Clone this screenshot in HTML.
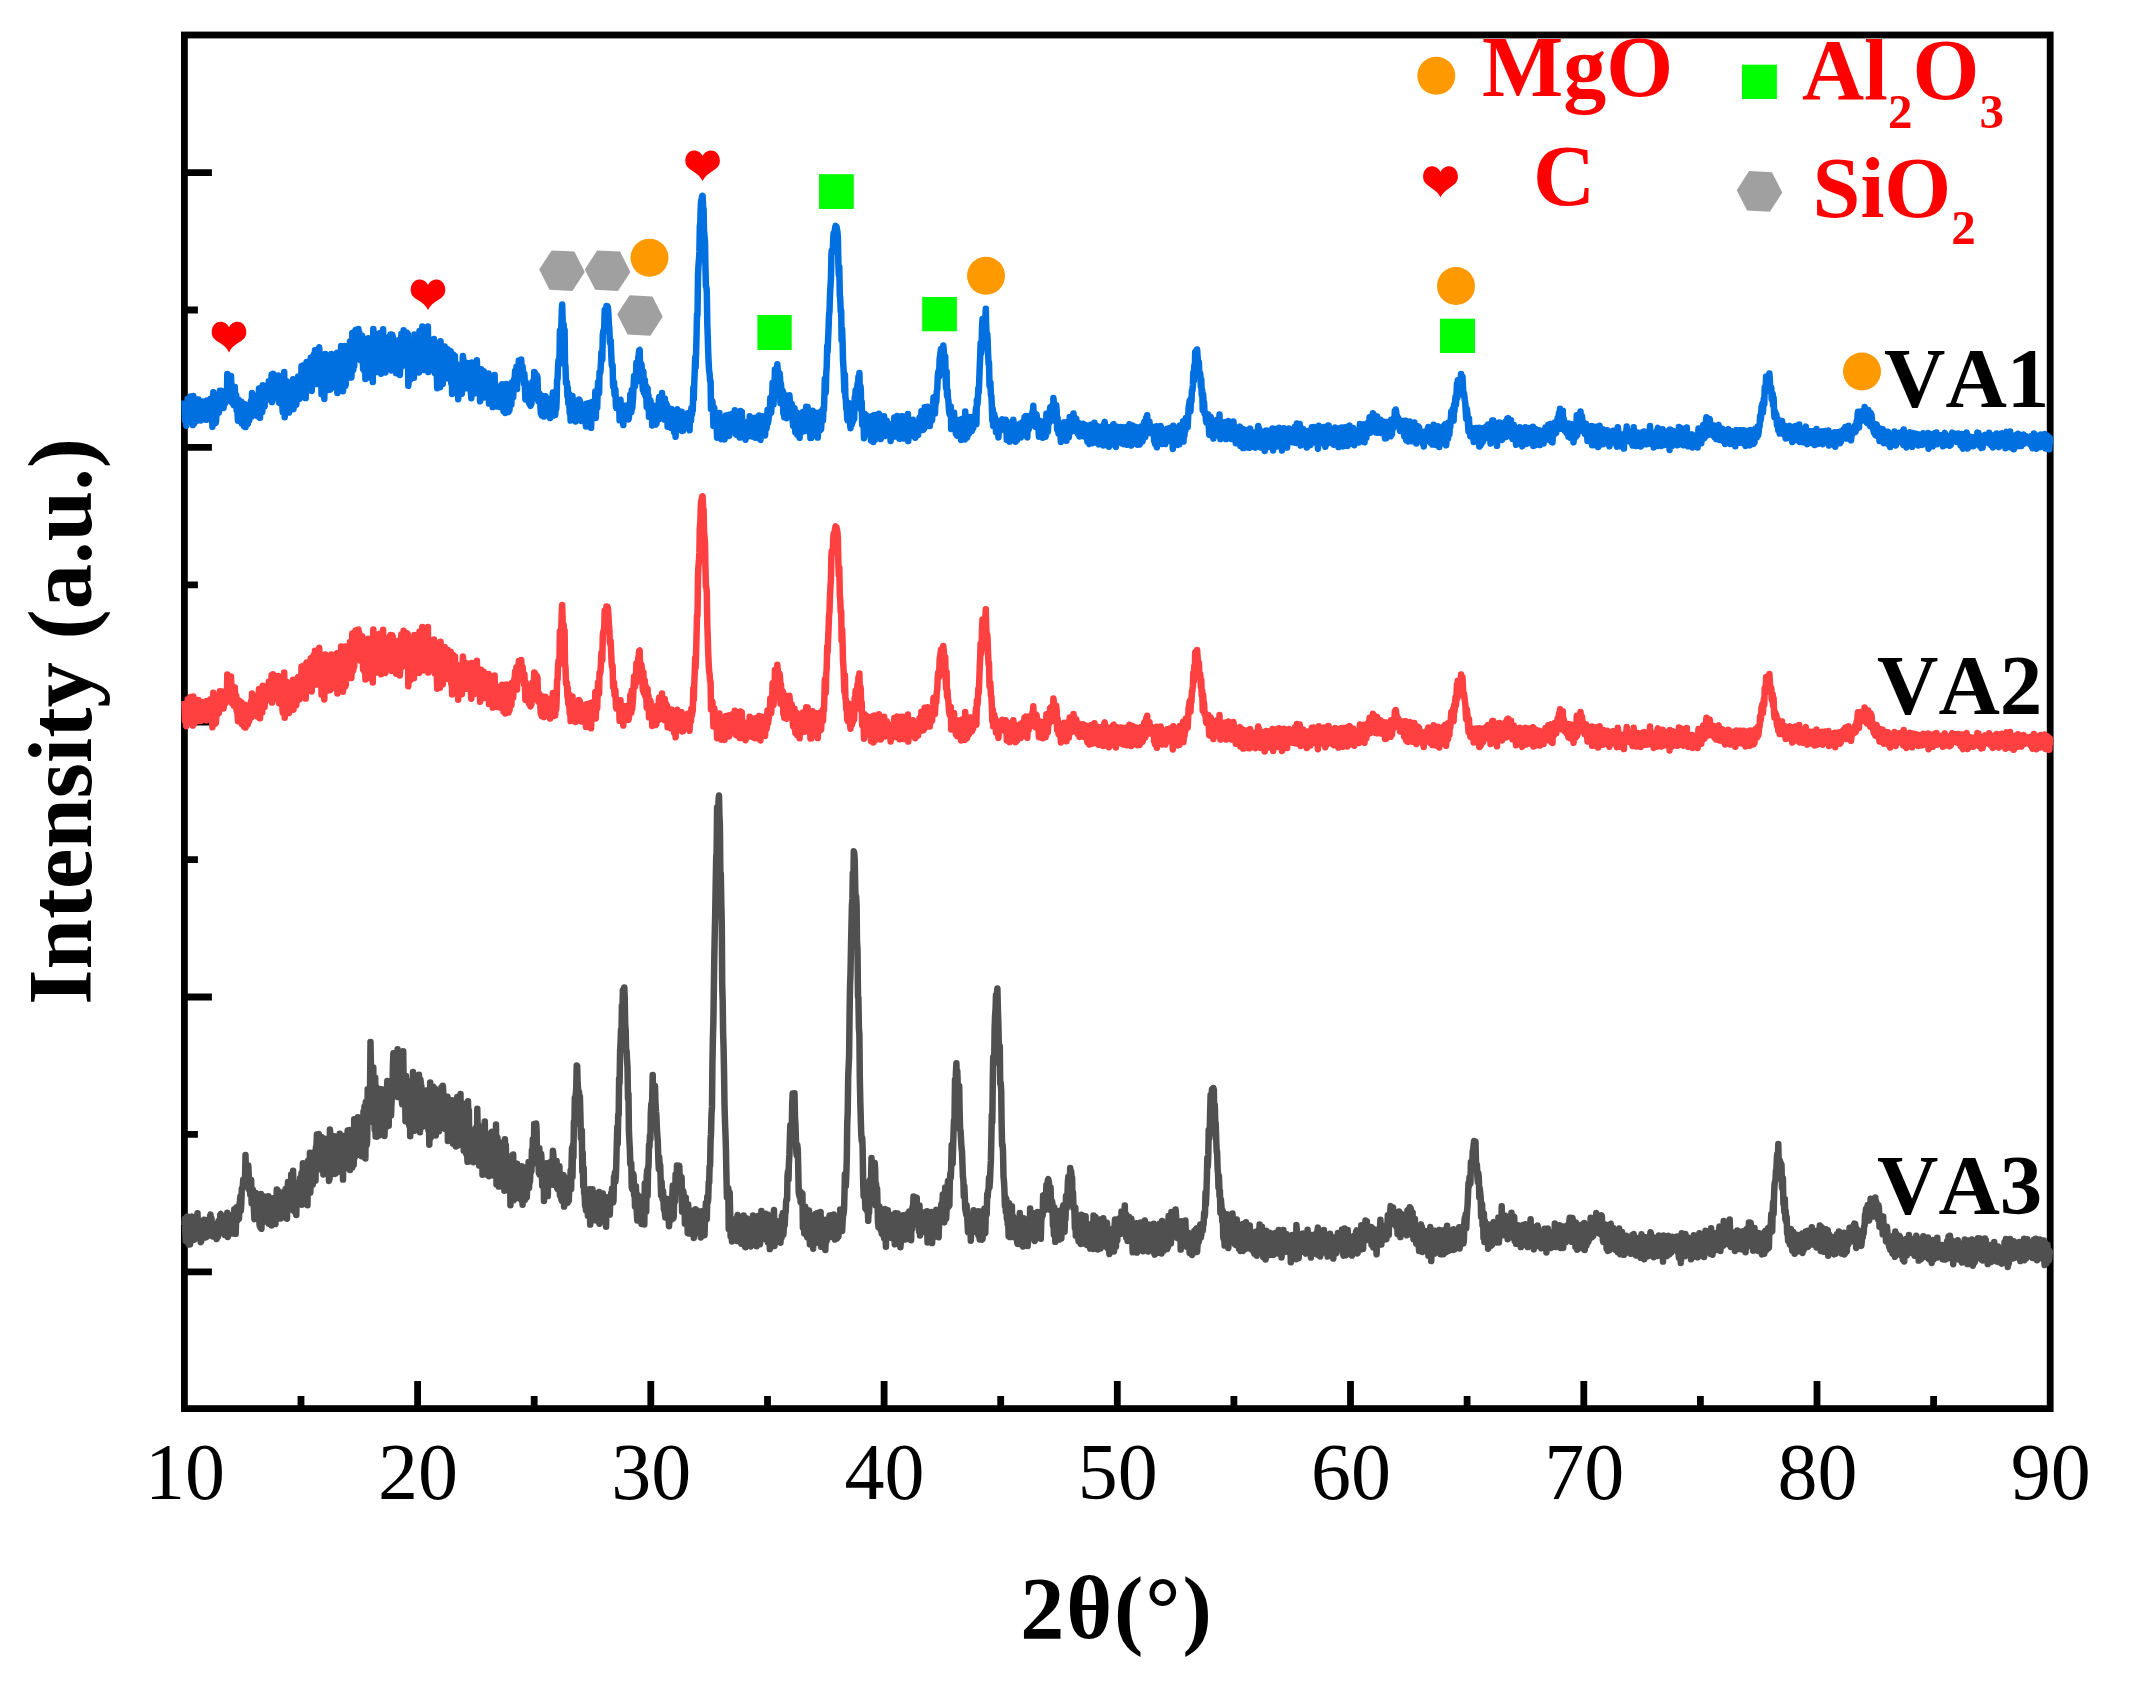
<!DOCTYPE html>
<html><head><meta charset="utf-8"><title>XRD</title>
<style>
html,body{margin:0;padding:0;background:#fff}
svg{display:block}
text{font-family:"Liberation Serif",serif}
.tl{font-size:80px;fill:#000}
.b{font-weight:bold}
.lg{font-size:86px;font-weight:bold;fill:#ff0000}
.va{font-size:85px;font-weight:bold;fill:#000;font-kerning:none}
.c{fill:none;stroke-width:6.5;stroke-linejoin:round;stroke-linecap:butt}
</style></head><body>
<svg width="2133" height="1682" viewBox="0 0 2133 1682">
<rect width="2133" height="1682" fill="#fff"/>
<rect x="184.4" y="35.0" width="1865.8" height="1373.6" fill="none" stroke="#000" stroke-width="6.8"/>
<path d="M301.0 1408.6V1396.1M417.6 1408.6V1381.1M534.2 1408.6V1396.1M650.8 1408.6V1381.1M767.5 1408.6V1396.1M884.1 1408.6V1381.1M1000.7 1408.6V1396.1M1117.3 1408.6V1381.1M1233.9 1408.6V1396.1M1350.5 1408.6V1381.1M1467.1 1408.6V1396.1M1583.8 1408.6V1381.1M1700.4 1408.6V1396.1M1817.0 1408.6V1381.1M1933.6 1408.6V1396.1M184.4 172.6H211.9M184.4 310.0H197.9M184.4 447.4H211.9M184.4 584.8H197.9M184.4 722.2H211.9M184.4 859.6H197.9M184.4 997.0H211.9M184.4 1134.4H197.9M184.4 1271.8H211.9" stroke="#000" stroke-width="6.8" fill="none"/>
<path class="c" stroke="#0070e0" d="M184.4 400.3L184.9 420.2L185.3 409.7L185.8 413.6L186.3 425.7L186.7 410.1L187.2 410.5L187.7 398.8L188.1 407.9L188.6 408.5L189.1 416.0L189.5 419.3L190.0 407.9L190.5 396.5L190.9 401.4L191.4 421.8L191.9 406.5L192.3 408.7L192.8 425.1L193.3 396.1L193.7 414.4L194.2 423.5L194.7 402.0L195.1 410.4L195.6 420.1L196.1 399.2L196.5 408.4L197.0 420.7L197.5 415.5L197.9 411.3L198.4 399.5L198.9 411.2L199.3 405.5L199.8 406.8L200.3 409.1L200.7 420.4L201.2 413.7L201.7 404.3L202.1 410.7L202.6 401.6L203.1 405.2L203.5 403.6L204.0 414.2L204.5 410.0L204.9 415.3L205.4 419.3L205.9 407.7L206.3 419.8L206.8 400.5L207.3 417.7L207.7 405.2L208.2 402.8L208.7 417.4L209.1 412.4L209.6 406.8L210.1 402.3L210.5 398.8L211.0 415.3L211.5 414.5L211.9 411.2L212.4 426.8L212.9 416.5L213.3 392.3L213.8 404.1L214.3 410.1L214.7 405.7L215.2 421.9L215.7 423.1L216.1 420.4L216.6 409.4L217.1 414.5L217.5 396.8L218.0 402.1L218.5 406.4L218.9 412.6L219.4 406.1L219.9 390.7L220.3 398.9L220.8 393.5L221.2 400.1L221.7 391.1L222.2 402.5L222.6 398.7L223.1 405.6L223.6 408.0L224.0 400.7L224.5 394.3L225.0 396.4L225.4 403.1L225.9 399.5L226.4 399.1L226.8 401.2L227.3 374.0L227.8 399.9L228.2 382.6L228.7 387.6L229.2 397.2L229.6 393.1L230.1 380.0L230.6 397.5L231.0 375.9L231.5 389.7L232.0 402.5L232.4 395.1L232.9 401.6L233.4 401.2L233.8 405.1L234.3 404.5L234.8 387.0L235.2 402.2L235.7 400.2L236.2 395.0L236.6 410.1L237.1 408.0L237.6 414.7L238.0 420.7L238.5 402.3L239.0 400.0L239.4 416.3L239.9 401.8L240.4 403.5L240.8 417.1L241.3 401.7L241.8 423.3L242.2 421.1L242.7 403.6L243.2 413.7L243.6 420.6L244.1 426.2L244.6 404.1L245.0 406.5L245.5 427.1L246.0 425.6L246.4 405.6L246.9 412.0L247.4 415.0L247.8 423.9L248.3 407.0L248.8 419.5L249.2 420.7L249.7 413.6L250.2 403.6L250.6 403.2L251.1 400.4L251.6 416.7L252.0 393.0L252.5 398.6L253.0 404.8L253.4 399.9L253.9 399.2L254.4 395.6L254.8 412.0L255.3 414.9L255.8 403.5L256.2 400.6L256.7 402.3L257.2 408.7L257.6 416.1L258.1 414.1L258.6 394.7L259.0 388.4L259.5 412.9L260.0 417.8L260.4 401.6L260.9 410.1L261.4 406.5L261.8 403.1L262.3 411.9L262.8 385.2L263.2 390.2L263.7 394.1L264.2 390.0L264.6 406.5L265.1 386.5L265.6 401.1L266.0 385.9L266.5 389.9L267.0 395.2L267.4 386.0L267.9 390.8L268.4 396.2L268.8 381.3L269.3 396.0L269.8 386.2L270.2 384.5L270.7 383.4L271.2 384.8L271.6 374.8L272.1 402.1L272.6 391.7L273.0 373.8L273.5 381.6L274.0 375.1L274.4 380.4L274.9 376.1L275.4 384.3L275.8 397.9L276.3 376.5L276.8 389.9L277.2 387.4L277.7 394.4L278.2 375.6L278.6 394.4L279.1 402.9L279.6 391.1L280.0 385.3L280.5 398.2L281.0 397.8L281.4 400.8L281.9 381.1L282.4 407.8L282.8 412.3L283.3 393.5L283.8 393.4L284.2 372.0L284.7 417.2L285.2 411.7L285.6 392.2L286.1 402.5L286.6 381.2L287.0 390.3L287.5 387.7L288.0 400.1L288.4 384.3L288.9 412.6L289.4 389.0L289.8 387.6L290.3 382.2L290.8 403.9L291.2 408.5L291.7 397.6L292.1 391.6L292.6 399.6L293.1 379.3L293.5 409.2L294.0 399.7L294.5 387.4L294.9 397.8L295.4 400.0L295.9 381.8L296.3 404.6L296.8 388.5L297.3 400.3L297.7 399.9L298.2 376.4L298.7 390.0L299.1 377.8L299.6 398.9L300.1 388.5L300.5 383.2L301.0 395.8L301.5 366.2L301.9 389.9L302.4 380.6L302.9 365.6L303.3 391.4L303.8 382.6L304.3 393.9L304.7 381.2L305.2 376.4L305.7 398.1L306.1 367.6L306.6 361.9L307.1 390.3L307.5 378.3L308.0 366.5L308.5 389.6L308.9 367.7L309.4 389.3L309.9 376.2L310.3 370.8L310.8 357.7L311.3 363.5L311.7 391.0L312.2 370.4L312.7 356.6L313.1 364.0L313.6 384.1L314.1 354.3L314.5 377.2L315.0 350.3L315.5 381.6L315.9 372.6L316.4 356.5L316.9 384.1L317.3 362.3L317.8 374.5L318.3 376.3L318.7 350.3L319.2 347.3L319.7 357.6L320.1 366.1L320.6 356.3L321.1 358.4L321.5 394.1L322.0 355.7L322.5 369.2L322.9 360.4L323.4 365.6L323.9 384.9L324.3 399.0L324.8 368.6L325.3 354.0L325.7 390.5L326.2 359.3L326.7 370.6L327.1 375.6L327.6 390.1L328.1 385.7L328.5 375.5L329.0 368.3L329.5 388.5L329.9 388.7L330.4 389.5L330.9 383.3L331.3 354.0L331.8 363.4L332.3 370.0L332.7 373.8L333.2 387.3L333.7 365.2L334.1 384.8L334.6 369.2L335.1 381.2L335.5 356.4L336.0 370.7L336.5 353.8L336.9 352.8L337.4 392.9L337.9 363.3L338.3 385.5L338.8 365.8L339.3 352.6L339.7 387.7L340.2 357.1L340.7 386.9L341.1 346.1L341.6 377.4L342.1 355.9L342.5 362.0L343.0 391.2L343.5 365.0L343.9 384.8L344.4 384.8L344.9 346.0L345.3 386.1L345.8 384.4L346.3 357.7L346.7 363.5L347.2 352.6L347.7 378.0L348.1 354.0L348.6 362.8L349.1 375.7L349.5 373.1L350.0 341.4L350.5 377.6L350.9 349.1L351.4 377.4L351.9 359.7L352.3 332.9L352.8 370.6L353.3 369.7L353.7 361.0L354.2 366.1L354.7 341.2L355.1 336.7L355.6 329.9L356.1 347.4L356.5 345.3L357.0 338.0L357.5 348.1L357.9 339.8L358.4 329.0L358.9 342.1L359.3 332.6L359.8 350.4L360.3 360.0L360.7 335.6L361.2 359.8L361.7 349.5L362.1 335.7L362.6 352.6L363.1 368.9L363.5 349.8L364.0 362.5L364.4 371.1L364.9 347.8L365.4 378.9L365.8 349.5L366.3 356.8L366.8 361.8L367.2 355.1L367.7 362.2L368.2 338.3L368.6 377.4L369.1 359.7L369.6 344.9L370.0 354.0L370.5 373.3L371.0 365.0L371.4 353.1L371.9 350.0L372.4 349.3L372.8 381.9L373.3 328.9L373.8 365.6L374.2 367.1L374.7 341.8L375.2 342.9L375.6 354.0L376.1 368.2L376.6 372.1L377.0 372.1L377.5 344.8L378.0 333.8L378.4 344.3L378.9 357.1L379.4 347.3L379.8 333.2L380.3 354.8L380.8 366.3L381.2 373.7L381.7 370.5L382.2 366.9L382.6 366.1L383.1 329.3L383.6 364.9L384.0 340.9L384.5 350.9L385.0 343.2L385.4 372.5L385.9 354.8L386.4 344.0L386.8 343.4L387.3 362.2L387.8 364.5L388.2 338.1L388.7 344.0L389.2 342.5L389.6 336.2L390.1 352.9L390.6 334.5L391.0 361.4L391.5 370.4L392.0 367.3L392.4 334.8L392.9 337.2L393.4 347.2L393.8 350.0L394.3 351.4L394.8 345.7L395.2 349.6L395.7 340.9L396.2 373.3L396.6 364.4L397.1 345.1L397.6 363.6L398.0 357.4L398.5 352.3L399.0 340.1L399.4 355.1L399.9 375.0L400.4 360.9L400.8 367.6L401.3 334.1L401.8 353.1L402.2 352.7L402.7 339.1L403.2 350.2L403.6 330.2L404.1 339.6L404.6 360.7L405.0 357.6L405.5 365.6L406.0 334.5L406.4 339.1L406.9 334.8L407.4 332.9L407.8 333.9L408.3 385.8L408.8 374.1L409.2 341.3L409.7 345.8L410.2 379.6L410.6 355.7L411.1 348.6L411.6 357.9L412.0 344.3L412.5 361.1L413.0 363.5L413.4 354.4L413.9 377.8L414.4 334.4L414.8 360.2L415.3 372.9L415.8 340.3L416.2 358.8L416.7 368.6L417.2 347.8L417.6 367.7L418.1 362.1L418.6 353.0L419.0 372.5L419.5 331.0L420.0 368.9L420.4 336.9L420.9 341.3L421.4 355.2L421.8 346.3L422.3 326.5L422.8 336.2L423.2 348.5L423.7 369.9L424.2 362.7L424.6 349.1L425.1 368.8L425.6 363.8L426.0 336.0L426.5 329.5L427.0 348.0L427.4 340.0L427.9 326.5L428.4 372.1L428.8 364.9L429.3 349.7L429.8 356.5L430.2 367.6L430.7 367.7L431.2 360.9L431.6 357.6L432.1 352.7L432.6 353.6L433.0 354.1L433.5 350.5L434.0 339.0L434.4 356.1L434.9 373.2L435.4 354.9L435.8 373.5L436.3 373.3L436.7 372.1L437.2 388.2L437.7 343.7L438.1 344.6L438.6 387.2L439.1 382.8L439.5 349.5L440.0 387.3L440.5 341.2L440.9 348.4L441.4 352.2L441.9 353.9L442.3 364.4L442.8 383.9L443.3 363.1L443.7 355.6L444.2 358.1L444.7 346.4L445.1 351.0L445.6 362.9L446.1 374.1L446.5 363.1L447.0 370.3L447.5 349.2L447.9 378.5L448.4 366.9L448.9 362.6L449.3 376.8L449.8 360.4L450.3 358.6L450.7 351.3L451.2 383.1L451.7 360.0L452.1 393.9L452.6 373.3L453.1 354.5L453.5 377.9L454.0 386.8L454.5 391.0L454.9 356.1L455.4 386.1L455.9 381.5L456.3 363.8L456.8 371.2L457.3 375.8L457.7 373.3L458.2 399.2L458.7 378.8L459.1 385.9L459.6 382.1L460.1 380.5L460.5 372.0L461.0 368.3L461.5 382.9L461.9 393.7L462.4 366.9L462.9 356.0L463.3 359.5L463.8 377.5L464.3 383.7L464.7 366.4L465.2 369.5L465.7 377.2L466.1 388.3L466.6 368.0L467.1 363.1L467.5 379.8L468.0 374.4L468.5 369.2L468.9 381.8L469.4 385.7L469.9 363.8L470.3 383.2L470.8 392.3L471.3 398.3L471.7 362.5L472.2 390.4L472.7 366.8L473.1 382.7L473.6 378.8L474.1 393.7L474.5 384.5L475.0 364.1L475.5 386.9L475.9 371.9L476.4 392.4L476.9 360.3L477.3 374.1L477.8 383.7L478.3 370.4L478.7 381.9L479.2 389.5L479.7 390.1L480.1 401.3L480.6 378.8L481.1 369.2L481.5 378.4L482.0 380.9L482.5 373.3L482.9 393.7L483.4 371.5L483.9 371.4L484.3 397.4L484.8 395.3L485.3 377.6L485.7 378.9L486.2 396.0L486.7 384.8L487.1 382.1L487.6 388.0L488.1 398.7L488.5 373.5L489.0 403.6L489.5 389.1L489.9 381.0L490.4 403.7L490.9 380.0L491.3 388.7L491.8 394.1L492.3 383.1L492.7 407.1L493.2 396.7L493.7 380.6L494.1 385.3L494.6 375.0L495.1 395.4L495.5 384.6L496.0 392.1L496.5 405.3L496.9 406.5L497.4 386.6L497.9 389.5L498.3 394.1L498.8 393.2L499.3 393.2L499.7 394.9L500.2 407.1L500.7 394.9L501.1 391.0L501.6 392.7L502.1 384.3L502.5 400.6L503.0 392.3L503.5 411.2L503.9 408.3L504.4 388.5L504.9 389.0L505.3 412.9L505.8 401.9L506.3 384.1L506.7 406.9L507.2 392.0L507.6 406.7L508.1 409.0L508.6 412.0L509.0 405.1L509.5 409.8L510.0 390.4L510.4 395.5L510.9 387.3L511.4 404.6L511.8 382.5L512.3 390.9L512.8 391.1L513.2 397.2L513.7 385.3L514.2 379.0L514.6 380.9L515.1 371.1L515.6 374.5L516.0 385.8L516.5 366.7L517.0 389.1L517.4 372.7L517.9 368.3L518.4 377.4L518.8 360.5L519.3 366.2L519.8 375.8L520.2 361.7L520.7 377.2L521.2 359.4L521.6 369.7L522.1 377.8L522.6 366.6L523.0 371.9L523.5 378.2L524.0 384.0L524.4 374.0L524.9 385.7L525.4 399.5L525.8 382.3L526.3 396.0L526.8 385.2L527.2 388.8L527.7 392.9L528.2 398.6L528.6 401.2L529.1 403.4L529.6 400.8L530.0 404.0L530.5 405.9L531.0 392.1L531.4 403.9L531.9 389.6L532.4 381.9L532.8 382.9L533.3 398.6L533.8 390.4L534.2 372.0L534.7 389.8L535.2 373.3L535.6 382.1L536.1 384.1L536.6 388.2L537.0 375.5L537.5 377.6L538.0 395.5L538.4 401.2L538.9 400.2L539.4 393.4L539.8 400.7L540.3 404.6L540.8 413.3L541.2 406.2L541.7 415.4L542.2 401.5L542.6 395.9L543.1 402.2L543.6 412.1L544.0 416.6L544.5 403.0L545.0 412.9L545.4 396.2L545.9 410.4L546.4 404.8L546.8 402.4L547.3 398.5L547.8 409.7L548.2 410.9L548.7 411.3L549.2 414.3L549.6 406.7L550.1 418.1L550.6 409.4L551.0 414.1L551.5 407.0L552.0 413.0L552.4 398.7L552.9 392.5L553.4 415.6L553.8 399.2L554.3 392.7L554.8 403.0L555.2 415.1L555.7 405.9L556.2 409.3L556.6 401.5L557.1 379.8L557.6 378.9L558.0 366.4L558.5 360.3L559.0 363.0L559.4 364.1L559.9 330.7L560.4 338.8L560.8 331.3L561.3 327.3L561.8 310.4L562.2 304.4L562.7 322.1L563.2 325.4L563.6 324.0L564.1 333.9L564.6 330.0L565.0 362.9L565.5 366.9L566.0 383.1L566.4 382.3L566.9 382.1L567.4 396.1L567.8 387.7L568.3 403.3L568.8 393.6L569.2 401.8L569.7 413.2L570.2 404.3L570.6 420.6L571.1 412.1L571.6 400.9L572.0 402.9L572.5 395.9L573.0 412.9L573.4 416.8L573.9 402.5L574.4 412.7L574.8 419.4L575.3 411.3L575.8 421.5L576.2 420.7L576.7 412.4L577.2 412.2L577.6 402.5L578.1 410.4L578.6 418.8L579.0 399.4L579.5 403.5L579.9 400.7L580.4 403.3L580.9 407.5L581.3 420.9L581.8 414.4L582.3 413.3L582.7 407.9L583.2 409.0L583.7 415.3L584.1 418.8L584.6 406.7L585.1 408.5L585.5 418.1L586.0 426.5L586.5 403.8L586.9 411.4L587.4 414.5L587.9 405.2L588.3 412.4L588.8 422.3L589.3 403.0L589.7 411.7L590.2 402.8L590.7 413.0L591.1 427.8L591.6 409.8L592.1 402.0L592.5 405.8L593.0 417.5L593.5 415.4L593.9 409.4L594.4 408.0L594.9 416.2L595.3 391.5L595.8 417.9L596.3 401.8L596.7 397.2L597.2 408.0L597.7 390.1L598.1 381.9L598.6 383.1L599.1 393.2L599.5 372.4L600.0 373.4L600.5 371.2L600.9 364.0L601.4 352.4L601.9 360.1L602.3 359.6L602.8 334.5L603.3 331.5L603.7 329.8L604.2 328.5L604.7 309.9L605.1 319.6L605.6 317.9L606.1 312.6L606.5 306.0L607.0 315.5L607.5 306.3L607.9 307.4L608.4 314.0L608.9 324.9L609.3 327.1L609.8 341.6L610.3 343.8L610.7 340.6L611.2 353.3L611.7 364.2L612.1 366.4L612.6 365.0L613.1 386.5L613.5 385.2L614.0 381.9L614.5 394.5L614.9 389.0L615.4 389.7L615.9 406.2L616.3 407.9L616.8 401.7L617.3 400.3L617.7 407.5L618.2 408.9L618.7 405.6L619.1 403.3L619.6 420.3L620.1 402.7L620.5 399.8L621.0 416.5L621.5 419.4L621.9 405.9L622.4 409.6L622.9 413.8L623.3 425.1L623.8 406.0L624.3 416.0L624.7 405.8L625.2 414.6L625.7 413.1L626.1 412.0L626.6 415.1L627.1 408.4L627.5 405.2L628.0 406.8L628.5 419.4L628.9 417.5L629.4 407.5L629.9 411.1L630.3 394.7L630.8 400.3L631.3 412.2L631.7 390.2L632.2 408.6L632.7 402.6L633.1 397.2L633.6 385.6L634.1 376.1L634.5 381.4L635.0 386.2L635.5 375.2L635.9 377.4L636.4 362.8L636.9 381.3L637.3 378.0L637.8 369.7L638.3 357.4L638.7 354.7L639.2 350.4L639.7 350.0L640.1 368.1L640.6 363.1L641.1 374.7L641.5 364.6L642.0 370.8L642.5 384.7L642.9 390.0L643.4 371.8L643.9 392.3L644.3 386.0L644.8 380.1L645.3 395.6L645.7 385.6L646.2 394.1L646.7 407.0L647.1 405.7L647.6 388.6L648.1 408.0L648.5 395.8L649.0 416.8L649.5 415.0L649.9 414.1L650.4 400.2L650.8 402.9L651.3 415.3L651.8 409.4L652.2 425.4L652.7 413.0L653.2 410.9L653.6 406.2L654.1 417.2L654.6 424.0L655.0 405.9L655.5 424.6L656.0 406.5L656.4 423.5L656.9 413.7L657.4 407.2L657.8 415.3L658.3 419.7L658.8 400.5L659.2 397.0L659.7 398.0L660.2 405.3L660.6 417.3L661.1 418.0L661.6 401.4L662.0 393.1L662.5 406.4L663.0 405.9L663.4 400.0L663.9 408.9L664.4 419.6L664.8 398.6L665.3 404.8L665.8 417.9L666.2 403.5L666.7 407.8L667.2 405.4L667.6 426.7L668.1 412.1L668.6 409.0L669.0 422.3L669.5 426.8L670.0 427.3L670.4 414.8L670.9 428.0L671.4 409.1L671.8 419.5L672.3 419.0L672.8 422.7L673.2 416.8L673.7 415.1L674.2 432.5L674.6 415.5L675.1 421.0L675.6 436.8L676.0 418.2L676.5 418.4L677.0 425.2L677.4 409.3L677.9 412.0L678.4 425.3L678.8 420.2L679.3 413.5L679.8 411.7L680.2 425.8L680.7 429.8L681.2 422.8L681.6 411.8L682.1 430.9L682.6 416.8L683.0 430.6L683.5 415.1L684.0 428.5L684.4 426.1L684.9 419.4L685.4 423.9L685.8 424.5L686.3 424.4L686.8 422.7L687.2 425.9L687.7 413.2L688.2 420.5L688.6 425.9L689.1 421.5L689.6 430.2L690.0 417.4L690.5 415.7L691.0 420.7L691.4 408.2L691.9 415.0L692.4 410.1L692.8 410.1L693.3 387.8L693.8 399.1L694.2 385.0L694.7 372.4L695.2 357.6L695.6 367.3L696.1 352.0L696.6 333.2L697.0 314.8L697.5 314.8L698.0 275.5L698.4 266.3L698.9 260.6L699.4 251.9L699.8 226.9L700.3 222.6L700.8 205.6L701.2 200.4L701.7 199.1L702.2 195.8L702.6 195.7L703.1 207.1L703.6 209.3L704.0 230.7L704.5 235.8L705.0 242.0L705.4 265.8L705.9 286.5L706.4 287.1L706.8 291.8L707.3 324.1L707.8 338.0L708.2 352.0L708.7 363.6L709.2 371.5L709.6 373.4L710.1 380.8L710.6 381.2L711.0 409.0L711.5 407.2L712.0 402.6L712.4 401.2L712.9 409.1L713.4 426.0L713.8 410.3L714.3 407.6L714.8 420.5L715.2 418.5L715.7 425.9L716.2 424.4L716.6 423.9L717.1 437.7L717.6 437.1L718.0 419.1L718.5 421.6L719.0 423.8L719.4 413.1L719.9 432.3L720.4 429.3L720.8 422.1L721.3 439.2L721.8 429.3L722.2 420.1L722.7 427.9L723.1 435.2L723.6 434.7L724.1 435.2L724.5 439.4L725.0 426.1L725.5 425.4L725.9 415.6L726.4 424.6L726.9 421.4L727.3 416.9L727.8 435.2L728.3 415.6L728.7 414.9L729.2 435.9L729.7 427.7L730.1 425.2L730.6 432.3L731.1 422.2L731.5 416.7L732.0 425.9L732.5 413.7L732.9 426.2L733.4 431.3L733.9 429.2L734.3 432.0L734.8 410.2L735.3 419.7L735.7 434.2L736.2 434.7L736.7 422.9L737.1 430.4L737.6 420.8L738.1 419.3L738.5 416.8L739.0 434.9L739.5 423.8L739.9 437.6L740.4 410.9L740.9 429.9L741.3 433.5L741.8 412.1L742.3 427.4L742.7 432.1L743.2 434.3L743.7 433.1L744.1 432.6L744.6 436.5L745.1 424.7L745.5 439.7L746.0 428.7L746.5 422.2L746.9 437.2L747.4 423.3L747.9 422.8L748.3 435.0L748.8 435.7L749.3 426.6L749.7 416.2L750.2 430.1L750.7 427.6L751.1 434.3L751.6 422.5L752.1 436.4L752.5 433.7L753.0 436.0L753.5 431.8L753.9 430.6L754.4 434.7L754.9 437.7L755.3 417.7L755.8 428.9L756.3 435.8L756.7 436.8L757.2 418.7L757.7 424.4L758.1 437.8L758.6 429.2L759.1 415.6L759.5 424.8L760.0 432.2L760.5 439.9L760.9 425.9L761.4 420.3L761.9 418.7L762.3 416.7L762.8 417.6L763.3 416.3L763.7 429.3L764.2 430.7L764.7 424.1L765.1 435.4L765.6 416.5L766.1 416.5L766.5 428.5L767.0 424.5L767.5 409.9L767.9 423.4L768.4 420.4L768.9 416.4L769.3 408.8L769.8 413.9L770.3 398.1L770.7 401.3L771.2 412.5L771.7 403.2L772.1 401.2L772.6 382.8L773.1 391.1L773.5 404.6L774.0 396.0L774.5 394.4L774.9 369.5L775.4 370.4L775.9 372.6L776.3 385.7L776.8 372.8L777.3 364.2L777.7 369.0L778.2 383.8L778.7 376.0L779.1 389.3L779.6 373.3L780.1 378.2L780.5 403.1L781.0 384.0L781.5 401.4L781.9 401.4L782.4 390.3L782.9 391.5L783.3 413.3L783.8 393.8L784.3 417.2L784.7 396.3L785.2 400.3L785.7 407.9L786.1 401.4L786.6 418.2L787.1 401.1L787.5 396.3L788.0 397.0L788.5 403.3L788.9 410.8L789.4 395.3L789.9 401.1L790.3 406.9L790.8 405.0L791.3 416.6L791.7 403.7L792.2 407.8L792.7 421.2L793.1 425.6L793.6 411.9L794.1 426.9L794.5 408.2L795.0 426.7L795.4 432.6L795.9 424.2L796.4 430.9L796.8 412.4L797.3 434.7L797.8 426.1L798.2 424.7L798.7 426.6L799.2 417.2L799.6 437.8L800.1 421.1L800.6 427.7L801.0 416.5L801.5 429.3L802.0 416.4L802.4 431.7L802.9 412.0L803.4 413.8L803.8 415.5L804.3 421.9L804.8 431.1L805.2 410.7L805.7 417.4L806.2 406.8L806.6 411.6L807.1 410.6L807.6 407.0L808.0 421.2L808.5 415.7L809.0 414.4L809.4 423.7L809.9 417.3L810.4 437.9L810.8 418.6L811.3 437.8L811.8 417.1L812.2 432.0L812.7 410.7L813.2 412.5L813.6 414.5L814.1 431.5L814.6 420.9L815.0 418.3L815.5 431.0L816.0 412.7L816.4 425.6L816.9 419.3L817.4 416.1L817.8 437.6L818.3 416.3L818.8 417.4L819.2 427.5L819.7 430.6L820.2 417.7L820.6 412.0L821.1 429.0L821.6 417.3L822.0 414.1L822.5 409.9L823.0 420.3L823.4 408.3L823.9 410.2L824.4 396.0L824.8 379.1L825.3 390.0L825.8 392.8L826.2 373.7L826.7 367.8L827.2 346.1L827.6 351.8L828.1 338.5L828.6 327.8L829.0 315.3L829.5 311.0L830.0 295.4L830.4 286.7L830.9 279.5L831.4 255.1L831.8 250.4L832.3 250.4L832.8 252.3L833.2 238.0L833.7 232.9L834.2 235.2L834.6 237.0L835.1 227.7L835.6 225.9L836.0 226.8L836.5 226.8L837.0 229.7L837.4 231.3L837.9 238.1L838.4 263.9L838.8 274.9L839.3 266.9L839.8 295.6L840.2 298.0L840.7 311.7L841.2 310.5L841.6 339.9L842.1 329.0L842.6 342.2L843.0 360.7L843.5 367.5L844.0 380.6L844.4 391.6L844.9 374.8L845.4 397.8L845.8 398.7L846.3 409.0L846.8 409.6L847.2 418.9L847.7 420.5L848.2 419.5L848.6 403.1L849.1 417.9L849.6 420.5L850.0 422.9L850.5 428.2L851.0 414.7L851.4 406.3L851.9 424.4L852.4 412.9L852.8 421.7L853.3 407.7L853.8 409.2L854.2 418.8L854.7 397.5L855.2 398.6L855.6 390.2L856.1 408.0L856.6 397.9L857.0 389.9L857.5 383.7L858.0 395.1L858.4 377.0L858.9 387.5L859.4 373.1L859.8 389.3L860.3 385.6L860.8 388.9L861.2 409.9L861.7 402.1L862.2 424.8L862.6 419.3L863.1 423.3L863.6 422.6L864.0 438.2L864.5 413.7L865.0 434.6L865.4 421.1L865.9 415.0L866.3 433.4L866.8 416.1L867.3 428.1L867.7 433.6L868.2 419.5L868.7 433.1L869.1 434.4L869.6 430.1L870.1 417.0L870.5 433.3L871.0 440.4L871.5 416.2L871.9 439.3L872.4 436.0L872.9 420.9L873.3 442.0L873.8 435.6L874.3 414.9L874.7 436.3L875.2 439.9L875.7 434.8L876.1 419.5L876.6 426.2L877.1 434.4L877.5 423.5L878.0 422.3L878.5 418.2L878.9 413.7L879.4 422.0L879.9 424.2L880.3 428.0L880.8 439.0L881.3 417.4L881.7 426.3L882.2 432.8L882.7 436.1L883.1 417.1L883.6 432.7L884.1 416.2L884.5 436.1L885.0 423.2L885.5 429.9L885.9 427.6L886.4 430.1L886.9 420.7L887.3 423.5L887.8 423.2L888.3 432.9L888.7 425.7L889.2 431.3L889.7 426.5L890.1 433.0L890.6 441.1L891.1 433.3L891.5 432.5L892.0 428.7L892.5 427.8L892.9 428.9L893.4 423.1L893.9 431.7L894.3 417.6L894.8 431.6L895.3 436.6L895.7 435.5L896.2 433.3L896.7 419.8L897.1 416.1L897.6 419.4L898.1 428.4L898.5 417.6L899.0 416.6L899.5 438.8L899.9 427.1L900.4 416.4L900.9 427.2L901.3 433.2L901.8 425.3L902.3 416.2L902.7 428.3L903.2 419.5L903.7 430.1L904.1 438.5L904.6 417.1L905.1 428.3L905.5 438.1L906.0 430.7L906.5 419.2L906.9 421.8L907.4 426.4L907.9 414.0L908.3 441.1L908.8 431.7L909.3 425.7L909.7 434.7L910.2 423.5L910.7 427.6L911.1 430.0L911.6 421.0L912.1 435.3L912.5 431.6L913.0 419.8L913.5 424.4L913.9 422.2L914.4 436.1L914.9 431.4L915.3 437.7L915.8 432.3L916.3 434.3L916.7 426.9L917.2 435.2L917.7 422.2L918.1 435.0L918.6 426.9L919.1 428.2L919.5 417.8L920.0 426.2L920.5 429.0L920.9 427.9L921.4 411.3L921.9 416.6L922.3 421.8L922.8 430.0L923.3 414.3L923.7 429.4L924.2 427.9L924.7 407.3L925.1 426.9L925.6 420.2L926.1 410.8L926.5 412.2L927.0 416.0L927.5 406.7L927.9 421.7L928.4 410.6L928.9 410.9L929.3 422.1L929.8 426.1L930.3 413.9L930.7 409.4L931.2 421.1L931.7 413.2L932.1 420.2L932.6 406.8L933.1 404.3L933.5 397.5L934.0 402.8L934.5 397.1L934.9 413.5L935.4 404.6L935.9 400.9L936.3 401.8L936.8 391.4L937.3 389.1L937.7 377.4L938.2 372.0L938.6 375.4L939.1 376.7L939.6 359.3L940.0 356.4L940.5 353.4L941.0 348.9L941.4 355.5L941.9 360.5L942.4 365.3L942.8 354.3L943.3 345.6L943.8 350.7L944.2 359.9L944.7 373.2L945.2 356.6L945.6 376.8L946.1 388.1L946.6 371.6L947.0 395.6L947.5 390.0L948.0 398.4L948.4 400.5L948.9 409.1L949.4 413.1L949.8 414.7L950.3 411.8L950.8 406.5L951.2 428.9L951.7 413.6L952.2 416.8L952.6 413.5L953.1 418.1L953.6 427.8L954.0 412.4L954.5 421.7L955.0 426.9L955.4 422.0L955.9 433.8L956.4 424.9L956.8 419.9L957.3 435.7L957.8 426.3L958.2 425.3L958.7 420.1L959.2 434.6L959.6 424.5L960.1 425.0L960.6 429.9L961.0 439.9L961.5 423.9L962.0 419.1L962.4 433.6L962.9 435.8L963.4 427.7L963.8 436.5L964.3 422.8L964.8 439.5L965.2 411.6L965.7 432.6L966.2 436.7L966.6 424.9L967.1 437.7L967.6 435.1L968.0 420.7L968.5 417.0L969.0 433.5L969.4 423.9L969.9 423.3L970.4 418.8L970.8 417.4L971.3 418.3L971.8 431.0L972.2 416.9L972.7 420.0L973.2 428.2L973.6 418.3L974.1 421.7L974.6 418.1L975.0 423.5L975.5 414.3L976.0 408.1L976.4 424.3L976.9 399.9L977.4 404.7L977.8 400.8L978.3 388.5L978.8 392.2L979.2 381.4L979.7 367.7L980.2 356.5L980.6 343.2L981.1 353.1L981.6 347.8L982.0 328.2L982.5 318.9L983.0 322.1L983.4 321.8L983.9 321.3L984.4 320.9L984.8 317.3L985.3 318.6L985.8 308.8L986.2 327.0L986.7 336.8L987.2 333.6L987.6 339.2L988.1 354.4L988.6 364.2L989.0 362.3L989.5 385.6L990.0 387.2L990.4 382.4L990.9 394.8L991.4 396.2L991.8 404.6L992.3 420.5L992.8 409.3L993.2 425.8L993.7 414.2L994.2 414.0L994.6 422.0L995.1 417.3L995.6 420.8L996.0 432.2L996.5 423.3L997.0 430.3L997.4 422.8L997.9 424.0L998.4 437.4L998.8 431.1L999.3 423.3L999.8 427.3L1000.2 420.9L1000.7 423.3L1001.2 426.0L1001.6 421.5L1002.1 419.2L1002.6 420.6L1003.0 421.6L1003.5 429.9L1004.0 421.2L1004.4 429.3L1004.9 426.0L1005.4 423.9L1005.8 419.8L1006.3 423.7L1006.8 440.0L1007.2 427.7L1007.7 428.9L1008.2 437.2L1008.6 435.5L1009.1 437.0L1009.6 441.7L1010.0 429.1L1010.5 422.6L1010.9 429.0L1011.4 424.7L1011.9 436.2L1012.3 425.1L1012.8 436.3L1013.3 419.7L1013.7 427.5L1014.2 429.3L1014.7 423.7L1015.1 437.5L1015.6 441.7L1016.1 428.3L1016.5 431.6L1017.0 439.9L1017.5 433.1L1017.9 430.4L1018.4 432.2L1018.9 428.3L1019.3 430.7L1019.8 436.3L1020.3 423.8L1020.7 437.6L1021.2 428.0L1021.7 432.2L1022.1 422.4L1022.6 434.6L1023.1 421.8L1023.5 430.7L1024.0 430.7L1024.5 417.3L1024.9 432.4L1025.4 430.7L1025.9 416.0L1026.3 435.4L1026.8 430.1L1027.3 437.4L1027.7 428.0L1028.2 420.2L1028.7 429.3L1029.1 416.0L1029.6 418.6L1030.1 421.6L1030.5 415.7L1031.0 425.4L1031.5 418.2L1031.9 418.1L1032.4 411.9L1032.9 412.4L1033.3 405.7L1033.8 422.7L1034.3 419.5L1034.7 415.5L1035.2 413.5L1035.7 427.0L1036.1 418.3L1036.6 414.4L1037.1 421.2L1037.5 421.8L1038.0 426.8L1038.5 428.6L1038.9 436.7L1039.4 433.1L1039.9 428.4L1040.3 421.0L1040.8 433.6L1041.3 433.3L1041.7 427.9L1042.2 430.7L1042.7 437.7L1043.1 422.2L1043.6 430.5L1044.1 436.7L1044.5 423.0L1045.0 422.6L1045.5 436.8L1045.9 435.4L1046.4 413.7L1046.9 426.6L1047.3 424.1L1047.8 431.7L1048.3 424.6L1048.7 422.5L1049.2 423.0L1049.7 420.7L1050.1 407.6L1050.6 406.9L1051.1 408.2L1051.5 420.4L1052.0 406.0L1052.5 413.0L1052.9 417.3L1053.4 398.0L1053.9 403.0L1054.3 405.1L1054.8 416.7L1055.3 420.8L1055.7 405.9L1056.2 405.1L1056.7 410.9L1057.1 429.2L1057.6 418.0L1058.1 428.9L1058.5 433.6L1059.0 434.1L1059.5 426.5L1059.9 423.5L1060.4 433.4L1060.9 442.0L1061.3 441.0L1061.8 428.9L1062.3 430.8L1062.7 432.4L1063.2 427.3L1063.7 427.7L1064.1 422.3L1064.6 431.9L1065.1 425.6L1065.5 439.8L1066.0 431.8L1066.5 440.8L1066.9 435.3L1067.4 430.0L1067.9 421.7L1068.3 423.7L1068.8 437.3L1069.3 429.6L1069.7 417.0L1070.2 423.3L1070.7 432.0L1071.1 430.5L1071.6 431.5L1072.1 430.6L1072.5 421.7L1073.0 425.1L1073.5 413.4L1073.9 422.4L1074.4 421.2L1074.9 417.4L1075.3 418.7L1075.8 431.2L1076.3 419.1L1076.7 427.6L1077.2 424.0L1077.7 433.6L1078.1 422.9L1078.6 423.1L1079.1 424.1L1079.5 436.5L1080.0 426.0L1080.5 433.3L1080.9 431.5L1081.4 429.8L1081.8 430.7L1082.3 434.2L1082.8 423.7L1083.2 433.3L1083.7 428.4L1084.2 428.2L1084.6 436.5L1085.1 429.1L1085.6 425.0L1086.0 428.2L1086.5 431.7L1087.0 438.4L1087.4 441.7L1087.9 434.2L1088.4 426.7L1088.8 441.0L1089.3 444.1L1089.8 427.8L1090.2 431.5L1090.7 424.8L1091.2 439.6L1091.6 426.9L1092.1 443.2L1092.6 434.4L1093.0 438.9L1093.5 430.1L1094.0 431.3L1094.4 422.7L1094.9 442.4L1095.4 429.6L1095.8 431.5L1096.3 431.1L1096.8 425.9L1097.2 432.2L1097.7 430.5L1098.2 443.5L1098.6 444.3L1099.1 429.7L1099.6 442.1L1100.0 426.8L1100.5 434.5L1101.0 443.1L1101.4 431.2L1101.9 426.9L1102.4 437.3L1102.8 438.2L1103.3 445.5L1103.8 432.9L1104.2 423.8L1104.7 421.8L1105.2 432.8L1105.6 426.0L1106.1 437.8L1106.6 428.8L1107.0 432.6L1107.5 436.2L1108.0 426.9L1108.4 441.3L1108.9 446.8L1109.4 431.9L1109.8 437.2L1110.3 431.8L1110.8 442.3L1111.2 444.7L1111.7 442.9L1112.2 431.4L1112.6 430.8L1113.1 424.4L1113.6 424.2L1114.0 443.2L1114.5 433.8L1115.0 432.8L1115.4 428.8L1115.9 447.0L1116.4 426.5L1116.8 436.2L1117.3 439.3L1117.8 438.6L1118.2 441.9L1118.7 439.1L1119.2 434.9L1119.6 435.8L1120.1 442.0L1120.6 426.9L1121.0 431.1L1121.5 443.2L1122.0 443.5L1122.4 439.1L1122.9 427.3L1123.4 441.8L1123.8 444.1L1124.3 432.8L1124.8 431.4L1125.2 434.3L1125.7 437.6L1126.2 430.6L1126.6 427.0L1127.1 444.8L1127.6 434.7L1128.0 438.0L1128.5 431.5L1129.0 427.1L1129.4 424.3L1129.9 427.7L1130.4 441.7L1130.8 441.5L1131.3 445.5L1131.8 444.2L1132.2 428.6L1132.7 425.5L1133.2 437.9L1133.6 434.9L1134.1 443.6L1134.6 438.6L1135.0 430.5L1135.5 436.1L1136.0 427.0L1136.4 436.1L1136.9 428.2L1137.4 444.7L1137.8 440.1L1138.3 444.0L1138.8 441.4L1139.2 442.3L1139.7 444.5L1140.2 443.3L1140.6 438.1L1141.1 426.5L1141.6 435.7L1142.0 433.8L1142.5 441.5L1143.0 439.4L1143.4 433.3L1143.9 423.5L1144.4 421.7L1144.8 435.1L1145.3 437.2L1145.8 424.8L1146.2 417.8L1146.7 419.4L1147.2 415.3L1147.6 433.4L1148.1 425.6L1148.6 425.7L1149.0 431.7L1149.5 421.8L1150.0 428.8L1150.4 432.9L1150.9 427.2L1151.4 426.3L1151.8 428.0L1152.3 428.6L1152.8 429.7L1153.2 432.9L1153.7 429.8L1154.1 440.6L1154.6 442.0L1155.1 444.1L1155.5 442.3L1156.0 432.5L1156.5 426.2L1156.9 447.3L1157.4 436.9L1157.9 443.8L1158.3 443.3L1158.8 432.0L1159.3 437.3L1159.7 430.6L1160.2 431.5L1160.7 426.0L1161.1 430.2L1161.6 429.9L1162.1 443.9L1162.5 434.5L1163.0 441.9L1163.5 432.9L1163.9 431.7L1164.4 438.2L1164.9 429.9L1165.3 444.0L1165.8 432.9L1166.3 434.1L1166.7 440.7L1167.2 428.7L1167.7 441.0L1168.1 429.6L1168.6 429.8L1169.1 437.6L1169.5 439.7L1170.0 427.9L1170.5 434.8L1170.9 433.7L1171.4 437.9L1171.9 431.0L1172.3 438.5L1172.8 448.9L1173.3 425.7L1173.7 440.0L1174.2 434.9L1174.7 435.7L1175.1 431.7L1175.6 434.5L1176.1 436.7L1176.5 444.2L1177.0 442.5L1177.5 444.5L1177.9 444.8L1178.4 433.4L1178.9 440.5L1179.3 444.3L1179.8 425.4L1180.3 437.3L1180.7 437.0L1181.2 428.9L1181.7 437.3L1182.1 441.4L1182.6 435.0L1183.1 421.2L1183.5 441.5L1184.0 429.7L1184.5 435.3L1184.9 422.8L1185.4 430.6L1185.9 418.0L1186.3 427.6L1186.8 427.1L1187.3 421.3L1187.7 427.2L1188.2 415.9L1188.7 406.5L1189.1 404.9L1189.6 401.2L1190.1 399.8L1190.5 411.0L1191.0 398.7L1191.5 401.5L1191.9 390.7L1192.4 390.8L1192.9 384.7L1193.3 372.4L1193.8 380.9L1194.3 365.6L1194.7 373.6L1195.2 351.9L1195.7 351.5L1196.1 350.7L1196.6 363.3L1197.1 349.5L1197.5 355.0L1198.0 362.4L1198.5 364.5L1198.9 362.0L1199.4 376.5L1199.9 373.3L1200.3 373.4L1200.8 386.5L1201.3 379.6L1201.7 394.7L1202.2 390.2L1202.7 409.9L1203.1 394.3L1203.6 402.1L1204.1 402.5L1204.5 413.6L1205.0 414.5L1205.5 412.9L1205.9 420.1L1206.4 422.6L1206.9 416.2L1207.3 422.2L1207.8 419.7L1208.3 414.6L1208.7 424.7L1209.2 434.6L1209.7 434.2L1210.1 435.1L1210.6 417.0L1211.1 432.1L1211.5 418.9L1212.0 432.3L1212.5 431.2L1212.9 427.9L1213.4 438.6L1213.9 426.7L1214.3 428.8L1214.8 422.6L1215.3 433.7L1215.7 430.3L1216.2 427.8L1216.7 423.3L1217.1 434.9L1217.6 419.5L1218.1 429.9L1218.5 419.2L1219.0 425.3L1219.5 414.6L1219.9 428.7L1220.4 439.1L1220.9 425.0L1221.3 421.7L1221.8 430.6L1222.3 422.6L1222.7 426.2L1223.2 428.2L1223.7 424.0L1224.1 434.9L1224.6 430.3L1225.0 433.9L1225.5 422.0L1226.0 439.1L1226.4 424.4L1226.9 431.2L1227.4 423.8L1227.8 423.0L1228.3 421.0L1228.8 429.1L1229.2 426.2L1229.7 429.8L1230.2 434.7L1230.6 425.8L1231.1 439.0L1231.6 423.5L1232.0 433.0L1232.5 436.0L1233.0 434.3L1233.4 421.5L1233.9 425.7L1234.4 425.7L1234.8 426.2L1235.3 434.7L1235.8 443.2L1236.2 430.5L1236.7 442.3L1237.2 427.9L1237.6 442.4L1238.1 433.5L1238.6 432.1L1239.0 429.3L1239.5 427.7L1240.0 426.6L1240.4 446.0L1240.9 439.5L1241.4 432.3L1241.8 438.0L1242.3 437.1L1242.8 428.9L1243.2 448.1L1243.7 430.0L1244.2 442.2L1244.6 433.6L1245.1 438.3L1245.6 447.4L1246.0 444.0L1246.5 429.9L1247.0 441.7L1247.4 441.2L1247.9 430.7L1248.4 441.1L1248.8 431.7L1249.3 447.8L1249.8 431.4L1250.2 428.6L1250.7 447.0L1251.2 431.6L1251.6 442.7L1252.1 445.1L1252.6 438.0L1253.0 445.3L1253.5 432.5L1254.0 433.4L1254.4 441.8L1254.9 432.6L1255.4 447.7L1255.8 438.8L1256.3 442.5L1256.8 440.9L1257.2 439.8L1257.7 430.4L1258.2 425.9L1258.6 435.6L1259.1 428.5L1259.6 440.9L1260.0 433.0L1260.5 447.4L1261.0 431.3L1261.4 434.3L1261.9 445.3L1262.4 440.7L1262.8 438.7L1263.3 442.1L1263.8 433.6L1264.2 433.5L1264.7 451.0L1265.2 447.6L1265.6 446.0L1266.1 430.6L1266.6 440.4L1267.0 431.2L1267.5 430.9L1268.0 447.1L1268.4 435.7L1268.9 435.1L1269.4 441.6L1269.8 442.1L1270.3 442.7L1270.8 430.5L1271.2 438.3L1271.7 439.7L1272.2 435.5L1272.6 428.4L1273.1 450.5L1273.6 442.7L1274.0 439.4L1274.5 435.8L1275.0 442.0L1275.4 439.5L1275.9 428.9L1276.4 441.9L1276.8 441.7L1277.3 446.4L1277.8 442.3L1278.2 431.1L1278.7 435.6L1279.2 427.8L1279.6 429.8L1280.1 438.8L1280.6 430.8L1281.0 431.2L1281.5 439.7L1282.0 450.5L1282.4 446.6L1282.9 428.7L1283.4 434.1L1283.8 428.3L1284.3 435.9L1284.8 447.6L1285.2 431.7L1285.7 442.1L1286.2 436.7L1286.6 441.5L1287.1 447.6L1287.6 435.9L1288.0 432.0L1288.5 441.7L1289.0 428.6L1289.4 431.8L1289.9 438.4L1290.4 437.0L1290.8 434.5L1291.3 433.0L1291.8 441.9L1292.2 437.0L1292.7 432.1L1293.2 438.6L1293.6 442.5L1294.1 438.3L1294.6 440.3L1295.0 426.7L1295.5 430.1L1296.0 438.1L1296.4 443.1L1296.9 423.4L1297.3 436.3L1297.8 427.7L1298.3 433.0L1298.7 436.3L1299.2 438.3L1299.7 424.1L1300.1 431.3L1300.6 445.6L1301.1 441.7L1301.5 436.1L1302.0 429.9L1302.5 437.3L1302.9 432.1L1303.4 429.0L1303.9 432.5L1304.3 440.4L1304.8 438.2L1305.3 436.4L1305.7 433.7L1306.2 440.6L1306.7 447.6L1307.1 447.4L1307.6 446.7L1308.1 431.1L1308.5 440.7L1309.0 441.4L1309.5 431.4L1309.9 437.2L1310.4 445.0L1310.9 439.4L1311.3 441.7L1311.8 427.3L1312.3 428.7L1312.7 442.6L1313.2 437.1L1313.7 429.7L1314.1 426.9L1314.6 432.4L1315.1 440.3L1315.5 432.7L1316.0 440.8L1316.5 431.7L1316.9 436.8L1317.4 434.2L1317.9 448.7L1318.3 430.7L1318.8 425.7L1319.3 443.9L1319.7 436.6L1320.2 432.7L1320.7 431.4L1321.1 433.8L1321.6 438.3L1322.1 435.8L1322.5 437.3L1323.0 433.3L1323.5 436.1L1323.9 427.0L1324.4 438.2L1324.9 438.3L1325.3 446.8L1325.8 441.0L1326.3 429.8L1326.7 432.8L1327.2 443.6L1327.7 439.5L1328.1 425.5L1328.6 425.5L1329.1 440.0L1329.5 439.4L1330.0 430.6L1330.5 430.2L1330.9 429.0L1331.4 442.1L1331.9 430.9L1332.3 443.4L1332.8 438.6L1333.3 435.0L1333.7 444.7L1334.2 430.9L1334.7 431.6L1335.1 427.5L1335.6 433.3L1336.1 432.2L1336.5 441.0L1337.0 444.1L1337.5 431.6L1337.9 433.3L1338.4 447.1L1338.9 428.6L1339.3 435.5L1339.8 436.6L1340.3 436.7L1340.7 433.3L1341.2 435.1L1341.7 427.6L1342.1 437.4L1342.6 442.7L1343.1 446.4L1343.5 437.9L1344.0 427.5L1344.5 443.3L1344.9 427.4L1345.4 433.0L1345.9 427.5L1346.3 437.8L1346.8 438.8L1347.3 445.9L1347.7 440.4L1348.2 426.5L1348.7 444.5L1349.1 427.3L1349.6 425.7L1350.1 431.7L1350.5 443.4L1351.0 434.6L1351.5 443.7L1351.9 434.2L1352.4 435.4L1352.9 440.9L1353.3 428.1L1353.8 431.3L1354.3 445.2L1354.7 433.5L1355.2 430.9L1355.7 436.6L1356.1 439.8L1356.6 440.8L1357.1 436.6L1357.5 441.1L1358.0 431.7L1358.5 433.1L1358.9 442.6L1359.4 441.9L1359.9 424.1L1360.3 429.4L1360.8 427.8L1361.3 433.3L1361.7 428.9L1362.2 430.7L1362.7 430.8L1363.1 428.2L1363.6 436.5L1364.1 424.2L1364.5 442.3L1365.0 426.9L1365.5 437.6L1365.9 431.7L1366.4 437.9L1366.9 429.5L1367.3 427.7L1367.8 432.6L1368.3 422.3L1368.7 423.8L1369.2 429.7L1369.6 417.2L1370.1 432.8L1370.6 421.9L1371.0 426.4L1371.5 427.3L1372.0 430.5L1372.4 419.1L1372.9 413.3L1373.4 413.7L1373.8 430.1L1374.3 422.8L1374.8 425.4L1375.2 417.0L1375.7 432.5L1376.2 416.6L1376.6 425.4L1377.1 416.5L1377.6 432.8L1378.0 425.4L1378.5 430.8L1379.0 430.3L1379.4 419.8L1379.9 425.4L1380.4 419.8L1380.8 433.0L1381.3 429.2L1381.8 422.8L1382.2 426.8L1382.7 431.7L1383.2 421.6L1383.6 428.4L1384.1 430.2L1384.6 429.1L1385.0 438.4L1385.5 432.0L1386.0 438.3L1386.4 422.0L1386.9 430.7L1387.4 424.1L1387.8 424.5L1388.3 423.1L1388.8 427.2L1389.2 422.2L1389.7 423.3L1390.2 421.4L1390.6 436.3L1391.1 419.8L1391.6 430.5L1392.0 434.0L1392.5 421.5L1393.0 427.2L1393.4 428.3L1393.9 425.2L1394.4 422.5L1394.8 411.0L1395.3 412.7L1395.8 409.5L1396.2 411.9L1396.7 419.0L1397.2 415.9L1397.6 425.3L1398.1 418.1L1398.6 425.8L1399.0 421.0L1399.5 419.7L1400.0 430.9L1400.4 422.2L1400.9 427.8L1401.4 420.9L1401.8 429.4L1402.3 424.8L1402.8 421.8L1403.2 430.8L1403.7 429.8L1404.2 436.3L1404.6 420.8L1405.1 437.0L1405.6 420.7L1406.0 439.8L1406.5 440.6L1407.0 435.4L1407.4 427.2L1407.9 436.3L1408.4 441.4L1408.8 437.9L1409.3 438.5L1409.8 421.4L1410.2 425.0L1410.7 435.9L1411.2 432.9L1411.6 429.5L1412.1 427.4L1412.6 425.6L1413.0 441.3L1413.5 426.5L1414.0 441.5L1414.4 422.6L1414.9 435.4L1415.4 437.5L1415.8 436.8L1416.3 443.4L1416.8 436.8L1417.2 440.0L1417.7 429.9L1418.2 426.3L1418.6 431.6L1419.1 427.4L1419.6 440.6L1420.0 436.5L1420.5 437.5L1421.0 434.7L1421.4 435.0L1421.9 431.4L1422.4 438.6L1422.8 443.7L1423.3 439.6L1423.8 446.5L1424.2 432.1L1424.7 434.5L1425.2 435.4L1425.6 431.7L1426.1 435.6L1426.6 440.6L1427.0 434.9L1427.5 429.2L1428.0 441.1L1428.4 427.1L1428.9 430.1L1429.4 438.1L1429.8 440.8L1430.3 427.9L1430.8 442.8L1431.2 439.5L1431.7 439.0L1432.2 428.1L1432.6 444.6L1433.1 438.5L1433.6 424.8L1434.0 441.9L1434.5 434.2L1435.0 444.7L1435.4 443.3L1435.9 444.8L1436.4 442.5L1436.8 436.8L1437.3 445.1L1437.8 426.3L1438.2 440.5L1438.7 441.1L1439.2 447.0L1439.6 438.2L1440.1 435.6L1440.5 440.8L1441.0 437.6L1441.5 435.1L1441.9 443.3L1442.4 433.3L1442.9 427.7L1443.3 426.4L1443.8 434.1L1444.3 431.3L1444.7 437.0L1445.2 424.2L1445.7 437.8L1446.1 445.2L1446.6 438.8L1447.1 436.1L1447.5 430.4L1448.0 438.6L1448.5 422.5L1448.9 435.0L1449.4 434.5L1449.9 422.5L1450.3 427.1L1450.8 419.0L1451.3 411.6L1451.7 418.6L1452.2 416.5L1452.7 414.9L1453.1 408.4L1453.6 420.6L1454.1 404.7L1454.5 411.1L1455.0 403.0L1455.5 396.7L1455.9 404.8L1456.4 398.4L1456.9 383.9L1457.3 398.0L1457.8 380.2L1458.3 384.9L1458.7 386.0L1459.2 383.9L1459.7 383.1L1460.1 384.1L1460.6 388.0L1461.1 373.9L1461.5 384.2L1462.0 381.8L1462.5 376.8L1462.9 385.6L1463.4 395.4L1463.9 392.6L1464.3 395.7L1464.8 400.0L1465.3 403.4L1465.7 411.0L1466.2 418.7L1466.7 408.4L1467.1 410.7L1467.6 416.3L1468.1 425.7L1468.5 431.4L1469.0 418.4L1469.5 432.7L1469.9 428.2L1470.4 436.4L1470.9 428.6L1471.3 436.7L1471.8 427.7L1472.3 428.4L1472.7 437.0L1473.2 433.6L1473.7 442.1L1474.1 433.7L1474.6 430.7L1475.1 433.7L1475.5 440.4L1476.0 428.1L1476.5 428.2L1476.9 439.6L1477.4 428.1L1477.9 428.2L1478.3 434.2L1478.8 439.6L1479.3 446.6L1479.7 427.8L1480.2 430.6L1480.7 445.2L1481.1 435.7L1481.6 443.3L1482.1 436.8L1482.5 433.0L1483.0 441.6L1483.5 428.1L1483.9 433.0L1484.4 430.4L1484.9 434.5L1485.3 427.7L1485.8 431.3L1486.3 426.6L1486.7 437.2L1487.2 437.9L1487.7 438.0L1488.1 424.4L1488.6 435.6L1489.1 437.8L1489.5 429.9L1490.0 431.1L1490.5 443.5L1490.9 437.0L1491.4 431.2L1491.9 424.4L1492.3 420.4L1492.8 422.4L1493.3 420.5L1493.7 430.2L1494.2 427.3L1494.7 422.7L1495.1 430.4L1495.6 428.6L1496.1 441.3L1496.5 441.8L1497.0 445.8L1497.5 430.1L1497.9 440.9L1498.4 437.7L1498.9 429.0L1499.3 422.6L1499.8 436.4L1500.3 438.7L1500.7 436.8L1501.2 433.3L1501.7 436.4L1502.1 439.9L1502.6 436.3L1503.1 424.8L1503.5 431.0L1504.0 428.8L1504.5 433.0L1504.9 430.1L1505.4 421.8L1505.9 437.1L1506.3 428.3L1506.8 435.9L1507.3 418.8L1507.7 420.4L1508.2 418.1L1508.7 435.6L1509.1 427.1L1509.6 428.9L1510.1 420.4L1510.5 434.6L1511.0 420.2L1511.5 436.8L1511.9 429.7L1512.4 438.7L1512.8 433.0L1513.3 434.5L1513.8 424.9L1514.2 435.0L1514.7 438.9L1515.2 437.9L1515.6 440.3L1516.1 444.8L1516.6 441.1L1517.0 439.9L1517.5 440.5L1518.0 436.3L1518.4 441.2L1518.9 442.2L1519.4 439.0L1519.8 427.3L1520.3 431.1L1520.8 438.6L1521.2 438.8L1521.7 443.6L1522.2 446.4L1522.6 443.5L1523.1 437.6L1523.6 443.6L1524.0 439.9L1524.5 428.0L1525.0 428.7L1525.4 427.3L1525.9 440.6L1526.4 444.0L1526.8 427.7L1527.3 429.0L1527.8 431.4L1528.2 443.1L1528.7 437.5L1529.2 428.1L1529.6 431.1L1530.1 430.8L1530.6 429.7L1531.0 436.4L1531.5 439.4L1532.0 431.4L1532.4 438.6L1532.9 426.8L1533.4 446.0L1533.8 429.1L1534.3 437.9L1534.8 445.5L1535.2 432.2L1535.7 428.9L1536.2 441.1L1536.6 436.2L1537.1 430.8L1537.6 440.2L1538.0 440.6L1538.5 442.4L1539.0 430.3L1539.4 441.2L1539.9 445.0L1540.4 432.7L1540.8 437.7L1541.3 437.7L1541.8 440.3L1542.2 432.9L1542.7 431.4L1543.2 430.6L1543.6 443.6L1544.1 436.4L1544.6 435.1L1545.0 440.1L1545.5 427.5L1546.0 431.0L1546.4 437.7L1546.9 432.3L1547.4 437.4L1547.8 436.3L1548.3 424.7L1548.8 428.6L1549.2 439.8L1549.7 432.2L1550.2 424.5L1550.6 423.9L1551.1 432.0L1551.6 441.9L1552.0 429.1L1552.5 442.4L1553.0 426.0L1553.4 432.2L1553.9 435.0L1554.4 430.6L1554.8 422.4L1555.3 425.1L1555.8 427.4L1556.2 432.7L1556.7 423.7L1557.2 422.1L1557.6 417.9L1558.1 429.2L1558.6 416.5L1559.0 412.9L1559.5 424.0L1560.0 408.7L1560.4 422.8L1560.9 419.2L1561.4 428.7L1561.8 416.6L1562.3 428.5L1562.8 410.7L1563.2 426.6L1563.7 418.4L1564.2 422.5L1564.6 430.7L1565.1 430.1L1565.6 428.6L1566.0 423.3L1566.5 432.8L1567.0 430.5L1567.4 427.5L1567.9 429.4L1568.4 436.8L1568.8 423.6L1569.3 428.7L1569.8 435.9L1570.2 437.8L1570.7 434.9L1571.2 428.1L1571.6 424.3L1572.1 432.2L1572.6 436.6L1573.0 429.4L1573.5 442.3L1574.0 434.9L1574.4 427.1L1574.9 436.1L1575.4 428.4L1575.8 436.9L1576.3 427.2L1576.8 415.3L1577.2 435.1L1577.7 424.1L1578.2 432.0L1578.6 415.9L1579.1 417.3L1579.6 423.8L1580.0 428.8L1580.5 411.5L1581.0 419.6L1581.4 425.8L1581.9 415.9L1582.4 420.9L1582.8 430.6L1583.3 422.4L1583.7 428.4L1584.2 426.0L1584.7 433.7L1585.1 423.9L1585.6 429.6L1586.1 423.7L1586.5 425.6L1587.0 434.7L1587.5 441.1L1587.9 430.5L1588.4 434.9L1588.9 436.0L1589.3 438.9L1589.8 429.0L1590.3 432.5L1590.7 429.7L1591.2 435.6L1591.7 425.9L1592.1 445.3L1592.6 432.6L1593.1 442.2L1593.5 435.3L1594.0 432.4L1594.5 445.1L1594.9 442.2L1595.4 442.2L1595.9 426.7L1596.3 434.5L1596.8 439.1L1597.3 428.8L1597.7 441.3L1598.2 447.1L1598.7 445.2L1599.1 435.7L1599.6 425.7L1600.1 429.8L1600.5 440.9L1601.0 434.6L1601.5 438.9L1601.9 437.6L1602.4 436.8L1602.9 444.2L1603.3 429.5L1603.8 437.4L1604.3 437.1L1604.7 443.2L1605.2 435.7L1605.7 434.1L1606.1 430.4L1606.6 438.9L1607.1 430.3L1607.5 442.3L1608.0 440.4L1608.5 435.8L1608.9 440.0L1609.4 446.3L1609.9 438.7L1610.3 436.8L1610.8 440.5L1611.3 443.4L1611.7 438.2L1612.2 433.2L1612.7 430.7L1613.1 436.5L1613.6 435.1L1614.1 442.8L1614.5 431.2L1615.0 441.0L1615.5 430.5L1615.9 433.9L1616.4 435.0L1616.9 446.7L1617.3 445.3L1617.8 427.3L1618.3 431.4L1618.7 439.1L1619.2 435.0L1619.7 446.3L1620.1 438.2L1620.6 433.9L1621.1 438.8L1621.5 437.5L1622.0 443.2L1622.5 442.7L1622.9 437.6L1623.4 444.2L1623.9 448.6L1624.3 436.6L1624.8 442.3L1625.3 433.1L1625.7 434.7L1626.2 433.2L1626.7 426.6L1627.1 431.8L1627.6 435.3L1628.1 438.5L1628.5 437.5L1629.0 440.7L1629.5 441.3L1629.9 438.6L1630.4 439.2L1630.9 438.1L1631.3 442.5L1631.8 443.6L1632.3 431.4L1632.7 445.6L1633.2 431.5L1633.7 427.3L1634.1 440.8L1634.6 434.3L1635.1 444.7L1635.5 435.8L1636.0 434.8L1636.5 446.0L1636.9 441.3L1637.4 432.5L1637.9 442.2L1638.3 433.2L1638.8 438.0L1639.3 445.9L1639.7 443.8L1640.2 433.9L1640.7 446.4L1641.1 440.9L1641.6 432.5L1642.1 445.0L1642.5 437.3L1643.0 433.6L1643.5 435.9L1643.9 431.4L1644.4 438.2L1644.9 440.9L1645.3 434.5L1645.8 434.8L1646.3 432.6L1646.7 444.3L1647.2 433.5L1647.7 442.1L1648.1 440.2L1648.6 437.6L1649.1 437.9L1649.5 434.7L1650.0 426.1L1650.5 434.8L1650.9 443.8L1651.4 434.7L1651.9 438.7L1652.3 435.5L1652.8 432.6L1653.3 436.1L1653.7 447.4L1654.2 435.9L1654.7 437.1L1655.1 439.3L1655.6 436.9L1656.0 434.9L1656.5 433.2L1657.0 446.1L1657.4 429.7L1657.9 427.8L1658.4 439.5L1658.8 431.4L1659.3 433.6L1659.8 437.5L1660.2 443.6L1660.7 444.9L1661.2 446.0L1661.6 435.8L1662.1 445.3L1662.6 429.3L1663.0 436.2L1663.5 434.6L1664.0 437.6L1664.4 442.7L1664.9 444.9L1665.4 437.6L1665.8 441.5L1666.3 440.3L1666.8 431.4L1667.2 435.7L1667.7 436.2L1668.2 444.2L1668.6 443.7L1669.1 436.2L1669.6 449.9L1670.0 429.6L1670.5 433.0L1671.0 430.6L1671.4 439.8L1671.9 446.1L1672.4 439.8L1672.8 430.7L1673.3 431.7L1673.8 444.6L1674.2 434.2L1674.7 442.7L1675.2 441.8L1675.6 437.6L1676.1 443.3L1676.6 437.0L1677.0 431.6L1677.5 445.3L1678.0 439.5L1678.4 441.9L1678.9 427.1L1679.4 432.5L1679.8 436.2L1680.3 444.0L1680.8 432.9L1681.2 439.9L1681.7 428.3L1682.2 429.3L1682.6 442.3L1683.1 445.2L1683.6 438.7L1684.0 432.9L1684.5 434.2L1685.0 439.8L1685.4 435.9L1685.9 432.8L1686.4 440.8L1686.8 427.4L1687.3 444.7L1687.8 442.7L1688.2 446.3L1688.7 441.5L1689.2 442.9L1689.6 435.2L1690.1 442.3L1690.6 441.9L1691.0 434.4L1691.5 443.1L1692.0 434.6L1692.4 447.5L1692.9 442.0L1693.4 442.1L1693.8 444.4L1694.3 439.3L1694.8 440.0L1695.2 436.4L1695.7 437.3L1696.2 446.3L1696.6 440.5L1697.1 440.8L1697.6 447.5L1698.0 437.5L1698.5 428.5L1699.0 437.6L1699.4 438.5L1699.9 440.9L1700.4 442.6L1700.8 436.7L1701.3 443.3L1701.8 436.3L1702.2 439.1L1702.7 431.9L1703.2 424.9L1703.6 433.7L1704.1 436.3L1704.6 438.2L1705.0 433.9L1705.5 424.1L1706.0 421.3L1706.4 417.2L1706.9 423.9L1707.4 427.4L1707.8 435.0L1708.3 428.6L1708.8 425.2L1709.2 424.7L1709.7 418.9L1710.2 423.8L1710.6 428.5L1711.1 428.2L1711.6 434.5L1712.0 426.8L1712.5 435.0L1713.0 432.3L1713.4 429.9L1713.9 425.6L1714.4 437.2L1714.8 436.0L1715.3 432.6L1715.8 428.2L1716.2 439.1L1716.7 433.9L1717.2 428.3L1717.6 434.8L1718.1 425.7L1718.6 425.0L1719.0 437.9L1719.5 440.0L1720.0 434.5L1720.4 428.8L1720.9 433.9L1721.4 430.1L1721.8 431.1L1722.3 428.7L1722.8 439.0L1723.2 441.0L1723.7 439.1L1724.2 439.4L1724.6 430.2L1725.1 444.0L1725.6 442.7L1726.0 429.9L1726.5 439.5L1727.0 438.4L1727.4 442.0L1727.9 442.5L1728.3 429.2L1728.8 437.1L1729.3 430.4L1729.7 437.5L1730.2 444.0L1730.7 431.1L1731.1 442.3L1731.6 435.4L1732.1 431.9L1732.5 441.9L1733.0 442.4L1733.5 433.6L1733.9 436.0L1734.4 434.2L1734.9 440.7L1735.3 446.3L1735.8 436.9L1736.3 430.1L1736.7 431.2L1737.2 432.7L1737.7 442.1L1738.1 431.2L1738.6 439.2L1739.1 430.3L1739.5 433.6L1740.0 440.1L1740.5 442.8L1740.9 430.2L1741.4 431.3L1741.9 432.6L1742.3 434.6L1742.8 435.4L1743.3 443.4L1743.7 430.3L1744.2 436.6L1744.7 438.4L1745.1 440.0L1745.6 445.9L1746.1 431.5L1746.5 438.0L1747.0 438.4L1747.5 437.6L1747.9 443.6L1748.4 430.7L1748.9 438.1L1749.3 444.5L1749.8 445.3L1750.3 430.0L1750.7 440.3L1751.2 434.3L1751.7 439.9L1752.1 440.3L1752.6 440.6L1753.1 430.6L1753.5 443.9L1754.0 433.9L1754.5 442.2L1754.9 434.9L1755.4 428.8L1755.9 432.7L1756.3 433.4L1756.8 437.5L1757.3 429.8L1757.7 426.5L1758.2 435.2L1758.7 431.5L1759.1 426.8L1759.6 426.7L1760.1 415.7L1760.5 420.7L1761.0 417.4L1761.5 406.9L1761.9 406.2L1762.4 403.5L1762.9 412.5L1763.3 406.6L1763.8 398.8L1764.3 404.1L1764.7 387.6L1765.2 392.8L1765.7 389.5L1766.1 376.6L1766.6 387.7L1767.1 385.5L1767.5 380.2L1768.0 382.3L1768.5 383.3L1768.9 381.1L1769.4 373.4L1769.9 381.4L1770.3 391.4L1770.8 389.6L1771.3 387.5L1771.7 399.4L1772.2 395.7L1772.7 393.6L1773.1 405.3L1773.6 397.9L1774.1 412.1L1774.5 417.2L1775.0 411.4L1775.5 413.4L1775.9 415.9L1776.4 414.5L1776.9 424.8L1777.3 425.9L1777.8 419.1L1778.3 430.4L1778.7 429.1L1779.2 423.6L1779.7 433.6L1780.1 426.5L1780.6 428.2L1781.1 424.1L1781.5 429.6L1782.0 421.0L1782.5 432.4L1782.9 426.7L1783.4 424.8L1783.9 434.4L1784.3 425.4L1784.8 431.1L1785.3 426.1L1785.7 438.5L1786.2 436.8L1786.7 428.8L1787.1 438.2L1787.6 435.7L1788.1 426.8L1788.5 426.8L1789.0 426.6L1789.5 425.8L1789.9 430.2L1790.4 431.3L1790.9 430.4L1791.3 426.7L1791.8 430.2L1792.3 442.0L1792.7 429.7L1793.2 437.4L1793.7 429.2L1794.1 436.4L1794.6 432.5L1795.1 440.1L1795.5 426.1L1796.0 437.2L1796.5 431.5L1796.9 430.1L1797.4 429.7L1797.9 439.9L1798.3 428.2L1798.8 437.7L1799.2 424.5L1799.7 442.0L1800.2 439.8L1800.6 438.2L1801.1 433.8L1801.6 431.5L1802.0 435.4L1802.5 436.7L1803.0 435.2L1803.4 442.3L1803.9 434.0L1804.4 440.0L1804.8 436.2L1805.3 428.4L1805.8 426.7L1806.2 433.3L1806.7 442.1L1807.2 444.2L1807.6 439.4L1808.1 433.2L1808.6 431.6L1809.0 436.0L1809.5 438.2L1810.0 431.3L1810.4 437.0L1810.9 434.5L1811.4 442.9L1811.8 440.3L1812.3 431.2L1812.8 434.7L1813.2 443.7L1813.7 443.3L1814.2 438.6L1814.6 445.0L1815.1 434.3L1815.6 437.2L1816.0 439.2L1816.5 428.9L1817.0 438.9L1817.4 444.0L1817.9 433.0L1818.4 431.4L1818.8 443.5L1819.3 437.2L1819.8 433.1L1820.2 437.1L1820.7 434.7L1821.2 431.7L1821.6 442.0L1822.1 431.3L1822.6 444.2L1823.0 437.9L1823.5 432.0L1824.0 441.6L1824.4 431.2L1824.9 439.4L1825.4 431.1L1825.8 439.8L1826.3 437.8L1826.8 439.1L1827.2 442.3L1827.7 441.6L1828.2 433.0L1828.6 430.5L1829.1 445.6L1829.6 437.4L1830.0 440.1L1830.5 439.4L1831.0 441.1L1831.4 434.1L1831.9 437.3L1832.4 438.2L1832.8 433.7L1833.3 440.8L1833.8 443.2L1834.2 442.3L1834.7 432.3L1835.2 446.7L1835.6 440.2L1836.1 433.0L1836.6 441.7L1837.0 432.3L1837.5 434.3L1838.0 437.5L1838.4 437.2L1838.9 431.9L1839.4 439.0L1839.8 443.3L1840.3 434.4L1840.8 441.8L1841.2 431.6L1841.7 433.8L1842.2 438.7L1842.6 433.5L1843.1 429.7L1843.6 429.3L1844.0 431.5L1844.5 430.6L1845.0 436.2L1845.4 426.9L1845.9 433.6L1846.4 438.6L1846.8 433.7L1847.3 433.0L1847.8 427.8L1848.2 438.5L1848.7 425.8L1849.2 429.1L1849.6 428.8L1850.1 435.9L1850.6 431.5L1851.0 440.3L1851.5 435.9L1852.0 434.4L1852.4 429.1L1852.9 428.5L1853.4 432.4L1853.8 432.3L1854.3 429.3L1854.8 432.2L1855.2 425.2L1855.7 431.6L1856.2 425.7L1856.6 421.3L1857.1 423.6L1857.6 414.3L1858.0 411.7L1858.5 425.7L1859.0 427.6L1859.4 416.3L1859.9 414.1L1860.4 411.5L1860.8 421.0L1861.3 413.1L1861.8 415.4L1862.2 418.0L1862.7 413.3L1863.2 419.4L1863.6 414.2L1864.1 417.9L1864.6 407.1L1865.0 413.3L1865.5 417.6L1866.0 410.6L1866.4 422.5L1866.9 422.9L1867.4 411.9L1867.8 416.0L1868.3 410.1L1868.8 417.1L1869.2 423.0L1869.7 414.1L1870.2 426.2L1870.6 412.9L1871.1 422.9L1871.5 414.8L1872.0 420.5L1872.5 427.5L1872.9 424.2L1873.4 430.4L1873.9 432.5L1874.3 425.9L1874.8 424.1L1875.3 435.0L1875.7 435.4L1876.2 427.6L1876.7 424.5L1877.1 434.8L1877.6 431.7L1878.1 429.8L1878.5 429.3L1879.0 435.1L1879.5 441.1L1879.9 428.5L1880.4 436.9L1880.9 432.5L1881.3 435.5L1881.8 435.0L1882.3 435.9L1882.7 429.2L1883.2 442.7L1883.7 443.1L1884.1 433.7L1884.6 431.5L1885.1 440.9L1885.5 431.5L1886.0 432.4L1886.5 442.2L1886.9 439.4L1887.4 438.3L1887.9 431.7L1888.3 444.1L1888.8 440.2L1889.3 434.5L1889.7 438.2L1890.2 447.0L1890.7 435.3L1891.1 443.3L1891.6 444.1L1892.1 445.0L1892.5 438.3L1893.0 435.3L1893.5 436.1L1893.9 441.8L1894.4 431.6L1894.9 437.5L1895.3 440.0L1895.8 445.4L1896.3 442.3L1896.7 437.6L1897.2 441.0L1897.7 442.6L1898.1 441.5L1898.6 434.3L1899.1 432.8L1899.5 437.5L1900.0 439.2L1900.5 437.2L1900.9 437.3L1901.4 434.0L1901.9 439.4L1902.3 431.7L1902.8 432.5L1903.3 444.9L1903.7 429.6L1904.2 441.1L1904.7 441.0L1905.1 433.6L1905.6 442.4L1906.1 442.0L1906.5 447.4L1907.0 446.1L1907.5 440.1L1907.9 437.8L1908.4 440.5L1908.9 433.1L1909.3 440.1L1909.8 432.3L1910.3 435.5L1910.7 445.4L1911.2 443.3L1911.7 438.1L1912.1 446.8L1912.6 433.0L1913.1 435.4L1913.5 441.0L1914.0 439.1L1914.5 442.3L1914.9 433.4L1915.4 444.2L1915.9 434.6L1916.3 436.9L1916.8 434.0L1917.3 442.4L1917.7 434.3L1918.2 445.4L1918.7 438.2L1919.1 437.6L1919.6 435.2L1920.1 438.3L1920.5 435.1L1921.0 443.7L1921.5 442.1L1921.9 441.5L1922.4 444.9L1922.9 441.7L1923.3 433.3L1923.8 435.8L1924.3 439.9L1924.7 436.2L1925.2 436.3L1925.7 440.1L1926.1 443.1L1926.6 440.7L1927.1 444.5L1927.5 441.0L1928.0 432.9L1928.5 448.7L1928.9 435.5L1929.4 438.4L1929.9 433.8L1930.3 438.7L1930.8 442.0L1931.3 437.4L1931.7 445.6L1932.2 436.9L1932.7 446.3L1933.1 442.4L1933.6 433.9L1934.1 434.5L1934.5 433.4L1935.0 440.9L1935.5 436.4L1935.9 444.3L1936.4 432.5L1936.9 444.2L1937.3 437.2L1937.8 434.5L1938.3 442.9L1938.7 440.7L1939.2 436.9L1939.7 438.6L1940.1 435.7L1940.6 435.4L1941.1 443.5L1941.5 440.6L1942.0 436.9L1942.5 436.5L1942.9 446.3L1943.4 437.3L1943.8 441.5L1944.3 435.0L1944.8 432.8L1945.2 441.2L1945.7 434.9L1946.2 444.9L1946.6 435.5L1947.1 435.8L1947.6 441.9L1948.0 442.1L1948.5 439.6L1949.0 442.3L1949.4 442.1L1949.9 445.7L1950.4 440.7L1950.8 444.7L1951.3 436.7L1951.8 433.5L1952.2 432.6L1952.7 439.3L1953.2 440.0L1953.6 434.9L1954.1 435.7L1954.6 439.4L1955.0 437.9L1955.5 433.8L1956.0 441.5L1956.4 441.9L1956.9 435.0L1957.4 437.4L1957.8 441.7L1958.3 433.5L1958.8 440.4L1959.2 442.5L1959.7 434.0L1960.2 441.9L1960.6 445.4L1961.1 442.6L1961.6 439.2L1962.0 434.0L1962.5 447.8L1963.0 448.5L1963.4 442.4L1963.9 436.2L1964.4 441.6L1964.8 443.2L1965.3 440.3L1965.8 446.8L1966.2 442.6L1966.7 432.6L1967.2 435.4L1967.6 448.6L1968.1 446.9L1968.6 447.3L1969.0 437.0L1969.5 438.5L1970.0 439.3L1970.4 436.8L1970.9 444.8L1971.4 438.3L1971.8 443.3L1972.3 441.9L1972.8 437.6L1973.2 446.2L1973.7 437.6L1974.2 438.7L1974.6 439.5L1975.1 443.6L1975.6 444.1L1976.0 439.1L1976.5 437.8L1977.0 436.1L1977.4 432.4L1977.9 439.0L1978.4 433.1L1978.8 438.2L1979.3 445.7L1979.8 441.5L1980.2 439.6L1980.7 446.5L1981.2 448.0L1981.6 446.9L1982.1 436.8L1982.6 447.5L1983.0 443.3L1983.5 441.2L1984.0 440.3L1984.4 437.4L1984.9 434.9L1985.4 441.8L1985.8 439.0L1986.3 437.4L1986.8 442.6L1987.2 438.3L1987.7 435.1L1988.2 437.0L1988.6 443.3L1989.1 432.8L1989.6 439.7L1990.0 436.3L1990.5 434.8L1991.0 445.2L1991.4 439.9L1991.9 445.3L1992.4 437.5L1992.8 447.4L1993.3 436.6L1993.8 436.6L1994.2 435.0L1994.7 443.2L1995.2 438.5L1995.6 441.2L1996.1 437.4L1996.6 433.5L1997.0 445.9L1997.5 445.9L1998.0 444.4L1998.4 446.0L1998.9 447.1L1999.4 434.3L1999.8 436.4L2000.3 440.7L2000.8 444.1L2001.2 433.5L2001.7 443.7L2002.2 433.3L2002.6 435.2L2003.1 439.0L2003.6 441.3L2004.0 445.7L2004.5 445.5L2005.0 437.8L2005.4 448.2L2005.9 433.6L2006.4 431.9L2006.8 440.0L2007.3 436.3L2007.8 445.5L2008.2 432.5L2008.7 447.1L2009.2 438.5L2009.6 443.5L2010.1 431.5L2010.6 446.7L2011.0 444.5L2011.5 440.9L2012.0 447.9L2012.4 444.2L2012.9 447.3L2013.4 441.8L2013.8 449.3L2014.3 443.2L2014.7 444.3L2015.2 442.6L2015.7 446.5L2016.1 435.1L2016.6 443.6L2017.1 437.1L2017.5 446.2L2018.0 433.7L2018.5 439.9L2018.9 446.1L2019.4 438.2L2019.9 441.2L2020.3 443.4L2020.8 435.7L2021.3 446.1L2021.7 436.8L2022.2 438.9L2022.7 441.2L2023.1 440.3L2023.6 434.6L2024.1 437.1L2024.5 441.6L2025.0 443.3L2025.5 437.3L2025.9 440.6L2026.4 436.3L2026.9 442.5L2027.3 438.0L2027.8 437.4L2028.3 442.2L2028.7 441.0L2029.2 439.4L2029.7 436.8L2030.1 444.3L2030.6 436.9L2031.1 443.8L2031.5 436.1L2032.0 446.8L2032.5 448.2L2032.9 436.4L2033.4 441.2L2033.9 433.6L2034.3 440.7L2034.8 447.1L2035.3 443.3L2035.7 436.3L2036.2 448.7L2036.7 441.0L2037.1 435.7L2037.6 441.2L2038.1 436.7L2038.5 445.9L2039.0 441.1L2039.5 441.1L2039.9 447.3L2040.4 443.3L2040.9 434.5L2041.3 436.0L2041.8 437.3L2042.3 444.8L2042.7 442.9L2043.2 438.5L2043.7 440.0L2044.1 438.4L2044.6 434.1L2045.1 443.2L2045.5 448.5L2046.0 441.3L2046.5 443.7L2046.9 440.3L2047.4 435.8L2047.9 436.8L2048.3 444.8L2048.8 446.1L2049.3 449.4L2049.7 437.8L2050.2 445.0"/>
<path class="c" stroke="#ff4040" d="M184.4 700.8L184.9 720.7L185.3 710.2L185.8 714.1L186.3 726.2L186.7 710.6L187.2 711.0L187.7 699.3L188.1 708.4L188.6 709.0L189.1 716.5L189.5 719.8L190.0 708.4L190.5 697.0L190.9 701.9L191.4 722.3L191.9 707.0L192.3 709.2L192.8 725.6L193.3 696.6L193.7 714.9L194.2 724.0L194.7 702.5L195.1 710.9L195.6 720.6L196.1 699.7L196.5 708.9L197.0 721.2L197.5 716.0L197.9 711.8L198.4 700.0L198.9 711.7L199.3 706.0L199.8 707.3L200.3 709.6L200.7 720.9L201.2 714.2L201.7 704.8L202.1 711.2L202.6 702.1L203.1 705.7L203.5 704.1L204.0 714.7L204.5 710.5L204.9 715.8L205.4 719.8L205.9 708.2L206.3 720.3L206.8 701.0L207.3 718.2L207.7 705.7L208.2 703.3L208.7 717.9L209.1 712.9L209.6 707.3L210.1 702.8L210.5 699.3L211.0 715.8L211.5 715.0L211.9 711.7L212.4 727.3L212.9 717.0L213.3 692.8L213.8 704.6L214.3 710.6L214.7 706.2L215.2 722.4L215.7 723.6L216.1 720.9L216.6 709.9L217.1 715.0L217.5 697.3L218.0 702.6L218.5 706.9L218.9 713.1L219.4 706.6L219.9 691.2L220.3 699.4L220.8 694.0L221.2 700.6L221.7 691.6L222.2 703.0L222.6 699.2L223.1 706.1L223.6 708.5L224.0 701.2L224.5 694.8L225.0 696.9L225.4 703.6L225.9 700.0L226.4 699.6L226.8 701.7L227.3 674.5L227.8 700.4L228.2 683.1L228.7 688.1L229.2 697.7L229.6 693.6L230.1 680.5L230.6 698.0L231.0 676.4L231.5 690.2L232.0 703.0L232.4 695.6L232.9 702.1L233.4 701.7L233.8 705.6L234.3 705.0L234.8 687.5L235.2 702.7L235.7 700.7L236.2 695.5L236.6 710.6L237.1 708.5L237.6 715.2L238.0 721.2L238.5 702.8L239.0 700.5L239.4 716.8L239.9 702.3L240.4 704.0L240.8 717.6L241.3 702.2L241.8 723.8L242.2 721.6L242.7 704.1L243.2 714.2L243.6 721.1L244.1 726.7L244.6 704.6L245.0 707.0L245.5 727.6L246.0 726.1L246.4 706.1L246.9 712.5L247.4 715.5L247.8 724.4L248.3 707.5L248.8 720.0L249.2 721.2L249.7 714.1L250.2 704.1L250.6 703.7L251.1 700.9L251.6 717.2L252.0 693.5L252.5 699.1L253.0 705.3L253.4 700.4L253.9 699.7L254.4 696.1L254.8 712.5L255.3 715.4L255.8 704.0L256.2 701.1L256.7 702.8L257.2 709.2L257.6 716.6L258.1 714.6L258.6 695.2L259.0 688.9L259.5 713.4L260.0 718.3L260.4 702.1L260.9 710.6L261.4 707.0L261.8 703.6L262.3 712.4L262.8 685.7L263.2 690.7L263.7 694.6L264.2 690.5L264.6 707.0L265.1 687.0L265.6 701.6L266.0 686.4L266.5 690.4L267.0 695.7L267.4 686.5L267.9 691.3L268.4 696.7L268.8 681.8L269.3 696.5L269.8 686.7L270.2 685.0L270.7 683.9L271.2 685.3L271.6 675.3L272.1 702.6L272.6 692.2L273.0 674.3L273.5 682.1L274.0 675.6L274.4 680.9L274.9 676.6L275.4 684.8L275.8 698.4L276.3 677.0L276.8 690.4L277.2 687.9L277.7 694.9L278.2 676.1L278.6 694.9L279.1 703.4L279.6 691.6L280.0 685.8L280.5 698.7L281.0 698.3L281.4 701.3L281.9 681.6L282.4 708.3L282.8 712.8L283.3 694.0L283.8 693.9L284.2 672.5L284.7 717.7L285.2 712.2L285.6 692.7L286.1 703.0L286.6 681.7L287.0 690.8L287.5 688.2L288.0 700.6L288.4 684.8L288.9 713.1L289.4 689.5L289.8 688.1L290.3 682.7L290.8 704.4L291.2 709.0L291.7 698.1L292.1 692.1L292.6 700.1L293.1 679.8L293.5 709.7L294.0 700.2L294.5 687.9L294.9 698.3L295.4 700.5L295.9 682.3L296.3 705.1L296.8 689.0L297.3 700.8L297.7 700.4L298.2 676.9L298.7 690.5L299.1 678.3L299.6 699.4L300.1 689.0L300.5 683.7L301.0 696.3L301.5 666.7L301.9 690.4L302.4 681.1L302.9 666.1L303.3 691.9L303.8 683.1L304.3 694.4L304.7 681.7L305.2 676.9L305.7 698.6L306.1 668.1L306.6 662.4L307.1 690.8L307.5 678.8L308.0 667.0L308.5 690.1L308.9 668.2L309.4 689.8L309.9 676.7L310.3 671.3L310.8 658.2L311.3 664.0L311.7 691.5L312.2 670.9L312.7 657.1L313.1 664.5L313.6 684.6L314.1 654.8L314.5 677.7L315.0 650.8L315.5 682.1L315.9 673.1L316.4 657.0L316.9 684.6L317.3 662.8L317.8 675.0L318.3 676.8L318.7 650.8L319.2 647.8L319.7 658.1L320.1 666.6L320.6 656.8L321.1 658.9L321.5 694.6L322.0 656.2L322.5 669.7L322.9 660.9L323.4 666.1L323.9 685.4L324.3 699.5L324.8 669.1L325.3 654.5L325.7 691.0L326.2 659.8L326.7 671.1L327.1 676.1L327.6 690.6L328.1 686.2L328.5 676.0L329.0 668.8L329.5 689.0L329.9 689.2L330.4 690.0L330.9 683.8L331.3 654.5L331.8 663.9L332.3 670.5L332.7 674.3L333.2 687.8L333.7 665.7L334.1 685.3L334.6 669.7L335.1 681.7L335.5 656.9L336.0 671.2L336.5 654.3L336.9 653.3L337.4 693.4L337.9 663.8L338.3 686.0L338.8 666.3L339.3 653.1L339.7 688.2L340.2 657.6L340.7 687.4L341.1 646.6L341.6 677.9L342.1 656.4L342.5 662.5L343.0 691.7L343.5 665.5L343.9 685.3L344.4 685.3L344.9 646.5L345.3 686.6L345.8 684.9L346.3 658.2L346.7 664.0L347.2 653.1L347.7 678.5L348.1 654.5L348.6 663.3L349.1 676.2L349.5 673.6L350.0 641.9L350.5 678.1L350.9 649.6L351.4 677.9L351.9 660.2L352.3 633.4L352.8 671.1L353.3 670.2L353.7 661.5L354.2 666.6L354.7 641.7L355.1 637.2L355.6 630.4L356.1 647.9L356.5 645.8L357.0 638.5L357.5 648.6L357.9 640.3L358.4 629.5L358.9 642.6L359.3 633.1L359.8 650.9L360.3 660.5L360.7 636.1L361.2 660.3L361.7 650.0L362.1 636.2L362.6 653.1L363.1 669.4L363.5 650.3L364.0 663.0L364.4 671.6L364.9 648.3L365.4 679.4L365.8 650.0L366.3 657.3L366.8 662.3L367.2 655.6L367.7 662.7L368.2 638.8L368.6 677.9L369.1 660.2L369.6 645.4L370.0 654.5L370.5 673.8L371.0 665.5L371.4 653.6L371.9 650.5L372.4 649.8L372.8 682.4L373.3 629.4L373.8 666.1L374.2 667.6L374.7 642.3L375.2 643.4L375.6 654.5L376.1 668.7L376.6 672.6L377.0 672.6L377.5 645.3L378.0 634.3L378.4 644.8L378.9 657.6L379.4 647.8L379.8 633.7L380.3 655.3L380.8 666.8L381.2 674.2L381.7 671.0L382.2 667.4L382.6 666.6L383.1 629.8L383.6 665.4L384.0 641.4L384.5 651.4L385.0 643.7L385.4 673.0L385.9 655.3L386.4 644.5L386.8 643.9L387.3 662.7L387.8 665.0L388.2 638.6L388.7 644.5L389.2 643.0L389.6 636.7L390.1 653.4L390.6 635.0L391.0 661.9L391.5 670.9L392.0 667.8L392.4 635.3L392.9 637.7L393.4 647.7L393.8 650.5L394.3 651.9L394.8 646.2L395.2 650.1L395.7 641.4L396.2 673.8L396.6 664.9L397.1 645.6L397.6 664.1L398.0 657.9L398.5 652.8L399.0 640.6L399.4 655.6L399.9 675.5L400.4 661.4L400.8 668.1L401.3 634.6L401.8 653.6L402.2 653.2L402.7 639.6L403.2 650.7L403.6 630.7L404.1 640.1L404.6 661.2L405.0 658.1L405.5 666.1L406.0 635.0L406.4 639.6L406.9 635.3L407.4 633.4L407.8 634.4L408.3 686.3L408.8 674.6L409.2 641.8L409.7 646.3L410.2 680.1L410.6 656.2L411.1 649.1L411.6 658.4L412.0 644.8L412.5 661.6L413.0 664.0L413.4 654.9L413.9 678.3L414.4 634.9L414.8 660.7L415.3 673.4L415.8 640.8L416.2 659.3L416.7 669.1L417.2 648.3L417.6 668.2L418.1 662.6L418.6 653.5L419.0 673.0L419.5 631.5L420.0 669.4L420.4 637.4L420.9 641.8L421.4 655.7L421.8 646.8L422.3 627.0L422.8 636.7L423.2 649.0L423.7 670.4L424.2 663.2L424.6 649.6L425.1 669.3L425.6 664.3L426.0 636.5L426.5 630.0L427.0 648.5L427.4 640.5L427.9 627.0L428.4 672.6L428.8 665.4L429.3 650.2L429.8 657.0L430.2 668.1L430.7 668.2L431.2 661.4L431.6 658.1L432.1 653.2L432.6 654.1L433.0 654.6L433.5 651.0L434.0 639.5L434.4 656.6L434.9 673.7L435.4 655.4L435.8 674.0L436.3 673.8L436.7 672.6L437.2 688.7L437.7 644.2L438.1 645.1L438.6 687.7L439.1 683.3L439.5 650.0L440.0 687.8L440.5 641.7L440.9 648.9L441.4 652.7L441.9 654.4L442.3 664.9L442.8 684.4L443.3 663.6L443.7 656.1L444.2 658.6L444.7 646.9L445.1 651.5L445.6 663.4L446.1 674.6L446.5 663.6L447.0 670.8L447.5 649.7L447.9 679.0L448.4 667.4L448.9 663.1L449.3 677.3L449.8 660.9L450.3 659.1L450.7 651.8L451.2 683.6L451.7 660.5L452.1 694.4L452.6 673.8L453.1 655.0L453.5 678.4L454.0 687.3L454.5 691.5L454.9 656.6L455.4 686.6L455.9 682.0L456.3 664.3L456.8 671.7L457.3 676.3L457.7 673.8L458.2 699.7L458.7 679.3L459.1 686.4L459.6 682.6L460.1 681.0L460.5 672.5L461.0 668.8L461.5 683.4L461.9 694.2L462.4 667.4L462.9 656.5L463.3 660.0L463.8 678.0L464.3 684.2L464.7 666.9L465.2 670.0L465.7 677.7L466.1 688.8L466.6 668.5L467.1 663.6L467.5 680.3L468.0 674.9L468.5 669.7L468.9 682.3L469.4 686.2L469.9 664.3L470.3 683.7L470.8 692.8L471.3 698.8L471.7 663.0L472.2 690.9L472.7 667.3L473.1 683.2L473.6 679.3L474.1 694.2L474.5 685.0L475.0 664.6L475.5 687.4L475.9 672.4L476.4 692.9L476.9 660.8L477.3 674.6L477.8 684.2L478.3 670.9L478.7 682.4L479.2 690.0L479.7 690.6L480.1 701.8L480.6 679.3L481.1 669.7L481.5 678.9L482.0 681.4L482.5 673.8L482.9 694.2L483.4 672.0L483.9 671.9L484.3 697.9L484.8 695.8L485.3 678.1L485.7 679.4L486.2 696.5L486.7 685.3L487.1 682.6L487.6 688.5L488.1 699.2L488.5 674.0L489.0 704.1L489.5 689.6L489.9 681.5L490.4 704.2L490.9 680.5L491.3 689.2L491.8 694.6L492.3 683.6L492.7 707.6L493.2 697.2L493.7 681.1L494.1 685.8L494.6 675.5L495.1 695.9L495.5 685.1L496.0 692.6L496.5 705.8L496.9 707.0L497.4 687.1L497.9 690.0L498.3 694.6L498.8 693.7L499.3 693.7L499.7 695.4L500.2 707.6L500.7 695.4L501.1 691.5L501.6 693.2L502.1 684.8L502.5 701.1L503.0 692.8L503.5 711.7L503.9 708.8L504.4 689.0L504.9 689.5L505.3 713.4L505.8 702.4L506.3 684.6L506.7 707.4L507.2 692.5L507.6 707.2L508.1 709.5L508.6 712.5L509.0 705.6L509.5 710.3L510.0 690.9L510.4 696.0L510.9 687.8L511.4 705.1L511.8 683.0L512.3 691.4L512.8 691.6L513.2 697.7L513.7 685.8L514.2 679.5L514.6 681.4L515.1 671.6L515.6 675.0L516.0 686.3L516.5 667.2L517.0 689.6L517.4 673.2L517.9 668.8L518.4 677.9L518.8 661.0L519.3 666.7L519.8 676.3L520.2 662.2L520.7 677.7L521.2 659.9L521.6 670.2L522.1 678.3L522.6 667.1L523.0 672.4L523.5 678.7L524.0 684.5L524.4 674.5L524.9 686.2L525.4 700.0L525.8 682.8L526.3 696.5L526.8 685.7L527.2 689.3L527.7 693.4L528.2 699.1L528.6 701.7L529.1 703.9L529.6 701.3L530.0 704.5L530.5 706.4L531.0 692.6L531.4 704.4L531.9 690.1L532.4 682.4L532.8 683.4L533.3 699.1L533.8 690.9L534.2 672.5L534.7 690.3L535.2 673.8L535.6 682.6L536.1 684.6L536.6 688.7L537.0 676.0L537.5 678.1L538.0 696.0L538.4 701.7L538.9 700.7L539.4 693.9L539.8 701.2L540.3 705.1L540.8 713.8L541.2 706.7L541.7 715.9L542.2 702.0L542.6 696.4L543.1 702.7L543.6 712.6L544.0 717.1L544.5 703.5L545.0 713.4L545.4 696.7L545.9 710.9L546.4 705.3L546.8 702.9L547.3 699.0L547.8 710.2L548.2 711.4L548.7 711.8L549.2 714.8L549.6 707.2L550.1 718.6L550.6 709.9L551.0 714.6L551.5 707.5L552.0 713.5L552.4 699.2L552.9 693.0L553.4 716.1L553.8 699.7L554.3 693.2L554.8 703.5L555.2 715.6L555.7 706.4L556.2 709.8L556.6 702.0L557.1 680.3L557.6 679.4L558.0 666.9L558.5 660.8L559.0 663.5L559.4 664.6L559.9 631.2L560.4 639.3L560.8 631.8L561.3 627.8L561.8 610.9L562.2 604.9L562.7 622.6L563.2 625.9L563.6 624.5L564.1 634.4L564.6 630.5L565.0 663.4L565.5 667.4L566.0 683.6L566.4 682.8L566.9 682.6L567.4 696.6L567.8 688.2L568.3 703.8L568.8 694.1L569.2 702.3L569.7 713.7L570.2 704.8L570.6 721.1L571.1 712.6L571.6 701.4L572.0 703.4L572.5 696.4L573.0 713.4L573.4 717.3L573.9 703.0L574.4 713.2L574.8 719.9L575.3 711.8L575.8 722.0L576.2 721.2L576.7 712.9L577.2 712.7L577.6 703.0L578.1 710.9L578.6 719.3L579.0 699.9L579.5 704.0L579.9 701.2L580.4 703.8L580.9 708.0L581.3 721.4L581.8 714.9L582.3 713.8L582.7 708.4L583.2 709.5L583.7 715.8L584.1 719.3L584.6 707.2L585.1 709.0L585.5 718.6L586.0 727.0L586.5 704.3L586.9 711.9L587.4 715.0L587.9 705.7L588.3 712.9L588.8 722.8L589.3 703.5L589.7 712.2L590.2 703.3L590.7 713.5L591.1 728.3L591.6 710.3L592.1 702.5L592.5 706.3L593.0 718.0L593.5 715.9L593.9 709.9L594.4 708.5L594.9 716.7L595.3 692.0L595.8 718.4L596.3 702.3L596.7 697.7L597.2 708.5L597.7 690.6L598.1 682.4L598.6 683.6L599.1 693.7L599.5 672.9L600.0 673.9L600.5 671.7L600.9 664.5L601.4 652.9L601.9 660.6L602.3 660.1L602.8 635.0L603.3 632.0L603.7 630.3L604.2 629.0L604.7 610.4L605.1 620.1L605.6 618.4L606.1 613.1L606.5 606.5L607.0 616.0L607.5 606.8L607.9 607.9L608.4 614.5L608.9 625.4L609.3 627.6L609.8 642.1L610.3 644.3L610.7 641.1L611.2 653.8L611.7 664.7L612.1 666.9L612.6 665.5L613.1 687.0L613.5 685.7L614.0 682.4L614.5 695.0L614.9 689.5L615.4 690.2L615.9 706.7L616.3 708.4L616.8 702.2L617.3 700.8L617.7 708.0L618.2 709.4L618.7 706.1L619.1 703.8L619.6 720.8L620.1 703.2L620.5 700.3L621.0 717.0L621.5 719.9L621.9 706.4L622.4 710.1L622.9 714.3L623.3 725.6L623.8 706.5L624.3 716.5L624.7 706.3L625.2 715.1L625.7 713.6L626.1 712.5L626.6 715.6L627.1 708.9L627.5 705.7L628.0 707.3L628.5 719.9L628.9 718.0L629.4 708.0L629.9 711.6L630.3 695.2L630.8 700.8L631.3 712.7L631.7 690.7L632.2 709.1L632.7 703.1L633.1 697.7L633.6 686.1L634.1 676.6L634.5 681.9L635.0 686.7L635.5 675.7L635.9 677.9L636.4 663.3L636.9 681.8L637.3 678.5L637.8 670.2L638.3 657.9L638.7 655.2L639.2 650.9L639.7 650.5L640.1 668.6L640.6 663.6L641.1 675.2L641.5 665.1L642.0 671.3L642.5 685.2L642.9 690.5L643.4 672.3L643.9 692.8L644.3 686.5L644.8 680.6L645.3 696.1L645.7 686.1L646.2 694.6L646.7 707.5L647.1 706.2L647.6 689.1L648.1 708.5L648.5 696.3L649.0 717.3L649.5 715.5L649.9 714.6L650.4 700.7L650.8 703.4L651.3 715.8L651.8 709.9L652.2 725.9L652.7 713.5L653.2 711.4L653.6 706.7L654.1 717.7L654.6 724.5L655.0 706.4L655.5 725.1L656.0 707.0L656.4 724.0L656.9 714.2L657.4 707.7L657.8 715.8L658.3 720.2L658.8 701.0L659.2 697.5L659.7 698.5L660.2 705.8L660.6 717.8L661.1 718.5L661.6 701.9L662.0 693.6L662.5 706.9L663.0 706.4L663.4 700.5L663.9 709.4L664.4 720.1L664.8 699.1L665.3 705.3L665.8 718.4L666.2 704.0L666.7 708.3L667.2 705.9L667.6 727.2L668.1 712.6L668.6 709.5L669.0 722.8L669.5 727.3L670.0 727.8L670.4 715.3L670.9 728.5L671.4 709.6L671.8 720.0L672.3 719.5L672.8 723.2L673.2 717.3L673.7 715.6L674.2 733.0L674.6 716.0L675.1 721.5L675.6 737.3L676.0 718.7L676.5 718.9L677.0 725.7L677.4 709.8L677.9 712.5L678.4 725.8L678.8 720.7L679.3 714.0L679.8 712.2L680.2 726.3L680.7 730.3L681.2 723.3L681.6 712.3L682.1 731.4L682.6 717.3L683.0 731.1L683.5 715.6L684.0 729.0L684.4 726.6L684.9 719.9L685.4 724.4L685.8 725.0L686.3 724.9L686.8 723.2L687.2 726.4L687.7 713.7L688.2 721.0L688.6 726.4L689.1 722.0L689.6 730.7L690.0 717.9L690.5 716.2L691.0 721.2L691.4 708.7L691.9 715.5L692.4 710.6L692.8 710.6L693.3 688.3L693.8 699.6L694.2 685.5L694.7 672.9L695.2 658.1L695.6 667.8L696.1 652.5L696.6 633.7L697.0 615.3L697.5 615.3L698.0 576.0L698.4 566.8L698.9 561.1L699.4 552.4L699.8 527.4L700.3 523.1L700.8 506.1L701.2 500.9L701.7 499.6L702.2 496.3L702.6 496.2L703.1 507.6L703.6 509.8L704.0 531.2L704.5 536.3L705.0 542.5L705.4 566.3L705.9 587.0L706.4 587.6L706.8 592.3L707.3 624.6L707.8 638.5L708.2 652.5L708.7 664.1L709.2 672.0L709.6 673.9L710.1 681.3L710.6 681.7L711.0 709.5L711.5 707.7L712.0 703.1L712.4 701.7L712.9 709.6L713.4 726.5L713.8 710.8L714.3 708.1L714.8 721.0L715.2 719.0L715.7 726.4L716.2 724.9L716.6 724.4L717.1 738.2L717.6 737.6L718.0 719.6L718.5 722.1L719.0 724.3L719.4 713.6L719.9 732.8L720.4 729.8L720.8 722.6L721.3 739.7L721.8 729.8L722.2 720.6L722.7 728.4L723.1 735.7L723.6 735.2L724.1 735.7L724.5 739.9L725.0 726.6L725.5 725.9L725.9 716.1L726.4 725.1L726.9 721.9L727.3 717.4L727.8 735.7L728.3 716.1L728.7 715.4L729.2 736.4L729.7 728.2L730.1 725.7L730.6 732.8L731.1 722.7L731.5 717.2L732.0 726.4L732.5 714.2L732.9 726.7L733.4 731.8L733.9 729.7L734.3 732.5L734.8 710.7L735.3 720.2L735.7 734.7L736.2 735.2L736.7 723.4L737.1 730.9L737.6 721.3L738.1 719.8L738.5 717.3L739.0 735.4L739.5 724.3L739.9 738.1L740.4 711.4L740.9 730.4L741.3 734.0L741.8 712.6L742.3 727.9L742.7 732.6L743.2 734.8L743.7 733.6L744.1 733.1L744.6 737.0L745.1 725.2L745.5 740.2L746.0 729.2L746.5 722.7L746.9 737.7L747.4 723.8L747.9 723.3L748.3 735.5L748.8 736.2L749.3 727.1L749.7 716.7L750.2 730.6L750.7 728.1L751.1 734.8L751.6 723.0L752.1 736.9L752.5 734.2L753.0 736.5L753.5 732.3L753.9 731.1L754.4 735.2L754.9 738.2L755.3 718.2L755.8 729.4L756.3 736.3L756.7 737.3L757.2 719.2L757.7 724.9L758.1 738.3L758.6 729.7L759.1 716.1L759.5 725.3L760.0 732.7L760.5 740.4L760.9 726.4L761.4 720.8L761.9 719.2L762.3 717.2L762.8 718.1L763.3 716.8L763.7 729.8L764.2 731.2L764.7 724.6L765.1 735.9L765.6 717.0L766.1 717.0L766.5 729.0L767.0 725.0L767.5 710.4L767.9 723.9L768.4 720.9L768.9 716.9L769.3 709.3L769.8 714.4L770.3 698.6L770.7 701.8L771.2 713.0L771.7 703.7L772.1 701.7L772.6 683.3L773.1 691.6L773.5 705.1L774.0 696.5L774.5 694.9L774.9 670.0L775.4 670.9L775.9 673.1L776.3 686.2L776.8 673.3L777.3 664.7L777.7 669.5L778.2 684.3L778.7 676.5L779.1 689.8L779.6 673.8L780.1 678.7L780.5 703.6L781.0 684.5L781.5 701.9L781.9 701.9L782.4 690.8L782.9 692.0L783.3 713.8L783.8 694.3L784.3 717.7L784.7 696.8L785.2 700.8L785.7 708.4L786.1 701.9L786.6 718.7L787.1 701.6L787.5 696.8L788.0 697.5L788.5 703.8L788.9 711.3L789.4 695.8L789.9 701.6L790.3 707.4L790.8 705.5L791.3 717.1L791.7 704.2L792.2 708.3L792.7 721.7L793.1 726.1L793.6 712.4L794.1 727.4L794.5 708.7L795.0 727.2L795.4 733.1L795.9 724.7L796.4 731.4L796.8 712.9L797.3 735.2L797.8 726.6L798.2 725.2L798.7 727.1L799.2 717.7L799.6 738.3L800.1 721.6L800.6 728.2L801.0 717.0L801.5 729.8L802.0 716.9L802.4 732.2L802.9 712.5L803.4 714.3L803.8 716.0L804.3 722.4L804.8 731.6L805.2 711.2L805.7 717.9L806.2 707.3L806.6 712.1L807.1 711.1L807.6 707.5L808.0 721.7L808.5 716.2L809.0 714.9L809.4 724.2L809.9 717.8L810.4 738.4L810.8 719.1L811.3 738.3L811.8 717.6L812.2 732.5L812.7 711.2L813.2 713.0L813.6 715.0L814.1 732.0L814.6 721.4L815.0 718.8L815.5 731.5L816.0 713.2L816.4 726.1L816.9 719.8L817.4 716.6L817.8 738.1L818.3 716.8L818.8 717.9L819.2 728.0L819.7 731.1L820.2 718.2L820.6 712.5L821.1 729.5L821.6 717.8L822.0 714.6L822.5 710.4L823.0 720.8L823.4 708.8L823.9 710.7L824.4 696.5L824.8 679.6L825.3 690.5L825.8 693.3L826.2 674.2L826.7 668.3L827.2 646.6L827.6 652.3L828.1 639.0L828.6 628.3L829.0 615.8L829.5 611.5L830.0 595.9L830.4 587.2L830.9 580.0L831.4 555.6L831.8 550.9L832.3 550.9L832.8 552.8L833.2 538.5L833.7 533.4L834.2 535.7L834.6 537.5L835.1 528.2L835.6 526.4L836.0 527.3L836.5 527.3L837.0 530.2L837.4 531.8L837.9 538.6L838.4 564.4L838.8 575.4L839.3 567.4L839.8 596.1L840.2 598.5L840.7 612.2L841.2 611.0L841.6 640.4L842.1 629.5L842.6 642.7L843.0 661.2L843.5 668.0L844.0 681.1L844.4 692.1L844.9 675.3L845.4 698.3L845.8 699.2L846.3 709.5L846.8 710.1L847.2 719.4L847.7 721.0L848.2 720.0L848.6 703.6L849.1 718.4L849.6 721.0L850.0 723.4L850.5 728.7L851.0 715.2L851.4 706.8L851.9 724.9L852.4 713.4L852.8 722.2L853.3 708.2L853.8 709.7L854.2 719.3L854.7 698.0L855.2 699.1L855.6 690.7L856.1 708.5L856.6 698.4L857.0 690.4L857.5 684.2L858.0 695.6L858.4 677.5L858.9 688.0L859.4 673.6L859.8 689.8L860.3 686.1L860.8 689.4L861.2 710.4L861.7 702.6L862.2 725.3L862.6 719.8L863.1 723.8L863.6 723.1L864.0 738.7L864.5 714.2L865.0 735.1L865.4 721.6L865.9 715.5L866.3 733.9L866.8 716.6L867.3 728.6L867.7 734.1L868.2 720.0L868.7 733.6L869.1 734.9L869.6 730.6L870.1 717.5L870.5 733.8L871.0 740.9L871.5 716.7L871.9 739.8L872.4 736.5L872.9 721.4L873.3 742.5L873.8 736.1L874.3 715.4L874.7 736.8L875.2 740.4L875.7 735.3L876.1 720.0L876.6 726.7L877.1 734.9L877.5 724.0L878.0 722.8L878.5 718.7L878.9 714.2L879.4 722.5L879.9 724.7L880.3 728.5L880.8 739.5L881.3 717.9L881.7 726.8L882.2 733.3L882.7 736.6L883.1 717.6L883.6 733.2L884.1 716.7L884.5 736.6L885.0 723.7L885.5 730.4L885.9 728.1L886.4 730.6L886.9 721.2L887.3 724.0L887.8 723.7L888.3 733.4L888.7 726.2L889.2 731.8L889.7 727.0L890.1 733.5L890.6 741.6L891.1 733.8L891.5 733.0L892.0 729.2L892.5 728.3L892.9 729.4L893.4 723.6L893.9 732.2L894.3 718.1L894.8 732.1L895.3 737.1L895.7 736.0L896.2 733.8L896.7 720.3L897.1 716.6L897.6 719.9L898.1 728.9L898.5 718.1L899.0 717.1L899.5 739.3L899.9 727.6L900.4 716.9L900.9 727.7L901.3 733.7L901.8 725.8L902.3 716.7L902.7 728.8L903.2 720.0L903.7 730.6L904.1 739.0L904.6 717.6L905.1 728.8L905.5 738.6L906.0 731.2L906.5 719.7L906.9 722.3L907.4 726.9L907.9 714.5L908.3 741.6L908.8 732.2L909.3 726.2L909.7 735.2L910.2 724.0L910.7 728.1L911.1 730.5L911.6 721.5L912.1 735.8L912.5 732.1L913.0 720.3L913.5 724.9L913.9 722.7L914.4 736.6L914.9 731.9L915.3 738.2L915.8 732.8L916.3 734.8L916.7 727.4L917.2 735.7L917.7 722.7L918.1 735.5L918.6 727.4L919.1 728.7L919.5 718.3L920.0 726.7L920.5 729.5L920.9 728.4L921.4 711.8L921.9 717.1L922.3 722.3L922.8 730.5L923.3 714.8L923.7 729.9L924.2 728.4L924.7 707.8L925.1 727.4L925.6 720.7L926.1 711.3L926.5 712.7L927.0 716.5L927.5 707.2L927.9 722.2L928.4 711.1L928.9 711.4L929.3 722.6L929.8 726.6L930.3 714.4L930.7 709.9L931.2 721.6L931.7 713.7L932.1 720.7L932.6 707.3L933.1 704.8L933.5 698.0L934.0 703.3L934.5 697.6L934.9 714.0L935.4 705.1L935.9 701.4L936.3 702.3L936.8 691.9L937.3 689.6L937.7 677.9L938.2 672.5L938.6 675.9L939.1 677.2L939.6 659.8L940.0 656.9L940.5 653.9L941.0 649.4L941.4 656.0L941.9 661.0L942.4 665.8L942.8 654.8L943.3 646.1L943.8 651.2L944.2 660.4L944.7 673.7L945.2 657.1L945.6 677.3L946.1 688.6L946.6 672.1L947.0 696.1L947.5 690.5L948.0 698.9L948.4 701.0L948.9 709.6L949.4 713.6L949.8 715.2L950.3 712.3L950.8 707.0L951.2 729.4L951.7 714.1L952.2 717.3L952.6 714.0L953.1 718.6L953.6 728.3L954.0 712.9L954.5 722.2L955.0 727.4L955.4 722.5L955.9 734.3L956.4 725.4L956.8 720.4L957.3 736.2L957.8 726.8L958.2 725.8L958.7 720.6L959.2 735.1L959.6 725.0L960.1 725.5L960.6 730.4L961.0 740.4L961.5 724.4L962.0 719.6L962.4 734.1L962.9 736.3L963.4 728.2L963.8 737.0L964.3 723.3L964.8 740.0L965.2 712.1L965.7 733.1L966.2 737.2L966.6 725.4L967.1 738.2L967.6 735.6L968.0 721.2L968.5 717.5L969.0 734.0L969.4 724.4L969.9 723.8L970.4 719.3L970.8 717.9L971.3 718.8L971.8 731.5L972.2 717.4L972.7 720.5L973.2 728.7L973.6 718.8L974.1 722.2L974.6 718.6L975.0 724.0L975.5 714.8L976.0 708.6L976.4 724.8L976.9 700.4L977.4 705.2L977.8 701.3L978.3 689.0L978.8 692.7L979.2 681.9L979.7 668.2L980.2 657.0L980.6 643.7L981.1 653.6L981.6 648.3L982.0 628.7L982.5 619.4L983.0 622.6L983.4 622.3L983.9 621.8L984.4 621.4L984.8 617.8L985.3 619.1L985.8 609.3L986.2 627.5L986.7 637.3L987.2 634.1L987.6 639.7L988.1 654.9L988.6 664.7L989.0 662.8L989.5 686.1L990.0 687.7L990.4 682.9L990.9 695.3L991.4 696.7L991.8 705.1L992.3 721.0L992.8 709.8L993.2 726.3L993.7 714.7L994.2 714.5L994.6 722.5L995.1 717.8L995.6 721.3L996.0 732.7L996.5 723.8L997.0 730.8L997.4 723.3L997.9 724.5L998.4 737.9L998.8 731.6L999.3 723.8L999.8 727.8L1000.2 721.4L1000.7 723.8L1001.2 726.5L1001.6 722.0L1002.1 719.7L1002.6 721.1L1003.0 722.1L1003.5 730.4L1004.0 721.7L1004.4 729.8L1004.9 726.5L1005.4 724.4L1005.8 720.3L1006.3 724.2L1006.8 740.5L1007.2 728.2L1007.7 729.4L1008.2 737.7L1008.6 736.0L1009.1 737.5L1009.6 742.2L1010.0 729.6L1010.5 723.1L1010.9 729.5L1011.4 725.2L1011.9 736.7L1012.3 725.6L1012.8 736.8L1013.3 720.2L1013.7 728.0L1014.2 729.8L1014.7 724.2L1015.1 738.0L1015.6 742.2L1016.1 728.8L1016.5 732.1L1017.0 740.4L1017.5 733.6L1017.9 730.9L1018.4 732.7L1018.9 728.8L1019.3 731.2L1019.8 736.8L1020.3 724.3L1020.7 738.1L1021.2 728.5L1021.7 732.7L1022.1 722.9L1022.6 735.1L1023.1 722.3L1023.5 731.2L1024.0 731.2L1024.5 717.8L1024.9 732.9L1025.4 731.2L1025.9 716.5L1026.3 735.9L1026.8 730.6L1027.3 737.9L1027.7 728.5L1028.2 720.7L1028.7 729.8L1029.1 716.5L1029.6 719.1L1030.1 722.1L1030.5 716.2L1031.0 725.9L1031.5 718.7L1031.9 718.6L1032.4 712.4L1032.9 712.9L1033.3 706.2L1033.8 723.2L1034.3 720.0L1034.7 716.0L1035.2 714.0L1035.7 727.5L1036.1 718.8L1036.6 714.9L1037.1 721.7L1037.5 722.3L1038.0 727.3L1038.5 729.1L1038.9 737.2L1039.4 733.6L1039.9 728.9L1040.3 721.5L1040.8 734.1L1041.3 733.8L1041.7 728.4L1042.2 731.2L1042.7 738.2L1043.1 722.7L1043.6 731.0L1044.1 737.2L1044.5 723.5L1045.0 723.1L1045.5 737.3L1045.9 735.9L1046.4 714.2L1046.9 727.1L1047.3 724.6L1047.8 732.2L1048.3 725.1L1048.7 723.0L1049.2 723.5L1049.7 721.2L1050.1 708.1L1050.6 707.4L1051.1 708.7L1051.5 720.9L1052.0 706.5L1052.5 713.5L1052.9 717.8L1053.4 698.5L1053.9 703.5L1054.3 705.6L1054.8 717.2L1055.3 721.3L1055.7 706.4L1056.2 705.6L1056.7 711.4L1057.1 729.7L1057.6 718.5L1058.1 729.4L1058.5 734.1L1059.0 734.6L1059.5 727.0L1059.9 724.0L1060.4 733.9L1060.9 742.5L1061.3 741.5L1061.8 729.4L1062.3 731.3L1062.7 732.9L1063.2 727.8L1063.7 728.2L1064.1 722.8L1064.6 732.4L1065.1 726.1L1065.5 740.3L1066.0 732.3L1066.5 741.3L1066.9 735.8L1067.4 730.5L1067.9 722.2L1068.3 724.2L1068.8 737.8L1069.3 730.1L1069.7 717.5L1070.2 723.8L1070.7 732.5L1071.1 731.0L1071.6 732.0L1072.1 731.1L1072.5 722.2L1073.0 725.6L1073.5 713.9L1073.9 722.9L1074.4 721.7L1074.9 717.9L1075.3 719.2L1075.8 731.7L1076.3 719.6L1076.7 728.1L1077.2 724.5L1077.7 734.1L1078.1 723.4L1078.6 723.6L1079.1 724.6L1079.5 737.0L1080.0 726.5L1080.5 733.8L1080.9 732.0L1081.4 730.3L1081.8 731.2L1082.3 734.7L1082.8 724.2L1083.2 733.8L1083.7 728.9L1084.2 728.7L1084.6 737.0L1085.1 729.6L1085.6 725.5L1086.0 728.7L1086.5 732.2L1087.0 738.9L1087.4 742.2L1087.9 734.7L1088.4 727.2L1088.8 741.5L1089.3 744.6L1089.8 728.3L1090.2 732.0L1090.7 725.3L1091.2 740.1L1091.6 727.4L1092.1 743.7L1092.6 734.9L1093.0 739.4L1093.5 730.6L1094.0 731.8L1094.4 723.2L1094.9 742.9L1095.4 730.1L1095.8 732.0L1096.3 731.6L1096.8 726.4L1097.2 732.7L1097.7 731.0L1098.2 744.0L1098.6 744.8L1099.1 730.2L1099.6 742.6L1100.0 727.3L1100.5 735.0L1101.0 743.6L1101.4 731.7L1101.9 727.4L1102.4 737.8L1102.8 738.7L1103.3 746.0L1103.8 733.4L1104.2 724.3L1104.7 722.3L1105.2 733.3L1105.6 726.5L1106.1 738.3L1106.6 729.3L1107.0 733.1L1107.5 736.7L1108.0 727.4L1108.4 741.8L1108.9 747.3L1109.4 732.4L1109.8 737.7L1110.3 732.3L1110.8 742.8L1111.2 745.2L1111.7 743.4L1112.2 731.9L1112.6 731.3L1113.1 724.9L1113.6 724.7L1114.0 743.7L1114.5 734.3L1115.0 733.3L1115.4 729.3L1115.9 747.5L1116.4 727.0L1116.8 736.7L1117.3 739.8L1117.8 739.1L1118.2 742.4L1118.7 739.6L1119.2 735.4L1119.6 736.3L1120.1 742.5L1120.6 727.4L1121.0 731.6L1121.5 743.7L1122.0 744.0L1122.4 739.6L1122.9 727.8L1123.4 742.3L1123.8 744.6L1124.3 733.3L1124.8 731.9L1125.2 734.8L1125.7 738.1L1126.2 731.1L1126.6 727.5L1127.1 745.3L1127.6 735.2L1128.0 738.5L1128.5 732.0L1129.0 727.6L1129.4 724.8L1129.9 728.2L1130.4 742.2L1130.8 742.0L1131.3 746.0L1131.8 744.7L1132.2 729.1L1132.7 726.0L1133.2 738.4L1133.6 735.4L1134.1 744.1L1134.6 739.1L1135.0 731.0L1135.5 736.6L1136.0 727.5L1136.4 736.6L1136.9 728.7L1137.4 745.2L1137.8 740.6L1138.3 744.5L1138.8 741.9L1139.2 742.8L1139.7 745.0L1140.2 743.8L1140.6 738.6L1141.1 727.0L1141.6 736.2L1142.0 734.3L1142.5 742.0L1143.0 739.9L1143.4 733.8L1143.9 724.0L1144.4 722.2L1144.8 735.6L1145.3 737.7L1145.8 725.3L1146.2 718.3L1146.7 719.9L1147.2 715.8L1147.6 733.9L1148.1 726.1L1148.6 726.2L1149.0 732.2L1149.5 722.3L1150.0 729.3L1150.4 733.4L1150.9 727.7L1151.4 726.8L1151.8 728.5L1152.3 729.1L1152.8 730.2L1153.2 733.4L1153.7 730.3L1154.1 741.1L1154.6 742.5L1155.1 744.6L1155.5 742.8L1156.0 733.0L1156.5 726.7L1156.9 747.8L1157.4 737.4L1157.9 744.3L1158.3 743.8L1158.8 732.5L1159.3 737.8L1159.7 731.1L1160.2 732.0L1160.7 726.5L1161.1 730.7L1161.6 730.4L1162.1 744.4L1162.5 735.0L1163.0 742.4L1163.5 733.4L1163.9 732.2L1164.4 738.7L1164.9 730.4L1165.3 744.5L1165.8 733.4L1166.3 734.6L1166.7 741.2L1167.2 729.2L1167.7 741.5L1168.1 730.1L1168.6 730.3L1169.1 738.1L1169.5 740.2L1170.0 728.4L1170.5 735.3L1170.9 734.2L1171.4 738.4L1171.9 731.5L1172.3 739.0L1172.8 749.4L1173.3 726.2L1173.7 740.5L1174.2 735.4L1174.7 736.2L1175.1 732.2L1175.6 735.0L1176.1 737.2L1176.5 744.7L1177.0 743.0L1177.5 745.0L1177.9 745.3L1178.4 733.9L1178.9 741.0L1179.3 744.8L1179.8 725.9L1180.3 737.8L1180.7 737.5L1181.2 729.4L1181.7 737.8L1182.1 741.9L1182.6 735.5L1183.1 721.7L1183.5 742.0L1184.0 730.2L1184.5 735.8L1184.9 723.3L1185.4 731.1L1185.9 718.5L1186.3 728.1L1186.8 727.6L1187.3 721.8L1187.7 727.7L1188.2 716.4L1188.7 707.0L1189.1 705.4L1189.6 701.7L1190.1 700.3L1190.5 711.5L1191.0 699.2L1191.5 702.0L1191.9 691.2L1192.4 691.3L1192.9 685.2L1193.3 672.9L1193.8 681.4L1194.3 666.1L1194.7 674.1L1195.2 652.4L1195.7 652.0L1196.1 651.2L1196.6 663.8L1197.1 650.0L1197.5 655.5L1198.0 662.9L1198.5 665.0L1198.9 662.5L1199.4 677.0L1199.9 673.8L1200.3 673.9L1200.8 687.0L1201.3 680.1L1201.7 695.2L1202.2 690.7L1202.7 710.4L1203.1 694.8L1203.6 702.6L1204.1 703.0L1204.5 714.1L1205.0 715.0L1205.5 713.4L1205.9 720.6L1206.4 723.1L1206.9 716.7L1207.3 722.7L1207.8 720.2L1208.3 715.1L1208.7 725.2L1209.2 735.1L1209.7 734.7L1210.1 735.6L1210.6 717.5L1211.1 732.6L1211.5 719.4L1212.0 732.8L1212.5 731.7L1212.9 728.4L1213.4 739.1L1213.9 727.2L1214.3 729.3L1214.8 723.1L1215.3 734.2L1215.7 730.8L1216.2 728.3L1216.7 723.8L1217.1 735.4L1217.6 720.0L1218.1 730.4L1218.5 719.7L1219.0 725.8L1219.5 715.1L1219.9 729.2L1220.4 739.6L1220.9 725.5L1221.3 722.2L1221.8 731.1L1222.3 723.1L1222.7 726.7L1223.2 728.7L1223.7 724.5L1224.1 735.4L1224.6 730.8L1225.0 734.4L1225.5 722.5L1226.0 739.6L1226.4 724.9L1226.9 731.7L1227.4 724.3L1227.8 723.5L1228.3 721.5L1228.8 729.6L1229.2 726.7L1229.7 730.3L1230.2 735.2L1230.6 726.3L1231.1 739.5L1231.6 724.0L1232.0 733.5L1232.5 736.5L1233.0 734.8L1233.4 722.0L1233.9 726.2L1234.4 726.2L1234.8 726.7L1235.3 735.2L1235.8 743.7L1236.2 731.0L1236.7 742.8L1237.2 728.4L1237.6 742.9L1238.1 734.0L1238.6 732.6L1239.0 729.8L1239.5 728.2L1240.0 727.1L1240.4 746.5L1240.9 740.0L1241.4 732.8L1241.8 738.5L1242.3 737.6L1242.8 729.4L1243.2 748.6L1243.7 730.5L1244.2 742.7L1244.6 734.1L1245.1 738.8L1245.6 747.9L1246.0 744.5L1246.5 730.4L1247.0 742.2L1247.4 741.7L1247.9 731.2L1248.4 741.6L1248.8 732.2L1249.3 748.3L1249.8 731.9L1250.2 729.1L1250.7 747.5L1251.2 732.1L1251.6 743.2L1252.1 745.6L1252.6 738.5L1253.0 745.8L1253.5 733.0L1254.0 733.9L1254.4 742.3L1254.9 733.1L1255.4 748.2L1255.8 739.3L1256.3 743.0L1256.8 741.4L1257.2 740.3L1257.7 730.9L1258.2 726.4L1258.6 736.1L1259.1 729.0L1259.6 741.4L1260.0 733.5L1260.5 747.9L1261.0 731.8L1261.4 734.8L1261.9 745.8L1262.4 741.2L1262.8 739.2L1263.3 742.6L1263.8 734.1L1264.2 734.0L1264.7 751.5L1265.2 748.1L1265.6 746.5L1266.1 731.1L1266.6 740.9L1267.0 731.7L1267.5 731.4L1268.0 747.6L1268.4 736.2L1268.9 735.6L1269.4 742.1L1269.8 742.6L1270.3 743.2L1270.8 731.0L1271.2 738.8L1271.7 740.2L1272.2 736.0L1272.6 728.9L1273.1 751.0L1273.6 743.2L1274.0 739.9L1274.5 736.3L1275.0 742.5L1275.4 740.0L1275.9 729.4L1276.4 742.4L1276.8 742.2L1277.3 746.9L1277.8 742.8L1278.2 731.6L1278.7 736.1L1279.2 728.3L1279.6 730.3L1280.1 739.3L1280.6 731.3L1281.0 731.7L1281.5 740.2L1282.0 751.0L1282.4 747.1L1282.9 729.2L1283.4 734.6L1283.8 728.8L1284.3 736.4L1284.8 748.1L1285.2 732.2L1285.7 742.6L1286.2 737.2L1286.6 742.0L1287.1 748.1L1287.6 736.4L1288.0 732.5L1288.5 742.2L1289.0 729.1L1289.4 732.3L1289.9 738.9L1290.4 737.5L1290.8 735.0L1291.3 733.5L1291.8 742.4L1292.2 737.5L1292.7 732.6L1293.2 739.1L1293.6 743.0L1294.1 738.8L1294.6 740.8L1295.0 727.2L1295.5 730.6L1296.0 738.6L1296.4 743.6L1296.9 723.9L1297.3 736.8L1297.8 728.2L1298.3 733.5L1298.7 736.8L1299.2 738.8L1299.7 724.6L1300.1 731.8L1300.6 746.1L1301.1 742.2L1301.5 736.6L1302.0 730.4L1302.5 737.8L1302.9 732.6L1303.4 729.5L1303.9 733.0L1304.3 740.9L1304.8 738.7L1305.3 736.9L1305.7 734.2L1306.2 741.1L1306.7 748.1L1307.1 747.9L1307.6 747.2L1308.1 731.6L1308.5 741.2L1309.0 741.9L1309.5 731.9L1309.9 737.7L1310.4 745.5L1310.9 739.9L1311.3 742.2L1311.8 727.8L1312.3 729.2L1312.7 743.1L1313.2 737.6L1313.7 730.2L1314.1 727.4L1314.6 732.9L1315.1 740.8L1315.5 733.2L1316.0 741.3L1316.5 732.2L1316.9 737.3L1317.4 734.7L1317.9 749.2L1318.3 731.2L1318.8 726.2L1319.3 744.4L1319.7 737.1L1320.2 733.2L1320.7 731.9L1321.1 734.3L1321.6 738.8L1322.1 736.3L1322.5 737.8L1323.0 733.8L1323.5 736.6L1323.9 727.5L1324.4 738.7L1324.9 738.8L1325.3 747.3L1325.8 741.5L1326.3 730.3L1326.7 733.3L1327.2 744.1L1327.7 740.0L1328.1 726.0L1328.6 726.0L1329.1 740.5L1329.5 739.9L1330.0 731.1L1330.5 730.7L1330.9 729.5L1331.4 742.6L1331.9 731.4L1332.3 743.9L1332.8 739.1L1333.3 735.5L1333.7 745.2L1334.2 731.4L1334.7 732.1L1335.1 728.0L1335.6 733.8L1336.1 732.7L1336.5 741.5L1337.0 744.6L1337.5 732.1L1337.9 733.8L1338.4 747.6L1338.9 729.1L1339.3 736.0L1339.8 737.1L1340.3 737.2L1340.7 733.8L1341.2 735.6L1341.7 728.1L1342.1 737.9L1342.6 743.2L1343.1 746.9L1343.5 738.4L1344.0 728.0L1344.5 743.8L1344.9 727.9L1345.4 733.5L1345.9 728.0L1346.3 738.3L1346.8 739.3L1347.3 746.4L1347.7 740.9L1348.2 727.0L1348.7 745.0L1349.1 727.8L1349.6 726.2L1350.1 732.2L1350.5 743.9L1351.0 735.1L1351.5 744.2L1351.9 734.7L1352.4 735.9L1352.9 741.4L1353.3 728.6L1353.8 731.8L1354.3 745.7L1354.7 734.0L1355.2 731.4L1355.7 737.1L1356.1 740.3L1356.6 741.3L1357.1 737.1L1357.5 741.6L1358.0 732.2L1358.5 733.6L1358.9 743.1L1359.4 742.4L1359.9 724.6L1360.3 729.9L1360.8 728.3L1361.3 733.8L1361.7 729.4L1362.2 731.2L1362.7 731.3L1363.1 728.7L1363.6 737.0L1364.1 724.7L1364.5 742.8L1365.0 727.4L1365.5 738.1L1365.9 732.2L1366.4 738.4L1366.9 730.0L1367.3 728.2L1367.8 733.1L1368.3 722.8L1368.7 724.3L1369.2 730.2L1369.6 717.7L1370.1 733.3L1370.6 722.4L1371.0 726.9L1371.5 727.8L1372.0 731.0L1372.4 719.6L1372.9 713.8L1373.4 714.2L1373.8 730.6L1374.3 723.3L1374.8 725.9L1375.2 717.5L1375.7 733.0L1376.2 717.1L1376.6 725.9L1377.1 717.0L1377.6 733.3L1378.0 725.9L1378.5 731.3L1379.0 730.8L1379.4 720.3L1379.9 725.9L1380.4 720.3L1380.8 733.5L1381.3 729.7L1381.8 723.3L1382.2 727.3L1382.7 732.2L1383.2 722.1L1383.6 728.9L1384.1 730.7L1384.6 729.6L1385.0 738.9L1385.5 732.5L1386.0 738.8L1386.4 722.5L1386.9 731.2L1387.4 724.6L1387.8 725.0L1388.3 723.6L1388.8 727.7L1389.2 722.7L1389.7 723.8L1390.2 721.9L1390.6 736.8L1391.1 720.3L1391.6 731.0L1392.0 734.5L1392.5 722.0L1393.0 727.7L1393.4 728.8L1393.9 725.7L1394.4 723.0L1394.8 711.5L1395.3 713.2L1395.8 710.0L1396.2 712.4L1396.7 719.5L1397.2 716.4L1397.6 725.8L1398.1 718.6L1398.6 726.3L1399.0 721.5L1399.5 720.2L1400.0 731.4L1400.4 722.7L1400.9 728.3L1401.4 721.4L1401.8 729.9L1402.3 725.3L1402.8 722.3L1403.2 731.3L1403.7 730.3L1404.2 736.8L1404.6 721.3L1405.1 737.5L1405.6 721.2L1406.0 740.3L1406.5 741.1L1407.0 735.9L1407.4 727.7L1407.9 736.8L1408.4 741.9L1408.8 738.4L1409.3 739.0L1409.8 721.9L1410.2 725.5L1410.7 736.4L1411.2 733.4L1411.6 730.0L1412.1 727.9L1412.6 726.1L1413.0 741.8L1413.5 727.0L1414.0 742.0L1414.4 723.1L1414.9 735.9L1415.4 738.0L1415.8 737.3L1416.3 743.9L1416.8 737.3L1417.2 740.5L1417.7 730.4L1418.2 726.8L1418.6 732.1L1419.1 727.9L1419.6 741.1L1420.0 737.0L1420.5 738.0L1421.0 735.2L1421.4 735.5L1421.9 731.9L1422.4 739.1L1422.8 744.2L1423.3 740.1L1423.8 747.0L1424.2 732.6L1424.7 735.0L1425.2 735.9L1425.6 732.2L1426.1 736.1L1426.6 741.1L1427.0 735.4L1427.5 729.7L1428.0 741.6L1428.4 727.6L1428.9 730.6L1429.4 738.6L1429.8 741.3L1430.3 728.4L1430.8 743.3L1431.2 740.0L1431.7 739.5L1432.2 728.6L1432.6 745.1L1433.1 739.0L1433.6 725.3L1434.0 742.4L1434.5 734.7L1435.0 745.2L1435.4 743.8L1435.9 745.3L1436.4 743.0L1436.8 737.3L1437.3 745.6L1437.8 726.8L1438.2 741.0L1438.7 741.6L1439.2 747.5L1439.6 738.7L1440.1 736.1L1440.5 741.3L1441.0 738.1L1441.5 735.6L1441.9 743.8L1442.4 733.8L1442.9 728.2L1443.3 726.9L1443.8 734.6L1444.3 731.8L1444.7 737.5L1445.2 724.7L1445.7 738.3L1446.1 745.7L1446.6 739.3L1447.1 736.6L1447.5 730.9L1448.0 739.1L1448.5 723.0L1448.9 735.5L1449.4 735.0L1449.9 723.0L1450.3 727.6L1450.8 719.5L1451.3 712.1L1451.7 719.1L1452.2 717.0L1452.7 715.4L1453.1 708.9L1453.6 721.1L1454.1 705.2L1454.5 711.6L1455.0 703.5L1455.5 697.2L1455.9 705.3L1456.4 698.9L1456.9 684.4L1457.3 698.5L1457.8 680.7L1458.3 685.4L1458.7 686.5L1459.2 684.4L1459.7 683.6L1460.1 684.6L1460.6 688.5L1461.1 674.4L1461.5 684.7L1462.0 682.3L1462.5 677.3L1462.9 686.1L1463.4 695.9L1463.9 693.1L1464.3 696.2L1464.8 700.5L1465.3 703.9L1465.7 711.5L1466.2 719.2L1466.7 708.9L1467.1 711.2L1467.6 716.8L1468.1 726.2L1468.5 731.9L1469.0 718.9L1469.5 733.2L1469.9 728.7L1470.4 736.9L1470.9 729.1L1471.3 737.2L1471.8 728.2L1472.3 728.9L1472.7 737.5L1473.2 734.1L1473.7 742.6L1474.1 734.2L1474.6 731.2L1475.1 734.2L1475.5 740.9L1476.0 728.6L1476.5 728.7L1476.9 740.1L1477.4 728.6L1477.9 728.7L1478.3 734.7L1478.8 740.1L1479.3 747.1L1479.7 728.3L1480.2 731.1L1480.7 745.7L1481.1 736.2L1481.6 743.8L1482.1 737.3L1482.5 733.5L1483.0 742.1L1483.5 728.6L1483.9 733.5L1484.4 730.9L1484.9 735.0L1485.3 728.2L1485.8 731.8L1486.3 727.1L1486.7 737.7L1487.2 738.4L1487.7 738.5L1488.1 724.9L1488.6 736.1L1489.1 738.3L1489.5 730.4L1490.0 731.6L1490.5 744.0L1490.9 737.5L1491.4 731.7L1491.9 724.9L1492.3 720.9L1492.8 722.9L1493.3 721.0L1493.7 730.7L1494.2 727.8L1494.7 723.2L1495.1 730.9L1495.6 729.1L1496.1 741.8L1496.5 742.3L1497.0 746.3L1497.5 730.6L1497.9 741.4L1498.4 738.2L1498.9 729.5L1499.3 723.1L1499.8 736.9L1500.3 739.2L1500.7 737.3L1501.2 733.8L1501.7 736.9L1502.1 740.4L1502.6 736.8L1503.1 725.3L1503.5 731.5L1504.0 729.3L1504.5 733.5L1504.9 730.6L1505.4 722.3L1505.9 737.6L1506.3 728.8L1506.8 736.4L1507.3 719.3L1507.7 720.9L1508.2 718.6L1508.7 736.1L1509.1 727.6L1509.6 729.4L1510.1 720.9L1510.5 735.1L1511.0 720.7L1511.5 737.3L1511.9 730.2L1512.4 739.2L1512.8 733.5L1513.3 735.0L1513.8 725.4L1514.2 735.5L1514.7 739.4L1515.2 738.4L1515.6 740.8L1516.1 745.3L1516.6 741.6L1517.0 740.4L1517.5 741.0L1518.0 736.8L1518.4 741.7L1518.9 742.7L1519.4 739.5L1519.8 727.8L1520.3 731.6L1520.8 739.1L1521.2 739.3L1521.7 744.1L1522.2 746.9L1522.6 744.0L1523.1 738.1L1523.6 744.1L1524.0 740.4L1524.5 728.5L1525.0 729.2L1525.4 727.8L1525.9 741.1L1526.4 744.5L1526.8 728.2L1527.3 729.5L1527.8 731.9L1528.2 743.6L1528.7 738.0L1529.2 728.6L1529.6 731.6L1530.1 731.3L1530.6 730.2L1531.0 736.9L1531.5 739.9L1532.0 731.9L1532.4 739.1L1532.9 727.3L1533.4 746.5L1533.8 729.6L1534.3 738.4L1534.8 746.0L1535.2 732.7L1535.7 729.4L1536.2 741.6L1536.6 736.7L1537.1 731.3L1537.6 740.7L1538.0 741.1L1538.5 742.9L1539.0 730.8L1539.4 741.7L1539.9 745.5L1540.4 733.2L1540.8 738.2L1541.3 738.2L1541.8 740.8L1542.2 733.4L1542.7 731.9L1543.2 731.1L1543.6 744.1L1544.1 736.9L1544.6 735.6L1545.0 740.6L1545.5 728.0L1546.0 731.5L1546.4 738.2L1546.9 732.8L1547.4 737.9L1547.8 736.8L1548.3 725.2L1548.8 729.1L1549.2 740.3L1549.7 732.7L1550.2 725.0L1550.6 724.4L1551.1 732.5L1551.6 742.4L1552.0 729.6L1552.5 742.9L1553.0 726.5L1553.4 732.7L1553.9 735.5L1554.4 731.1L1554.8 722.9L1555.3 725.6L1555.8 727.9L1556.2 733.2L1556.7 724.2L1557.2 722.6L1557.6 718.4L1558.1 729.7L1558.6 717.0L1559.0 713.4L1559.5 724.5L1560.0 709.2L1560.4 723.3L1560.9 719.7L1561.4 729.2L1561.8 717.1L1562.3 729.0L1562.8 711.2L1563.2 727.1L1563.7 718.9L1564.2 723.0L1564.6 731.2L1565.1 730.6L1565.6 729.1L1566.0 723.8L1566.5 733.3L1567.0 731.0L1567.4 728.0L1567.9 729.9L1568.4 737.3L1568.8 724.1L1569.3 729.2L1569.8 736.4L1570.2 738.3L1570.7 735.4L1571.2 728.6L1571.6 724.8L1572.1 732.7L1572.6 737.1L1573.0 729.9L1573.5 742.8L1574.0 735.4L1574.4 727.6L1574.9 736.6L1575.4 728.9L1575.8 737.4L1576.3 727.7L1576.8 715.8L1577.2 735.6L1577.7 724.6L1578.2 732.5L1578.6 716.4L1579.1 717.8L1579.6 724.3L1580.0 729.3L1580.5 712.0L1581.0 720.1L1581.4 726.3L1581.9 716.4L1582.4 721.4L1582.8 731.1L1583.3 722.9L1583.7 728.9L1584.2 726.5L1584.7 734.2L1585.1 724.4L1585.6 730.1L1586.1 724.2L1586.5 726.1L1587.0 735.2L1587.5 741.6L1587.9 731.0L1588.4 735.4L1588.9 736.5L1589.3 739.4L1589.8 729.5L1590.3 733.0L1590.7 730.2L1591.2 736.1L1591.7 726.4L1592.1 745.8L1592.6 733.1L1593.1 742.7L1593.5 735.8L1594.0 732.9L1594.5 745.6L1594.9 742.7L1595.4 742.7L1595.9 727.2L1596.3 735.0L1596.8 739.6L1597.3 729.3L1597.7 741.8L1598.2 747.6L1598.7 745.7L1599.1 736.2L1599.6 726.2L1600.1 730.3L1600.5 741.4L1601.0 735.1L1601.5 739.4L1601.9 738.1L1602.4 737.3L1602.9 744.7L1603.3 730.0L1603.8 737.9L1604.3 737.6L1604.7 743.7L1605.2 736.2L1605.7 734.6L1606.1 730.9L1606.6 739.4L1607.1 730.8L1607.5 742.8L1608.0 740.9L1608.5 736.3L1608.9 740.5L1609.4 746.8L1609.9 739.2L1610.3 737.3L1610.8 741.0L1611.3 743.9L1611.7 738.7L1612.2 733.7L1612.7 731.2L1613.1 737.0L1613.6 735.6L1614.1 743.3L1614.5 731.7L1615.0 741.5L1615.5 731.0L1615.9 734.4L1616.4 735.5L1616.9 747.2L1617.3 745.8L1617.8 727.8L1618.3 731.9L1618.7 739.6L1619.2 735.5L1619.7 746.8L1620.1 738.7L1620.6 734.4L1621.1 739.3L1621.5 738.0L1622.0 743.7L1622.5 743.2L1622.9 738.1L1623.4 744.7L1623.9 749.1L1624.3 737.1L1624.8 742.8L1625.3 733.6L1625.7 735.2L1626.2 733.7L1626.7 727.1L1627.1 732.3L1627.6 735.8L1628.1 739.0L1628.5 738.0L1629.0 741.2L1629.5 741.8L1629.9 739.1L1630.4 739.7L1630.9 738.6L1631.3 743.0L1631.8 744.1L1632.3 731.9L1632.7 746.1L1633.2 732.0L1633.7 727.8L1634.1 741.3L1634.6 734.8L1635.1 745.2L1635.5 736.3L1636.0 735.3L1636.5 746.5L1636.9 741.8L1637.4 733.0L1637.9 742.7L1638.3 733.7L1638.8 738.5L1639.3 746.4L1639.7 744.3L1640.2 734.4L1640.7 746.9L1641.1 741.4L1641.6 733.0L1642.1 745.5L1642.5 737.8L1643.0 734.1L1643.5 736.4L1643.9 731.9L1644.4 738.7L1644.9 741.4L1645.3 735.0L1645.8 735.3L1646.3 733.1L1646.7 744.8L1647.2 734.0L1647.7 742.6L1648.1 740.7L1648.6 738.1L1649.1 738.4L1649.5 735.2L1650.0 726.6L1650.5 735.3L1650.9 744.3L1651.4 735.2L1651.9 739.2L1652.3 736.0L1652.8 733.1L1653.3 736.6L1653.7 747.9L1654.2 736.4L1654.7 737.6L1655.1 739.8L1655.6 737.4L1656.0 735.4L1656.5 733.7L1657.0 746.6L1657.4 730.2L1657.9 728.3L1658.4 740.0L1658.8 731.9L1659.3 734.1L1659.8 738.0L1660.2 744.1L1660.7 745.4L1661.2 746.5L1661.6 736.3L1662.1 745.8L1662.6 729.8L1663.0 736.7L1663.5 735.1L1664.0 738.1L1664.4 743.2L1664.9 745.4L1665.4 738.1L1665.8 742.0L1666.3 740.8L1666.8 731.9L1667.2 736.2L1667.7 736.7L1668.2 744.7L1668.6 744.2L1669.1 736.7L1669.6 750.4L1670.0 730.1L1670.5 733.5L1671.0 731.1L1671.4 740.3L1671.9 746.6L1672.4 740.3L1672.8 731.2L1673.3 732.2L1673.8 745.1L1674.2 734.7L1674.7 743.2L1675.2 742.3L1675.6 738.1L1676.1 743.8L1676.6 737.5L1677.0 732.1L1677.5 745.8L1678.0 740.0L1678.4 742.4L1678.9 727.6L1679.4 733.0L1679.8 736.7L1680.3 744.5L1680.8 733.4L1681.2 740.4L1681.7 728.8L1682.2 729.8L1682.6 742.8L1683.1 745.7L1683.6 739.2L1684.0 733.4L1684.5 734.7L1685.0 740.3L1685.4 736.4L1685.9 733.3L1686.4 741.3L1686.8 727.9L1687.3 745.2L1687.8 743.2L1688.2 746.8L1688.7 742.0L1689.2 743.4L1689.6 735.7L1690.1 742.8L1690.6 742.4L1691.0 734.9L1691.5 743.6L1692.0 735.1L1692.4 748.0L1692.9 742.5L1693.4 742.6L1693.8 744.9L1694.3 739.8L1694.8 740.5L1695.2 736.9L1695.7 737.8L1696.2 746.8L1696.6 741.0L1697.1 741.3L1697.6 748.0L1698.0 738.0L1698.5 729.0L1699.0 738.1L1699.4 739.0L1699.9 741.4L1700.4 743.1L1700.8 737.2L1701.3 743.8L1701.8 736.8L1702.2 739.6L1702.7 732.4L1703.2 725.4L1703.6 734.2L1704.1 736.8L1704.6 738.7L1705.0 734.4L1705.5 724.6L1706.0 721.8L1706.4 717.7L1706.9 724.4L1707.4 727.9L1707.8 735.5L1708.3 729.1L1708.8 725.7L1709.2 725.2L1709.7 719.4L1710.2 724.3L1710.6 729.0L1711.1 728.7L1711.6 735.0L1712.0 727.3L1712.5 735.5L1713.0 732.8L1713.4 730.4L1713.9 726.1L1714.4 737.7L1714.8 736.5L1715.3 733.1L1715.8 728.7L1716.2 739.6L1716.7 734.4L1717.2 728.8L1717.6 735.3L1718.1 726.2L1718.6 725.5L1719.0 738.4L1719.5 740.5L1720.0 735.0L1720.4 729.3L1720.9 734.4L1721.4 730.6L1721.8 731.6L1722.3 729.2L1722.8 739.5L1723.2 741.5L1723.7 739.6L1724.2 739.9L1724.6 730.7L1725.1 744.5L1725.6 743.2L1726.0 730.4L1726.5 740.0L1727.0 738.9L1727.4 742.5L1727.9 743.0L1728.3 729.7L1728.8 737.6L1729.3 730.9L1729.7 738.0L1730.2 744.5L1730.7 731.6L1731.1 742.8L1731.6 735.9L1732.1 732.4L1732.5 742.4L1733.0 742.9L1733.5 734.1L1733.9 736.5L1734.4 734.7L1734.9 741.2L1735.3 746.8L1735.8 737.4L1736.3 730.6L1736.7 731.7L1737.2 733.2L1737.7 742.6L1738.1 731.7L1738.6 739.7L1739.1 730.8L1739.5 734.1L1740.0 740.6L1740.5 743.3L1740.9 730.7L1741.4 731.8L1741.9 733.1L1742.3 735.1L1742.8 735.9L1743.3 743.9L1743.7 730.8L1744.2 737.1L1744.7 738.9L1745.1 740.5L1745.6 746.4L1746.1 732.0L1746.5 738.5L1747.0 738.9L1747.5 738.1L1747.9 744.1L1748.4 731.2L1748.9 738.6L1749.3 745.0L1749.8 745.8L1750.3 730.5L1750.7 740.8L1751.2 734.8L1751.7 740.4L1752.1 740.8L1752.6 741.1L1753.1 731.1L1753.5 744.4L1754.0 734.4L1754.5 742.7L1754.9 735.4L1755.4 729.3L1755.9 733.2L1756.3 733.9L1756.8 738.0L1757.3 730.3L1757.7 727.0L1758.2 735.7L1758.7 732.0L1759.1 727.3L1759.6 727.2L1760.1 716.2L1760.5 721.2L1761.0 717.9L1761.5 707.4L1761.9 706.7L1762.4 704.0L1762.9 713.0L1763.3 707.1L1763.8 699.3L1764.3 704.6L1764.7 688.1L1765.2 693.3L1765.7 690.0L1766.1 677.1L1766.6 688.2L1767.1 686.0L1767.5 680.7L1768.0 682.8L1768.5 683.8L1768.9 681.6L1769.4 673.9L1769.9 681.9L1770.3 691.9L1770.8 690.1L1771.3 688.0L1771.7 699.9L1772.2 696.2L1772.7 694.1L1773.1 705.8L1773.6 698.4L1774.1 712.6L1774.5 717.7L1775.0 711.9L1775.5 713.9L1775.9 716.4L1776.4 715.0L1776.9 725.3L1777.3 726.4L1777.8 719.6L1778.3 730.9L1778.7 729.6L1779.2 724.1L1779.7 734.1L1780.1 727.0L1780.6 728.7L1781.1 724.6L1781.5 730.1L1782.0 721.5L1782.5 732.9L1782.9 727.2L1783.4 725.3L1783.9 734.9L1784.3 725.9L1784.8 731.6L1785.3 726.6L1785.7 739.0L1786.2 737.3L1786.7 729.3L1787.1 738.7L1787.6 736.2L1788.1 727.3L1788.5 727.3L1789.0 727.1L1789.5 726.3L1789.9 730.7L1790.4 731.8L1790.9 730.9L1791.3 727.2L1791.8 730.7L1792.3 742.5L1792.7 730.2L1793.2 737.9L1793.7 729.7L1794.1 736.9L1794.6 733.0L1795.1 740.6L1795.5 726.6L1796.0 737.7L1796.5 732.0L1796.9 730.6L1797.4 730.2L1797.9 740.4L1798.3 728.7L1798.8 738.2L1799.2 725.0L1799.7 742.5L1800.2 740.3L1800.6 738.7L1801.1 734.3L1801.6 732.0L1802.0 735.9L1802.5 737.2L1803.0 735.7L1803.4 742.8L1803.9 734.5L1804.4 740.5L1804.8 736.7L1805.3 728.9L1805.8 727.2L1806.2 733.8L1806.7 742.6L1807.2 744.7L1807.6 739.9L1808.1 733.7L1808.6 732.1L1809.0 736.5L1809.5 738.7L1810.0 731.8L1810.4 737.5L1810.9 735.0L1811.4 743.4L1811.8 740.8L1812.3 731.7L1812.8 735.2L1813.2 744.2L1813.7 743.8L1814.2 739.1L1814.6 745.5L1815.1 734.8L1815.6 737.7L1816.0 739.7L1816.5 729.4L1817.0 739.4L1817.4 744.5L1817.9 733.5L1818.4 731.9L1818.8 744.0L1819.3 737.7L1819.8 733.6L1820.2 737.6L1820.7 735.2L1821.2 732.2L1821.6 742.5L1822.1 731.8L1822.6 744.7L1823.0 738.4L1823.5 732.5L1824.0 742.1L1824.4 731.7L1824.9 739.9L1825.4 731.6L1825.8 740.3L1826.3 738.3L1826.8 739.6L1827.2 742.8L1827.7 742.1L1828.2 733.5L1828.6 731.0L1829.1 746.1L1829.6 737.9L1830.0 740.6L1830.5 739.9L1831.0 741.6L1831.4 734.6L1831.9 737.8L1832.4 738.7L1832.8 734.2L1833.3 741.3L1833.8 743.7L1834.2 742.8L1834.7 732.8L1835.2 747.2L1835.6 740.7L1836.1 733.5L1836.6 742.2L1837.0 732.8L1837.5 734.8L1838.0 738.0L1838.4 737.7L1838.9 732.4L1839.4 739.5L1839.8 743.8L1840.3 734.9L1840.8 742.3L1841.2 732.1L1841.7 734.3L1842.2 739.2L1842.6 734.0L1843.1 730.2L1843.6 729.8L1844.0 732.0L1844.5 731.1L1845.0 736.7L1845.4 727.4L1845.9 734.1L1846.4 739.1L1846.8 734.2L1847.3 733.5L1847.8 728.3L1848.2 739.0L1848.7 726.3L1849.2 729.6L1849.6 729.3L1850.1 736.4L1850.6 732.0L1851.0 740.8L1851.5 736.4L1852.0 734.9L1852.4 729.6L1852.9 729.0L1853.4 732.9L1853.8 732.8L1854.3 729.8L1854.8 732.7L1855.2 725.7L1855.7 732.1L1856.2 726.2L1856.6 721.8L1857.1 724.1L1857.6 714.8L1858.0 712.2L1858.5 726.2L1859.0 728.1L1859.4 716.8L1859.9 714.6L1860.4 712.0L1860.8 721.5L1861.3 713.6L1861.8 715.9L1862.2 718.5L1862.7 713.8L1863.2 719.9L1863.6 714.7L1864.1 718.4L1864.6 707.6L1865.0 713.8L1865.5 718.1L1866.0 711.1L1866.4 723.0L1866.9 723.4L1867.4 712.4L1867.8 716.5L1868.3 710.6L1868.8 717.6L1869.2 723.5L1869.7 714.6L1870.2 726.7L1870.6 713.4L1871.1 723.4L1871.5 715.3L1872.0 721.0L1872.5 728.0L1872.9 724.7L1873.4 730.9L1873.9 733.0L1874.3 726.4L1874.8 724.6L1875.3 735.5L1875.7 735.9L1876.2 728.1L1876.7 725.0L1877.1 735.3L1877.6 732.2L1878.1 730.3L1878.5 729.8L1879.0 735.6L1879.5 741.6L1879.9 729.0L1880.4 737.4L1880.9 733.0L1881.3 736.0L1881.8 735.5L1882.3 736.4L1882.7 729.7L1883.2 743.2L1883.7 743.6L1884.1 734.2L1884.6 732.0L1885.1 741.4L1885.5 732.0L1886.0 732.9L1886.5 742.7L1886.9 739.9L1887.4 738.8L1887.9 732.2L1888.3 744.6L1888.8 740.7L1889.3 735.0L1889.7 738.7L1890.2 747.5L1890.7 735.8L1891.1 743.8L1891.6 744.6L1892.1 745.5L1892.5 738.8L1893.0 735.8L1893.5 736.6L1893.9 742.3L1894.4 732.1L1894.9 738.0L1895.3 740.5L1895.8 745.9L1896.3 742.8L1896.7 738.1L1897.2 741.5L1897.7 743.1L1898.1 742.0L1898.6 734.8L1899.1 733.3L1899.5 738.0L1900.0 739.7L1900.5 737.7L1900.9 737.8L1901.4 734.5L1901.9 739.9L1902.3 732.2L1902.8 733.0L1903.3 745.4L1903.7 730.1L1904.2 741.6L1904.7 741.5L1905.1 734.1L1905.6 742.9L1906.1 742.5L1906.5 747.9L1907.0 746.6L1907.5 740.6L1907.9 738.3L1908.4 741.0L1908.9 733.6L1909.3 740.6L1909.8 732.8L1910.3 736.0L1910.7 745.9L1911.2 743.8L1911.7 738.6L1912.1 747.3L1912.6 733.5L1913.1 735.9L1913.5 741.5L1914.0 739.6L1914.5 742.8L1914.9 733.9L1915.4 744.7L1915.9 735.1L1916.3 737.4L1916.8 734.5L1917.3 742.9L1917.7 734.8L1918.2 745.9L1918.7 738.7L1919.1 738.1L1919.6 735.7L1920.1 738.8L1920.5 735.6L1921.0 744.2L1921.5 742.6L1921.9 742.0L1922.4 745.4L1922.9 742.2L1923.3 733.8L1923.8 736.3L1924.3 740.4L1924.7 736.7L1925.2 736.8L1925.7 740.6L1926.1 743.6L1926.6 741.2L1927.1 745.0L1927.5 741.5L1928.0 733.4L1928.5 749.2L1928.9 736.0L1929.4 738.9L1929.9 734.3L1930.3 739.2L1930.8 742.5L1931.3 737.9L1931.7 746.1L1932.2 737.4L1932.7 746.8L1933.1 742.9L1933.6 734.4L1934.1 735.0L1934.5 733.9L1935.0 741.4L1935.5 736.9L1935.9 744.8L1936.4 733.0L1936.9 744.7L1937.3 737.7L1937.8 735.0L1938.3 743.4L1938.7 741.2L1939.2 737.4L1939.7 739.1L1940.1 736.2L1940.6 735.9L1941.1 744.0L1941.5 741.1L1942.0 737.4L1942.5 737.0L1942.9 746.8L1943.4 737.8L1943.8 742.0L1944.3 735.5L1944.8 733.3L1945.2 741.7L1945.7 735.4L1946.2 745.4L1946.6 736.0L1947.1 736.3L1947.6 742.4L1948.0 742.6L1948.5 740.1L1949.0 742.8L1949.4 742.6L1949.9 746.2L1950.4 741.2L1950.8 745.2L1951.3 737.2L1951.8 734.0L1952.2 733.1L1952.7 739.8L1953.2 740.5L1953.6 735.4L1954.1 736.2L1954.6 739.9L1955.0 738.4L1955.5 734.3L1956.0 742.0L1956.4 742.4L1956.9 735.5L1957.4 737.9L1957.8 742.2L1958.3 734.0L1958.8 740.9L1959.2 743.0L1959.7 734.5L1960.2 742.4L1960.6 745.9L1961.1 743.1L1961.6 739.7L1962.0 734.5L1962.5 748.3L1963.0 749.0L1963.4 742.9L1963.9 736.7L1964.4 742.1L1964.8 743.7L1965.3 740.8L1965.8 747.3L1966.2 743.1L1966.7 733.1L1967.2 735.9L1967.6 749.1L1968.1 747.4L1968.6 747.8L1969.0 737.5L1969.5 739.0L1970.0 739.8L1970.4 737.3L1970.9 745.3L1971.4 738.8L1971.8 743.8L1972.3 742.4L1972.8 738.1L1973.2 746.7L1973.7 738.1L1974.2 739.2L1974.6 740.0L1975.1 744.1L1975.6 744.6L1976.0 739.6L1976.5 738.3L1977.0 736.6L1977.4 732.9L1977.9 739.5L1978.4 733.6L1978.8 738.7L1979.3 746.2L1979.8 742.0L1980.2 740.1L1980.7 747.0L1981.2 748.5L1981.6 747.4L1982.1 737.3L1982.6 748.0L1983.0 743.8L1983.5 741.7L1984.0 740.8L1984.4 737.9L1984.9 735.4L1985.4 742.3L1985.8 739.5L1986.3 737.9L1986.8 743.1L1987.2 738.8L1987.7 735.6L1988.2 737.5L1988.6 743.8L1989.1 733.3L1989.6 740.2L1990.0 736.8L1990.5 735.3L1991.0 745.7L1991.4 740.4L1991.9 745.8L1992.4 738.0L1992.8 747.9L1993.3 737.1L1993.8 737.1L1994.2 735.5L1994.7 743.7L1995.2 739.0L1995.6 741.7L1996.1 737.9L1996.6 734.0L1997.0 746.4L1997.5 746.4L1998.0 744.9L1998.4 746.5L1998.9 747.6L1999.4 734.8L1999.8 736.9L2000.3 741.2L2000.8 744.6L2001.2 734.0L2001.7 744.2L2002.2 733.8L2002.6 735.7L2003.1 739.5L2003.6 741.8L2004.0 746.2L2004.5 746.0L2005.0 738.3L2005.4 748.7L2005.9 734.1L2006.4 732.4L2006.8 740.5L2007.3 736.8L2007.8 746.0L2008.2 733.0L2008.7 747.6L2009.2 739.0L2009.6 744.0L2010.1 732.0L2010.6 747.2L2011.0 745.0L2011.5 741.4L2012.0 748.4L2012.4 744.7L2012.9 747.8L2013.4 742.3L2013.8 749.8L2014.3 743.7L2014.7 744.8L2015.2 743.1L2015.7 747.0L2016.1 735.6L2016.6 744.1L2017.1 737.6L2017.5 746.7L2018.0 734.2L2018.5 740.4L2018.9 746.6L2019.4 738.7L2019.9 741.7L2020.3 743.9L2020.8 736.2L2021.3 746.6L2021.7 737.3L2022.2 739.4L2022.7 741.7L2023.1 740.8L2023.6 735.1L2024.1 737.6L2024.5 742.1L2025.0 743.8L2025.5 737.8L2025.9 741.1L2026.4 736.8L2026.9 743.0L2027.3 738.5L2027.8 737.9L2028.3 742.7L2028.7 741.5L2029.2 739.9L2029.7 737.3L2030.1 744.8L2030.6 737.4L2031.1 744.3L2031.5 736.6L2032.0 747.3L2032.5 748.7L2032.9 736.9L2033.4 741.7L2033.9 734.1L2034.3 741.2L2034.8 747.6L2035.3 743.8L2035.7 736.8L2036.2 749.2L2036.7 741.5L2037.1 736.2L2037.6 741.7L2038.1 737.2L2038.5 746.4L2039.0 741.6L2039.5 741.6L2039.9 747.8L2040.4 743.8L2040.9 735.0L2041.3 736.5L2041.8 737.8L2042.3 745.3L2042.7 743.4L2043.2 739.0L2043.7 740.5L2044.1 738.9L2044.6 734.6L2045.1 743.7L2045.5 749.0L2046.0 741.8L2046.5 744.2L2046.9 740.8L2047.4 736.3L2047.9 737.3L2048.3 745.3L2048.8 746.6L2049.3 749.9L2049.7 738.3L2050.2 745.5"/>
<path class="c" stroke="#505050" d="M184.4 1225.2L184.9 1218.7L185.3 1232.2L185.8 1241.1L186.3 1233.1L186.7 1228.2L187.2 1216.5L187.7 1235.4L188.1 1243.0L188.6 1244.1L189.1 1237.4L189.5 1222.3L190.0 1244.6L190.5 1241.6L190.9 1222.9L191.4 1234.9L191.9 1216.6L192.3 1218.7L192.8 1228.1L193.3 1221.0L193.7 1236.4L194.2 1239.7L194.7 1221.3L195.1 1230.1L195.6 1223.0L196.1 1220.0L196.5 1235.0L197.0 1235.9L197.5 1213.2L197.9 1229.3L198.4 1224.5L198.9 1237.1L199.3 1238.8L199.8 1235.2L200.3 1227.7L200.7 1242.2L201.2 1241.5L201.7 1228.4L202.1 1223.4L202.6 1235.7L203.1 1220.8L203.5 1224.7L204.0 1219.7L204.5 1225.1L204.9 1221.0L205.4 1220.3L205.9 1237.4L206.3 1237.2L206.8 1236.7L207.3 1233.7L207.7 1232.2L208.2 1227.0L208.7 1219.7L209.1 1223.7L209.6 1235.4L210.1 1215.9L210.5 1214.6L211.0 1234.7L211.5 1218.6L211.9 1230.9L212.4 1231.3L212.9 1236.4L213.3 1226.4L213.8 1225.1L214.3 1234.6L214.7 1234.0L215.2 1232.7L215.7 1234.1L216.1 1228.8L216.6 1239.0L217.1 1223.5L217.5 1234.0L218.0 1236.9L218.5 1221.1L218.9 1224.0L219.4 1225.6L219.9 1225.1L220.3 1214.7L220.8 1213.9L221.2 1232.3L221.7 1229.7L222.2 1230.6L222.6 1232.4L223.1 1222.5L223.6 1219.8L224.0 1218.8L224.5 1234.9L225.0 1235.1L225.4 1231.0L225.9 1231.3L226.4 1231.4L226.8 1232.8L227.3 1212.7L227.8 1237.0L228.2 1221.8L228.7 1219.4L229.2 1220.6L229.6 1224.7L230.1 1231.4L230.6 1225.9L231.0 1215.6L231.5 1221.5L232.0 1233.6L232.4 1220.9L232.9 1216.5L233.4 1214.0L233.8 1220.1L234.3 1209.2L234.8 1216.3L235.2 1220.6L235.7 1233.8L236.2 1216.1L236.6 1207.2L237.1 1220.8L237.6 1215.7L238.0 1219.3L238.5 1208.1L239.0 1218.6L239.4 1204.7L239.9 1201.9L240.4 1196.2L240.8 1210.8L241.3 1203.8L241.8 1188.8L242.2 1189.1L242.7 1188.2L243.2 1179.8L243.6 1183.8L244.1 1186.8L244.6 1185.7L245.0 1179.8L245.5 1155.1L246.0 1174.3L246.4 1168.1L246.9 1178.2L247.4 1167.7L247.8 1186.3L248.3 1165.6L248.8 1176.3L249.2 1190.0L249.7 1181.0L250.2 1194.6L250.6 1189.9L251.1 1179.9L251.6 1203.1L252.0 1195.9L252.5 1200.0L253.0 1189.7L253.4 1194.3L253.9 1209.4L254.4 1219.2L254.8 1217.5L255.3 1200.9L255.8 1193.0L256.2 1206.7L256.7 1213.2L257.2 1214.1L257.6 1198.7L258.1 1199.8L258.6 1213.9L259.0 1201.5L259.5 1224.4L260.0 1227.0L260.4 1206.8L260.9 1194.1L261.4 1228.8L261.8 1217.7L262.3 1210.1L262.8 1207.2L263.2 1222.1L263.7 1205.4L264.2 1196.5L264.6 1212.6L265.1 1202.9L265.6 1213.2L266.0 1221.1L266.5 1205.4L267.0 1206.4L267.4 1202.9L267.9 1220.1L268.4 1196.2L268.8 1223.7L269.3 1217.5L269.8 1222.5L270.2 1218.2L270.7 1198.5L271.2 1201.3L271.6 1225.4L272.1 1208.9L272.6 1220.1L273.0 1198.3L273.5 1200.1L274.0 1208.5L274.4 1201.5L274.9 1216.6L275.4 1224.1L275.8 1204.4L276.3 1203.1L276.8 1189.5L277.2 1202.6L277.7 1190.6L278.2 1206.5L278.6 1212.5L279.1 1206.3L279.6 1214.2L280.0 1209.8L280.5 1218.6L281.0 1212.2L281.4 1217.9L281.9 1201.9L282.4 1193.2L282.8 1192.3L283.3 1211.8L283.8 1194.7L284.2 1212.6L284.7 1217.0L285.2 1198.5L285.6 1189.1L286.1 1207.8L286.6 1196.6L287.0 1218.7L287.5 1193.4L288.0 1181.9L288.4 1206.4L288.9 1195.4L289.4 1183.8L289.8 1189.7L290.3 1209.6L290.8 1202.4L291.2 1174.4L291.7 1194.1L292.1 1190.9L292.6 1198.0L293.1 1170.7L293.5 1193.6L294.0 1211.1L294.5 1211.9L294.9 1206.7L295.4 1209.1L295.9 1188.2L296.3 1214.9L296.8 1183.9L297.3 1195.3L297.7 1200.4L298.2 1191.1L298.7 1182.8L299.1 1188.3L299.6 1194.2L300.1 1178.0L300.5 1179.8L301.0 1185.1L301.5 1172.9L301.9 1204.7L302.4 1192.9L302.9 1163.3L303.3 1196.9L303.8 1186.8L304.3 1200.7L304.7 1182.0L305.2 1171.3L305.7 1193.7L306.1 1168.7L306.6 1167.6L307.1 1179.9L307.5 1205.3L308.0 1161.0L308.5 1174.5L308.9 1182.4L309.4 1183.5L309.9 1152.7L310.3 1192.6L310.8 1173.7L311.3 1169.6L311.7 1166.5L312.2 1168.2L312.7 1184.7L313.1 1182.0L313.6 1152.4L314.1 1156.2L314.5 1160.6L315.0 1170.9L315.5 1180.6L315.9 1147.2L316.4 1147.4L316.9 1134.4L317.3 1153.4L317.8 1163.7L318.3 1169.4L318.7 1134.1L319.2 1148.9L319.7 1160.9L320.1 1164.4L320.6 1147.0L321.1 1142.9L321.5 1137.0L322.0 1165.5L322.5 1147.1L322.9 1154.5L323.4 1174.5L323.9 1144.3L324.3 1163.3L324.8 1138.7L325.3 1149.7L325.7 1173.3L326.2 1170.4L326.7 1154.9L327.1 1154.2L327.6 1167.0L328.1 1143.7L328.5 1152.9L329.0 1180.9L329.5 1179.2L329.9 1129.5L330.4 1136.2L330.9 1175.0L331.3 1156.3L331.8 1172.9L332.3 1164.4L332.7 1158.5L333.2 1163.7L333.7 1161.5L334.1 1136.3L334.6 1159.5L335.1 1170.7L335.5 1173.9L336.0 1167.1L336.5 1169.5L336.9 1172.3L337.4 1157.4L337.9 1151.1L338.3 1160.6L338.8 1164.3L339.3 1145.3L339.7 1133.8L340.2 1147.7L340.7 1142.4L341.1 1138.6L341.6 1164.3L342.1 1172.3L342.5 1135.7L343.0 1179.6L343.5 1142.2L343.9 1151.2L344.4 1168.6L344.9 1164.7L345.3 1143.8L345.8 1163.3L346.3 1154.0L346.7 1168.1L347.2 1139.0L347.7 1130.5L348.1 1151.5L348.6 1142.2L349.1 1143.5L349.5 1130.0L350.0 1169.9L350.5 1134.2L350.9 1165.7L351.4 1140.3L351.9 1140.4L352.3 1167.5L352.8 1162.9L353.3 1144.8L353.7 1164.6L354.2 1119.2L354.7 1157.4L355.1 1145.3L355.6 1131.2L356.1 1145.6L356.5 1120.0L357.0 1155.1L357.5 1151.4L357.9 1117.3L358.4 1126.6L358.9 1132.7L359.3 1122.9L359.8 1119.8L360.3 1119.8L360.7 1134.7L361.2 1117.4L361.7 1156.2L362.1 1131.4L362.6 1126.1L363.1 1147.4L363.5 1111.4L364.0 1145.3L364.4 1106.8L364.9 1139.5L365.4 1158.4L365.8 1101.9L366.3 1133.0L366.8 1144.6L367.2 1140.3L367.7 1089.3L368.2 1106.9L368.6 1122.6L369.1 1104.3L369.6 1097.5L370.0 1090.5L370.5 1041.9L371.0 1069.9L371.4 1094.8L371.9 1081.3L372.4 1074.8L372.8 1084.1L373.3 1067.6L373.8 1113.1L374.2 1095.3L374.7 1129.8L375.2 1077.8L375.6 1136.6L376.1 1087.1L376.6 1136.8L377.0 1110.4L377.5 1127.3L378.0 1115.2L378.4 1106.1L378.9 1135.6L379.4 1127.9L379.8 1089.0L380.3 1126.7L380.8 1095.1L381.2 1110.8L381.7 1116.9L382.2 1123.4L382.6 1089.5L383.1 1097.8L383.6 1102.9L384.0 1111.6L384.5 1135.9L385.0 1114.6L385.4 1128.1L385.9 1099.6L386.4 1093.6L386.8 1095.8L387.3 1081.0L387.8 1110.3L388.2 1102.7L388.7 1125.7L389.2 1081.8L389.6 1113.1L390.1 1106.6L390.6 1113.6L391.0 1115.6L391.5 1102.7L392.0 1095.3L392.4 1092.5L392.9 1066.1L393.4 1053.2L393.8 1083.2L394.3 1071.8L394.8 1067.2L395.2 1078.5L395.7 1080.7L396.2 1072.5L396.6 1065.5L397.1 1090.5L397.6 1049.3L398.0 1097.1L398.5 1075.1L399.0 1061.9L399.4 1078.9L399.9 1090.2L400.4 1086.1L400.8 1080.8L401.3 1083.9L401.8 1099.1L402.2 1104.2L402.7 1060.9L403.2 1051.2L403.6 1077.0L404.1 1082.6L404.6 1078.0L405.0 1090.0L405.5 1121.3L406.0 1075.9L406.4 1096.4L406.9 1121.6L407.4 1080.8L407.8 1089.0L408.3 1112.2L408.8 1117.0L409.2 1125.6L409.7 1083.7L410.2 1136.2L410.6 1101.4L411.1 1088.1L411.6 1090.0L412.0 1102.9L412.5 1112.4L413.0 1071.9L413.4 1083.8L413.9 1123.5L414.4 1130.8L414.8 1085.8L415.3 1086.3L415.8 1106.4L416.2 1119.4L416.7 1084.1L417.2 1113.2L417.6 1084.1L418.1 1127.7L418.6 1093.0L419.0 1074.7L419.5 1112.4L420.0 1132.2L420.4 1079.6L420.9 1083.4L421.4 1086.6L421.8 1126.9L422.3 1091.6L422.8 1096.3L423.2 1104.9L423.7 1126.1L424.2 1100.5L424.6 1102.7L425.1 1105.2L425.6 1101.6L426.0 1098.5L426.5 1124.5L427.0 1090.3L427.4 1103.0L427.9 1092.4L428.4 1130.3L428.8 1107.7L429.3 1144.7L429.8 1116.7L430.2 1082.5L430.7 1137.7L431.2 1101.7L431.6 1115.4L432.1 1126.8L432.6 1092.1L433.0 1086.6L433.5 1110.9L434.0 1094.2L434.4 1104.2L434.9 1088.4L435.4 1106.7L435.8 1135.4L436.3 1107.8L436.7 1112.0L437.2 1093.9L437.7 1096.5L438.1 1092.0L438.6 1123.0L439.1 1131.2L439.5 1091.2L440.0 1107.1L440.5 1116.9L440.9 1111.7L441.4 1087.6L441.9 1092.5L442.3 1123.0L442.8 1085.7L443.3 1092.2L443.7 1121.2L444.2 1124.8L444.7 1105.9L445.1 1129.0L445.6 1125.5L446.1 1107.8L446.5 1124.5L447.0 1100.1L447.5 1096.8L447.9 1140.9L448.4 1134.7L448.9 1099.9L449.3 1127.6L449.8 1105.7L450.3 1113.7L450.7 1136.7L451.2 1110.5L451.7 1122.7L452.1 1100.2L452.6 1119.4L453.1 1143.7L453.5 1139.0L454.0 1108.2L454.5 1107.4L454.9 1133.8L455.4 1118.6L455.9 1146.5L456.3 1110.1L456.8 1145.0L457.3 1097.0L457.7 1138.7L458.2 1145.2L458.7 1104.0L459.1 1126.6L459.6 1140.4L460.1 1127.2L460.5 1094.1L461.0 1141.6L461.5 1125.4L461.9 1114.0L462.4 1106.6L462.9 1136.0L463.3 1125.9L463.8 1150.6L464.3 1105.1L464.7 1103.9L465.2 1145.7L465.7 1123.6L466.1 1153.4L466.6 1134.6L467.1 1153.7L467.5 1161.8L468.0 1101.2L468.5 1125.7L468.9 1110.5L469.4 1161.4L469.9 1147.4L470.3 1154.8L470.8 1160.7L471.3 1148.3L471.7 1155.5L472.2 1155.5L472.7 1141.3L473.1 1160.5L473.6 1162.3L474.1 1131.5L474.5 1131.7L475.0 1153.4L475.5 1128.4L475.9 1138.7L476.4 1126.9L476.9 1161.5L477.3 1108.8L477.8 1137.7L478.3 1125.0L478.7 1147.3L479.2 1165.6L479.7 1137.5L480.1 1158.4L480.6 1149.5L481.1 1144.1L481.5 1135.1L482.0 1130.9L482.5 1174.8L482.9 1151.8L483.4 1128.0L483.9 1154.0L484.3 1143.4L484.8 1121.4L485.3 1160.8L485.7 1174.3L486.2 1155.7L486.7 1133.5L487.1 1148.8L487.6 1135.0L488.1 1135.8L488.5 1139.6L489.0 1176.2L489.5 1176.1L489.9 1168.0L490.4 1170.8L490.9 1134.2L491.3 1133.4L491.8 1131.9L492.3 1133.8L492.7 1162.7L493.2 1148.4L493.7 1159.5L494.1 1175.6L494.6 1150.6L495.1 1143.2L495.5 1172.8L496.0 1124.5L496.5 1184.4L496.9 1152.1L497.4 1137.4L497.9 1142.0L498.3 1146.6L498.8 1186.6L499.3 1142.2L499.7 1142.6L500.2 1167.9L500.7 1146.2L501.1 1160.3L501.6 1185.4L502.1 1159.7L502.5 1178.1L503.0 1161.7L503.5 1148.2L503.9 1152.9L504.4 1190.7L504.9 1139.3L505.3 1150.6L505.8 1144.9L506.3 1169.8L506.7 1176.8L507.2 1182.8L507.6 1179.3L508.1 1174.6L508.6 1181.6L509.0 1185.6L509.5 1156.6L510.0 1160.6L510.4 1205.2L510.9 1174.2L511.4 1182.6L511.8 1156.7L512.3 1181.6L512.8 1188.5L513.2 1154.4L513.7 1200.3L514.2 1174.2L514.6 1165.7L515.1 1184.3L515.6 1198.4L516.0 1187.2L516.5 1182.0L517.0 1163.7L517.4 1181.2L517.9 1182.1L518.4 1192.6L518.8 1174.8L519.3 1178.1L519.8 1190.7L520.2 1194.8L520.7 1166.8L521.2 1199.8L521.6 1166.2L522.1 1198.0L522.6 1204.8L523.0 1181.7L523.5 1181.9L524.0 1173.4L524.4 1173.6L524.9 1199.9L525.4 1181.2L525.8 1173.4L526.3 1167.3L526.8 1197.4L527.2 1185.8L527.7 1189.0L528.2 1187.4L528.6 1162.1L529.1 1188.0L529.6 1172.4L530.0 1181.7L530.5 1168.7L531.0 1171.9L531.4 1171.3L531.9 1150.3L532.4 1164.4L532.8 1139.2L533.3 1145.4L533.8 1162.1L534.2 1124.1L534.7 1142.3L535.2 1148.9L535.6 1140.8L536.1 1123.6L536.6 1130.3L537.0 1154.6L537.5 1149.3L538.0 1148.3L538.4 1161.4L538.9 1173.2L539.4 1148.3L539.8 1174.7L540.3 1165.4L540.8 1174.7L541.2 1154.1L541.7 1163.2L542.2 1185.7L542.6 1185.6L543.1 1175.7L543.6 1169.2L544.0 1201.0L544.5 1174.1L545.0 1194.4L545.4 1164.0L545.9 1178.4L546.4 1175.6L546.8 1163.3L547.3 1180.7L547.8 1196.1L548.2 1173.1L548.7 1169.9L549.2 1179.4L549.6 1184.8L550.1 1184.9L550.6 1162.0L551.0 1183.1L551.5 1174.0L552.0 1168.4L552.4 1173.9L552.9 1150.7L553.4 1155.6L553.8 1166.7L554.3 1185.0L554.8 1168.9L555.2 1169.1L555.7 1182.7L556.2 1177.3L556.6 1160.9L557.1 1188.1L557.6 1189.1L558.0 1168.8L558.5 1182.0L559.0 1181.2L559.4 1166.2L559.9 1195.1L560.4 1179.0L560.8 1194.3L561.3 1199.3L561.8 1200.9L562.2 1186.1L562.7 1187.5L563.2 1176.5L563.6 1175.2L564.1 1206.6L564.6 1177.4L565.0 1193.0L565.5 1180.3L566.0 1200.7L566.4 1187.4L566.9 1203.2L567.4 1192.4L567.8 1202.3L568.3 1182.3L568.8 1200.7L569.2 1190.4L569.7 1182.8L570.2 1185.9L570.6 1170.5L571.1 1189.2L571.6 1162.6L572.0 1147.9L572.5 1177.0L573.0 1145.1L573.4 1157.4L573.9 1121.7L574.4 1125.1L574.8 1098.1L575.3 1099.1L575.8 1093.7L576.2 1089.1L576.7 1065.5L577.2 1066.2L577.6 1082.3L578.1 1089.5L578.6 1093.4L579.0 1091.6L579.5 1103.8L579.9 1096.5L580.4 1114.8L580.9 1138.1L581.3 1133.9L581.8 1130.4L582.3 1171.5L582.7 1152.8L583.2 1186.1L583.7 1168.0L584.1 1193.2L584.6 1194.3L585.1 1205.5L585.5 1198.3L586.0 1210.3L586.5 1198.1L586.9 1211.2L587.4 1194.8L587.9 1215.6L588.3 1213.2L588.8 1213.7L589.3 1189.2L589.7 1200.7L590.2 1224.6L590.7 1191.0L591.1 1208.5L591.6 1200.1L592.1 1189.3L592.5 1189.3L593.0 1203.3L593.5 1203.4L593.9 1220.3L594.4 1201.7L594.9 1193.4L595.3 1201.2L595.8 1204.1L596.3 1219.9L596.7 1220.5L597.2 1207.2L597.7 1207.4L598.1 1215.1L598.6 1213.9L599.1 1192.1L599.5 1223.7L600.0 1216.7L600.5 1208.5L600.9 1196.4L601.4 1209.2L601.9 1205.7L602.3 1206.0L602.8 1193.4L603.3 1213.5L603.7 1216.4L604.2 1210.7L604.7 1202.8L605.1 1206.1L605.6 1198.0L606.1 1226.8L606.5 1197.2L607.0 1202.4L607.5 1205.2L607.9 1210.7L608.4 1206.4L608.9 1197.5L609.3 1201.3L609.8 1214.6L610.3 1198.7L610.7 1196.7L611.2 1193.0L611.7 1197.6L612.1 1188.4L612.6 1197.1L613.1 1202.5L613.5 1200.7L614.0 1176.6L614.5 1176.5L614.9 1172.4L615.4 1181.6L615.9 1175.5L616.3 1163.2L616.8 1143.4L617.3 1126.9L617.7 1144.0L618.2 1114.7L618.7 1115.0L619.1 1078.6L619.6 1082.9L620.1 1050.6L620.5 1044.8L621.0 1029.8L621.5 1033.3L621.9 1005.6L622.4 1011.2L622.9 990.2L623.3 995.6L623.8 1004.2L624.3 987.4L624.7 997.5L625.2 1024.6L625.7 1030.3L626.1 1051.0L626.6 1050.8L627.1 1061.3L627.5 1066.9L628.0 1098.6L628.5 1094.1L628.9 1129.8L629.4 1141.4L629.9 1149.9L630.3 1163.8L630.8 1163.6L631.3 1163.4L631.7 1187.1L632.2 1189.2L632.7 1189.9L633.1 1173.6L633.6 1175.6L634.1 1194.9L634.5 1186.8L635.0 1206.4L635.5 1201.0L635.9 1186.2L636.4 1203.2L636.9 1214.7L637.3 1220.6L637.8 1195.1L638.3 1200.1L638.7 1209.7L639.2 1205.2L639.7 1197.7L640.1 1200.9L640.6 1197.1L641.1 1209.4L641.5 1224.0L642.0 1200.0L642.5 1213.8L642.9 1206.9L643.4 1201.1L643.9 1199.2L644.3 1224.5L644.8 1183.4L645.3 1203.8L645.7 1205.2L646.2 1211.8L646.7 1176.5L647.1 1170.6L647.6 1196.0L648.1 1166.9L648.5 1167.5L649.0 1144.9L649.5 1147.1L649.9 1135.5L650.4 1139.3L650.8 1113.6L651.3 1104.0L651.8 1103.6L652.2 1098.7L652.7 1074.9L653.2 1103.5L653.6 1094.5L654.1 1094.6L654.6 1091.4L655.0 1086.0L655.5 1104.3L656.0 1111.8L656.4 1115.8L656.9 1128.8L657.4 1136.2L657.8 1141.6L658.3 1158.1L658.8 1169.0L659.2 1157.2L659.7 1165.9L660.2 1164.9L660.6 1178.4L661.1 1195.5L661.6 1181.9L662.0 1193.4L662.5 1199.1L663.0 1190.9L663.4 1199.1L663.9 1209.5L664.4 1204.6L664.8 1211.8L665.3 1217.4L665.8 1216.6L666.2 1213.4L666.7 1200.3L667.2 1198.9L667.6 1212.7L668.1 1204.7L668.6 1218.1L669.0 1226.2L669.5 1219.6L670.0 1212.9L670.4 1218.3L670.9 1220.1L671.4 1209.7L671.8 1218.5L672.3 1195.5L672.8 1185.5L673.2 1218.5L673.7 1216.8L674.2 1195.2L674.6 1197.6L675.1 1201.5L675.6 1174.4L676.0 1193.0L676.5 1185.4L677.0 1165.6L677.4 1170.0L677.9 1181.6L678.4 1184.6L678.8 1169.1L679.3 1165.8L679.8 1180.9L680.2 1186.8L680.7 1183.3L681.2 1180.7L681.6 1177.2L682.1 1211.8L682.6 1197.2L683.0 1190.6L683.5 1192.6L684.0 1206.7L684.4 1196.8L684.9 1223.7L685.4 1219.5L685.8 1197.8L686.3 1222.6L686.8 1212.9L687.2 1212.0L687.7 1232.9L688.2 1204.4L688.6 1217.8L689.1 1233.6L689.6 1210.2L690.0 1223.7L690.5 1211.4L691.0 1212.1L691.4 1214.4L691.9 1231.7L692.4 1210.8L692.8 1225.6L693.3 1232.1L693.8 1237.9L694.2 1221.1L694.7 1218.0L695.2 1226.5L695.6 1209.2L696.1 1209.5L696.6 1213.4L697.0 1233.1L697.5 1219.7L698.0 1216.1L698.4 1217.5L698.9 1220.4L699.4 1228.1L699.8 1234.1L700.3 1219.4L700.8 1237.4L701.2 1211.2L701.7 1220.6L702.2 1215.9L702.6 1221.0L703.1 1220.6L703.6 1233.9L704.0 1217.3L704.5 1235.2L705.0 1219.0L705.4 1213.6L705.9 1202.9L706.4 1204.0L706.8 1219.1L707.3 1196.7L707.8 1202.5L708.2 1199.1L708.7 1182.2L709.2 1182.7L709.6 1166.2L710.1 1165.9L710.6 1139.3L711.0 1134.2L711.5 1113.7L712.0 1106.9L712.4 1064.3L712.9 1038.1L713.4 1020.9L713.8 991.6L714.3 957.5L714.8 931.7L715.2 913.6L715.7 884.0L716.2 856.5L716.6 852.8L717.1 807.1L717.6 806.5L718.0 819.9L718.5 800.9L719.0 795.5L719.4 815.1L719.9 824.9L720.4 879.1L720.8 873.5L721.3 902.8L721.8 924.9L722.2 984.6L722.7 1001.7L723.1 1032.4L723.6 1048.0L724.1 1075.3L724.5 1104.4L725.0 1122.1L725.5 1134.9L725.9 1147.7L726.4 1174.9L726.9 1197.1L727.3 1189.4L727.8 1192.5L728.3 1188.2L728.7 1228.9L729.2 1191.5L729.7 1192.8L730.1 1212.4L730.6 1236.3L731.1 1219.8L731.5 1235.2L732.0 1241.4L732.5 1226.5L732.9 1228.1L733.4 1219.6L733.9 1238.1L734.3 1232.1L734.8 1239.1L735.3 1228.5L735.7 1231.7L736.2 1231.1L736.7 1240.9L737.1 1219.5L737.6 1214.9L738.1 1222.6L738.5 1238.5L739.0 1239.3L739.5 1231.8L739.9 1228.2L740.4 1236.4L740.9 1238.7L741.3 1243.8L741.8 1232.9L742.3 1237.0L742.7 1220.5L743.2 1229.8L743.7 1215.4L744.1 1229.2L744.6 1219.1L745.1 1247.2L745.5 1247.3L746.0 1229.8L746.5 1242.7L746.9 1218.6L747.4 1241.1L747.9 1228.3L748.3 1240.7L748.8 1233.9L749.3 1245.5L749.7 1240.6L750.2 1229.9L750.7 1246.4L751.1 1230.4L751.6 1240.1L752.1 1231.0L752.5 1241.3L753.0 1215.6L753.5 1231.7L753.9 1240.3L754.4 1239.7L754.9 1223.4L755.3 1233.1L755.8 1242.1L756.3 1220.5L756.7 1246.3L757.2 1224.2L757.7 1220.7L758.1 1233.5L758.6 1215.8L759.1 1237.2L759.5 1230.8L760.0 1244.2L760.5 1226.6L760.9 1231.5L761.4 1211.0L761.9 1232.0L762.3 1237.9L762.8 1217.1L763.3 1227.8L763.7 1233.2L764.2 1229.3L764.7 1222.2L765.1 1218.6L765.6 1213.8L766.1 1239.7L766.5 1225.0L767.0 1228.5L767.5 1214.6L767.9 1242.1L768.4 1240.8L768.9 1224.8L769.3 1224.9L769.8 1249.1L770.3 1225.3L770.7 1230.0L771.2 1225.0L771.7 1234.0L772.1 1224.9L772.6 1246.2L773.1 1238.0L773.5 1216.5L774.0 1210.1L774.5 1246.0L774.9 1240.8L775.4 1226.7L775.9 1231.4L776.3 1221.1L776.8 1225.5L777.3 1239.0L777.7 1232.0L778.2 1238.6L778.7 1224.8L779.1 1224.5L779.6 1228.5L780.1 1229.8L780.5 1242.7L781.0 1222.2L781.5 1237.9L781.9 1215.9L782.4 1216.5L782.9 1213.0L783.3 1234.8L783.8 1228.4L784.3 1216.3L784.7 1225.1L785.2 1214.4L785.7 1211.5L786.1 1201.7L786.6 1198.7L787.1 1199.6L787.5 1175.8L788.0 1171.2L788.5 1179.6L788.9 1163.5L789.4 1154.7L789.9 1137.6L790.3 1125.2L790.8 1127.0L791.3 1137.5L791.7 1132.7L792.2 1103.6L792.7 1093.4L793.1 1094.7L793.6 1093.5L794.1 1101.3L794.5 1093.3L795.0 1117.8L795.4 1123.4L795.9 1138.6L796.4 1153.5L796.8 1155.7L797.3 1145.1L797.8 1149.8L798.2 1166.0L798.7 1192.1L799.2 1195.0L799.6 1196.6L800.1 1191.2L800.6 1202.0L801.0 1196.0L801.5 1196.1L802.0 1194.0L802.4 1193.3L802.9 1227.8L803.4 1221.4L803.8 1214.3L804.3 1233.3L804.8 1226.8L805.2 1206.7L805.7 1230.1L806.2 1220.5L806.6 1234.4L807.1 1237.3L807.6 1215.5L808.0 1237.0L808.5 1216.8L809.0 1210.4L809.4 1225.9L809.9 1244.3L810.4 1223.7L810.8 1215.4L811.3 1241.5L811.8 1228.0L812.2 1238.4L812.7 1236.6L813.2 1248.7L813.6 1220.6L814.1 1240.9L814.6 1228.1L815.0 1234.0L815.5 1214.0L816.0 1242.9L816.4 1235.4L816.9 1225.2L817.4 1212.9L817.8 1223.3L818.3 1230.8L818.8 1231.6L819.2 1236.4L819.7 1231.3L820.2 1219.5L820.6 1212.0L821.1 1246.7L821.6 1221.7L822.0 1242.8L822.5 1237.7L823.0 1225.2L823.4 1228.5L823.9 1219.7L824.4 1221.0L824.8 1235.6L825.3 1250.0L825.8 1238.5L826.2 1219.8L826.7 1240.7L827.2 1232.3L827.6 1234.1L828.1 1232.8L828.6 1235.9L829.0 1220.9L829.5 1215.6L830.0 1215.3L830.4 1236.6L830.9 1230.0L831.4 1216.7L831.8 1237.1L832.3 1227.0L832.8 1215.7L833.2 1219.6L833.7 1214.4L834.2 1231.0L834.6 1219.5L835.1 1239.6L835.6 1239.0L836.0 1232.7L836.5 1225.4L837.0 1238.4L837.4 1234.9L837.9 1226.0L838.4 1236.5L838.8 1229.7L839.3 1221.4L839.8 1228.4L840.2 1209.5L840.7 1216.8L841.2 1216.6L841.6 1210.5L842.1 1231.1L842.6 1221.8L843.0 1215.7L843.5 1214.4L844.0 1210.0L844.4 1196.5L844.9 1174.3L845.4 1179.8L845.8 1186.1L846.3 1175.5L846.8 1158.0L847.2 1124.0L847.7 1112.3L848.2 1076.2L848.6 1067.0L849.1 1056.2L849.6 1012.9L850.0 987.2L850.5 973.4L851.0 946.6L851.4 928.6L851.9 905.6L852.4 898.9L852.8 873.0L853.3 888.0L853.8 851.2L854.2 852.8L854.7 859.4L855.2 886.6L855.6 900.5L856.1 896.2L856.6 905.7L857.0 942.2L857.5 949.3L858.0 996.6L858.4 997.6L858.9 1028.0L859.4 1034.4L859.8 1077.5L860.3 1101.4L860.8 1119.4L861.2 1133.0L861.7 1140.7L862.2 1137.8L862.6 1147.2L863.1 1179.1L863.6 1196.1L864.0 1181.5L864.5 1191.7L865.0 1198.1L865.4 1208.6L865.9 1190.7L866.3 1195.5L866.8 1196.4L867.3 1211.4L867.7 1204.0L868.2 1220.8L868.7 1206.0L869.1 1213.0L869.6 1183.0L870.1 1179.7L870.5 1202.7L871.0 1181.0L871.5 1158.1L871.9 1176.8L872.4 1169.6L872.9 1163.2L873.3 1177.2L873.8 1175.4L874.3 1169.2L874.7 1163.1L875.2 1170.3L875.7 1205.4L876.1 1184.0L876.6 1198.8L877.1 1188.8L877.5 1202.8L878.0 1222.2L878.5 1227.2L878.9 1210.7L879.4 1206.5L879.9 1219.2L880.3 1221.8L880.8 1230.1L881.3 1213.3L881.7 1233.6L882.2 1234.4L882.7 1216.7L883.1 1220.7L883.6 1226.8L884.1 1238.3L884.5 1214.5L885.0 1209.1L885.5 1213.3L885.9 1246.7L886.4 1215.2L886.9 1214.7L887.3 1226.2L887.8 1210.3L888.3 1226.9L888.7 1226.0L889.2 1225.4L889.7 1234.4L890.1 1221.5L890.6 1224.0L891.1 1216.6L891.5 1237.9L892.0 1233.6L892.5 1237.0L892.9 1214.8L893.4 1226.7L893.9 1226.2L894.3 1225.9L894.8 1244.3L895.3 1213.2L895.7 1233.4L896.2 1243.8L896.7 1227.7L897.1 1224.3L897.6 1213.4L898.1 1234.8L898.5 1224.4L899.0 1226.1L899.5 1220.4L899.9 1224.9L900.4 1247.2L900.9 1240.9L901.3 1241.9L901.8 1228.1L902.3 1232.2L902.7 1236.4L903.2 1215.2L903.7 1235.5L904.1 1215.4L904.6 1225.0L905.1 1221.9L905.5 1239.5L906.0 1221.5L906.5 1232.6L906.9 1237.6L907.4 1214.1L907.9 1232.9L908.3 1230.2L908.8 1222.1L909.3 1211.6L909.7 1217.1L910.2 1230.6L910.7 1221.3L911.1 1240.2L911.6 1214.7L912.1 1229.3L912.5 1207.2L913.0 1207.9L913.5 1196.6L913.9 1224.2L914.4 1218.9L914.9 1206.8L915.3 1208.5L915.8 1220.7L916.3 1202.2L916.7 1197.7L917.2 1214.8L917.7 1208.9L918.1 1225.1L918.6 1223.0L919.1 1231.5L919.5 1205.5L920.0 1235.5L920.5 1215.6L920.9 1230.0L921.4 1224.6L921.9 1221.4L922.3 1215.0L922.8 1219.6L923.3 1230.7L923.7 1212.6L924.2 1223.1L924.7 1225.9L925.1 1228.3L925.6 1216.6L926.1 1232.9L926.5 1221.7L927.0 1211.3L927.5 1242.4L927.9 1234.0L928.4 1234.3L928.9 1235.8L929.3 1220.3L929.8 1213.9L930.3 1213.4L930.7 1218.7L931.2 1237.0L931.7 1211.9L932.1 1243.1L932.6 1230.5L933.1 1237.9L933.5 1225.9L934.0 1234.4L934.5 1221.4L934.9 1229.9L935.4 1225.4L935.9 1235.0L936.3 1209.7L936.8 1212.6L937.3 1227.8L937.7 1212.0L938.2 1211.5L938.6 1237.3L939.1 1224.2L939.6 1213.9L940.0 1212.1L940.5 1220.8L941.0 1209.2L941.4 1203.7L941.9 1203.5L942.4 1203.5L942.8 1194.6L943.3 1217.6L943.8 1215.5L944.2 1222.4L944.7 1208.9L945.2 1187.4L945.6 1203.5L946.1 1218.9L946.6 1209.5L947.0 1206.2L947.5 1189.3L948.0 1181.1L948.4 1206.8L948.9 1192.0L949.4 1205.4L949.8 1182.7L950.3 1173.6L950.8 1177.7L951.2 1166.3L951.7 1145.1L952.2 1157.9L952.6 1163.7L953.1 1146.6L953.6 1131.0L954.0 1120.3L954.5 1119.4L955.0 1079.8L955.4 1101.2L955.9 1073.0L956.4 1063.2L956.8 1082.9L957.3 1071.0L957.8 1086.7L958.2 1105.2L958.7 1096.6L959.2 1086.1L959.6 1109.0L960.1 1129.8L960.6 1130.7L961.0 1139.4L961.5 1147.8L962.0 1151.5L962.4 1162.4L962.9 1176.5L963.4 1180.6L963.8 1196.3L964.3 1185.9L964.8 1196.4L965.2 1209.0L965.7 1211.2L966.2 1214.4L966.6 1205.2L967.1 1214.7L967.6 1224.5L968.0 1232.2L968.5 1231.4L969.0 1217.0L969.4 1223.8L969.9 1215.0L970.4 1221.1L970.8 1240.7L971.3 1225.2L971.8 1231.7L972.2 1219.8L972.7 1228.5L973.2 1223.7L973.6 1210.3L974.1 1217.9L974.6 1225.7L975.0 1227.9L975.5 1231.7L976.0 1215.7L976.4 1211.4L976.9 1229.9L977.4 1223.5L977.8 1225.5L978.3 1235.0L978.8 1211.3L979.2 1234.0L979.7 1239.5L980.2 1238.4L980.6 1231.6L981.1 1214.0L981.6 1234.4L982.0 1239.8L982.5 1239.0L983.0 1233.2L983.4 1226.1L983.9 1210.9L984.4 1208.5L984.8 1221.6L985.3 1233.0L985.8 1210.7L986.2 1212.8L986.7 1214.7L987.2 1194.3L987.6 1197.6L988.1 1190.6L988.6 1189.2L989.0 1177.8L989.5 1187.2L990.0 1180.6L990.4 1169.7L990.9 1160.4L991.4 1136.6L991.8 1114.9L992.3 1122.3L992.8 1079.0L993.2 1057.3L993.7 1064.6L994.2 1062.2L994.6 1028.5L995.1 1015.3L995.6 1008.6L996.0 994.9L996.5 997.6L997.0 993.1L997.4 988.6L997.9 1009.9L998.4 1024.8L998.8 1044.9L999.3 1052.5L999.8 1045.9L1000.2 1083.4L1000.7 1082.7L1001.2 1090.4L1001.6 1121.8L1002.1 1145.3L1002.6 1144.7L1003.0 1151.2L1003.5 1176.5L1004.0 1181.6L1004.4 1189.2L1004.9 1206.0L1005.4 1197.2L1005.8 1212.0L1006.3 1199.0L1006.8 1218.4L1007.2 1211.0L1007.7 1224.5L1008.2 1221.2L1008.6 1236.1L1009.1 1203.3L1009.6 1208.4L1010.0 1237.1L1010.5 1217.9L1010.9 1232.6L1011.4 1228.4L1011.9 1206.3L1012.3 1237.1L1012.8 1216.0L1013.3 1226.1L1013.7 1223.1L1014.2 1227.9L1014.7 1233.5L1015.1 1224.6L1015.6 1220.1L1016.1 1236.2L1016.5 1218.7L1017.0 1241.6L1017.5 1243.9L1017.9 1236.4L1018.4 1223.8L1018.9 1221.9L1019.3 1239.1L1019.8 1213.1L1020.3 1244.3L1020.7 1223.1L1021.2 1217.4L1021.7 1222.3L1022.1 1223.8L1022.6 1235.3L1023.1 1246.5L1023.5 1223.2L1024.0 1218.3L1024.5 1224.5L1024.9 1229.3L1025.4 1234.9L1025.9 1235.7L1026.3 1231.0L1026.8 1236.8L1027.3 1239.1L1027.7 1246.0L1028.2 1238.2L1028.7 1237.1L1029.1 1236.8L1029.6 1238.5L1030.1 1208.5L1030.5 1238.0L1031.0 1230.1L1031.5 1226.0L1031.9 1223.5L1032.4 1212.9L1032.9 1224.0L1033.3 1233.0L1033.8 1225.9L1034.3 1233.0L1034.7 1240.9L1035.2 1235.9L1035.7 1231.1L1036.1 1216.8L1036.6 1212.7L1037.1 1231.0L1037.5 1212.0L1038.0 1229.5L1038.5 1225.3L1038.9 1229.3L1039.4 1236.8L1039.9 1219.0L1040.3 1212.1L1040.8 1238.8L1041.3 1220.5L1041.7 1216.6L1042.2 1216.6L1042.7 1215.3L1043.1 1195.5L1043.6 1205.0L1044.1 1195.0L1044.5 1210.3L1045.0 1203.8L1045.5 1209.2L1045.9 1200.2L1046.4 1184.9L1046.9 1201.5L1047.3 1186.0L1047.8 1180.6L1048.3 1179.1L1048.7 1180.9L1049.2 1185.3L1049.7 1209.7L1050.1 1202.9L1050.6 1187.6L1051.1 1209.1L1051.5 1208.3L1052.0 1201.1L1052.5 1204.2L1052.9 1225.1L1053.4 1219.6L1053.9 1234.9L1054.3 1207.6L1054.8 1220.6L1055.3 1241.8L1055.7 1230.9L1056.2 1239.9L1056.7 1236.7L1057.1 1231.1L1057.6 1225.8L1058.1 1234.1L1058.5 1217.8L1059.0 1234.2L1059.5 1239.4L1059.9 1210.7L1060.4 1224.0L1060.9 1228.5L1061.3 1238.6L1061.8 1228.5L1062.3 1227.4L1062.7 1207.9L1063.2 1205.4L1063.7 1211.7L1064.1 1218.1L1064.6 1231.7L1065.1 1207.8L1065.5 1219.2L1066.0 1196.1L1066.5 1208.8L1066.9 1207.5L1067.4 1195.1L1067.9 1181.8L1068.3 1176.8L1068.8 1178.4L1069.3 1183.2L1069.7 1190.2L1070.2 1168.0L1070.7 1174.8L1071.1 1170.9L1071.6 1176.8L1072.1 1177.7L1072.5 1201.0L1073.0 1192.6L1073.5 1208.5L1073.9 1207.6L1074.4 1210.8L1074.9 1228.1L1075.3 1207.8L1075.8 1235.8L1076.3 1229.1L1076.7 1223.3L1077.2 1226.8L1077.7 1232.2L1078.1 1237.6L1078.6 1241.2L1079.1 1236.4L1079.5 1241.2L1080.0 1238.1L1080.5 1223.9L1080.9 1244.0L1081.4 1214.8L1081.8 1225.6L1082.3 1224.8L1082.8 1215.7L1083.2 1228.6L1083.7 1243.4L1084.2 1228.2L1084.6 1236.9L1085.1 1243.2L1085.6 1216.3L1086.0 1243.0L1086.5 1242.1L1087.0 1245.0L1087.4 1224.1L1087.9 1236.8L1088.4 1237.7L1088.8 1244.9L1089.3 1237.4L1089.8 1245.3L1090.2 1248.5L1090.7 1226.6L1091.2 1229.5L1091.6 1224.1L1092.1 1248.8L1092.6 1231.6L1093.0 1248.9L1093.5 1215.4L1094.0 1243.5L1094.4 1226.7L1094.9 1227.9L1095.4 1216.9L1095.8 1247.0L1096.3 1232.3L1096.8 1240.2L1097.2 1227.7L1097.7 1249.5L1098.2 1235.4L1098.6 1241.6L1099.1 1235.0L1099.6 1247.2L1100.0 1219.4L1100.5 1248.4L1101.0 1227.0L1101.4 1241.0L1101.9 1222.2L1102.4 1230.5L1102.8 1230.6L1103.3 1218.3L1103.8 1228.5L1104.2 1225.5L1104.7 1242.1L1105.2 1246.2L1105.6 1237.0L1106.1 1238.1L1106.6 1224.6L1107.0 1222.7L1107.5 1248.0L1108.0 1236.9L1108.4 1232.5L1108.9 1244.6L1109.4 1254.0L1109.8 1232.6L1110.3 1244.7L1110.8 1247.8L1111.2 1229.5L1111.7 1241.3L1112.2 1242.2L1112.6 1235.2L1113.1 1234.5L1113.6 1227.9L1114.0 1251.4L1114.5 1227.7L1115.0 1219.4L1115.4 1232.5L1115.9 1246.8L1116.4 1236.0L1116.8 1235.3L1117.3 1240.3L1117.8 1221.0L1118.2 1231.7L1118.7 1232.1L1119.2 1218.4L1119.6 1220.4L1120.1 1218.7L1120.6 1232.2L1121.0 1233.9L1121.5 1211.4L1122.0 1229.0L1122.4 1223.3L1122.9 1231.3L1123.4 1217.3L1123.8 1225.5L1124.3 1217.2L1124.8 1205.4L1125.2 1224.2L1125.7 1230.3L1126.2 1237.9L1126.6 1214.8L1127.1 1216.2L1127.6 1240.9L1128.0 1224.5L1128.5 1228.3L1129.0 1216.9L1129.4 1228.7L1129.9 1225.2L1130.4 1229.3L1130.8 1229.1L1131.3 1218.7L1131.8 1223.7L1132.2 1240.2L1132.7 1252.3L1133.2 1241.6L1133.6 1233.0L1134.1 1226.4L1134.6 1244.0L1135.0 1245.0L1135.5 1238.6L1136.0 1241.7L1136.4 1223.3L1136.9 1252.6L1137.4 1230.4L1137.8 1237.4L1138.3 1237.7L1138.8 1250.1L1139.2 1234.2L1139.7 1247.5L1140.2 1246.8L1140.6 1222.5L1141.1 1231.1L1141.6 1248.3L1142.0 1247.6L1142.5 1228.8L1143.0 1251.2L1143.4 1237.9L1143.9 1238.9L1144.4 1223.4L1144.8 1220.4L1145.3 1237.9L1145.8 1231.8L1146.2 1247.6L1146.7 1225.0L1147.2 1237.4L1147.6 1224.2L1148.1 1251.5L1148.6 1241.0L1149.0 1246.0L1149.5 1233.2L1150.0 1232.9L1150.4 1224.9L1150.9 1228.8L1151.4 1228.4L1151.8 1235.2L1152.3 1227.1L1152.8 1232.2L1153.2 1247.3L1153.7 1223.8L1154.1 1252.5L1154.6 1254.6L1155.1 1229.3L1155.5 1247.8L1156.0 1225.8L1156.5 1241.7L1156.9 1230.4L1157.4 1235.0L1157.9 1252.8L1158.3 1240.8L1158.8 1234.0L1159.3 1225.5L1159.7 1223.5L1160.2 1250.5L1160.7 1227.0L1161.1 1241.6L1161.6 1253.4L1162.1 1221.0L1162.5 1233.0L1163.0 1238.4L1163.5 1228.6L1163.9 1250.7L1164.4 1249.2L1164.9 1248.2L1165.3 1231.6L1165.8 1244.1L1166.3 1241.9L1166.7 1237.1L1167.2 1248.9L1167.7 1235.7L1168.1 1246.7L1168.6 1216.0L1169.1 1239.7L1169.5 1222.4L1170.0 1236.4L1170.5 1240.5L1170.9 1243.5L1171.4 1211.9L1171.9 1233.7L1172.3 1219.8L1172.8 1230.2L1173.3 1217.5L1173.7 1232.8L1174.2 1233.3L1174.7 1235.9L1175.1 1215.5L1175.6 1209.6L1176.1 1216.2L1176.5 1235.4L1177.0 1237.9L1177.5 1233.2L1177.9 1237.3L1178.4 1221.5L1178.9 1236.5L1179.3 1224.1L1179.8 1223.7L1180.3 1224.6L1180.7 1249.6L1181.2 1221.3L1181.7 1236.4L1182.1 1239.4L1182.6 1232.9L1183.1 1241.0L1183.5 1242.8L1184.0 1245.7L1184.5 1241.4L1184.9 1232.8L1185.4 1220.4L1185.9 1235.4L1186.3 1239.7L1186.8 1247.1L1187.3 1247.2L1187.7 1243.2L1188.2 1232.8L1188.7 1246.9L1189.1 1236.3L1189.6 1252.8L1190.1 1244.0L1190.5 1243.2L1191.0 1245.4L1191.5 1248.9L1191.9 1254.9L1192.4 1248.7L1192.9 1245.9L1193.3 1249.1L1193.8 1252.6L1194.3 1231.1L1194.7 1240.9L1195.2 1239.8L1195.7 1232.9L1196.1 1228.8L1196.6 1228.4L1197.1 1251.9L1197.5 1245.6L1198.0 1241.8L1198.5 1230.4L1198.9 1241.7L1199.4 1232.4L1199.9 1234.9L1200.3 1224.5L1200.8 1237.8L1201.3 1234.6L1201.7 1229.8L1202.2 1226.9L1202.7 1231.1L1203.1 1225.6L1203.6 1224.0L1204.1 1213.1L1204.5 1217.3L1205.0 1213.7L1205.5 1192.7L1205.9 1204.7L1206.4 1193.2L1206.9 1177.1L1207.3 1158.0L1207.8 1166.6L1208.3 1154.9L1208.7 1129.9L1209.2 1138.6L1209.7 1133.9L1210.1 1113.7L1210.6 1094.9L1211.1 1098.4L1211.5 1098.1L1212.0 1089.3L1212.5 1090.2L1212.9 1094.6L1213.4 1087.9L1213.9 1090.1L1214.3 1125.3L1214.8 1104.9L1215.3 1123.5L1215.7 1123.0L1216.2 1139.6L1216.7 1152.0L1217.1 1151.5L1217.6 1169.2L1218.1 1174.0L1218.5 1187.6L1219.0 1176.3L1219.5 1195.8L1219.9 1190.9L1220.4 1212.8L1220.9 1199.6L1221.3 1204.4L1221.8 1212.5L1222.3 1221.3L1222.7 1210.7L1223.2 1236.8L1223.7 1239.5L1224.1 1229.6L1224.6 1245.6L1225.0 1216.1L1225.5 1223.5L1226.0 1219.0L1226.4 1235.9L1226.9 1214.3L1227.4 1229.6L1227.8 1215.3L1228.3 1248.0L1228.8 1236.7L1229.2 1219.9L1229.7 1240.5L1230.2 1240.9L1230.6 1233.7L1231.1 1233.9L1231.6 1227.7L1232.0 1234.7L1232.5 1213.6L1233.0 1228.4L1233.4 1224.9L1233.9 1237.4L1234.4 1238.4L1234.8 1243.9L1235.3 1226.4L1235.8 1244.9L1236.2 1233.4L1236.7 1219.4L1237.2 1241.6L1237.6 1236.2L1238.1 1230.9L1238.6 1230.4L1239.0 1248.6L1239.5 1232.8L1240.0 1240.2L1240.4 1250.9L1240.9 1241.5L1241.4 1230.1L1241.8 1237.1L1242.3 1236.9L1242.8 1223.9L1243.2 1251.0L1243.7 1248.3L1244.2 1239.5L1244.6 1249.5L1245.1 1245.0L1245.6 1227.3L1246.0 1222.2L1246.5 1227.6L1247.0 1242.3L1247.4 1248.2L1247.9 1225.4L1248.4 1242.8L1248.8 1235.5L1249.3 1232.5L1249.8 1225.5L1250.2 1237.3L1250.7 1237.9L1251.2 1244.6L1251.6 1249.4L1252.1 1232.9L1252.6 1240.1L1253.0 1245.9L1253.5 1251.7L1254.0 1249.3L1254.4 1253.6L1254.9 1243.2L1255.4 1236.6L1255.8 1231.7L1256.3 1241.1L1256.8 1255.7L1257.2 1244.5L1257.7 1232.3L1258.2 1239.2L1258.6 1235.5L1259.1 1236.5L1259.6 1224.6L1260.0 1248.0L1260.5 1238.7L1261.0 1235.0L1261.4 1236.1L1261.9 1226.7L1262.4 1249.7L1262.8 1240.6L1263.3 1257.2L1263.8 1256.3L1264.2 1249.6L1264.7 1243.2L1265.2 1243.3L1265.6 1259.5L1266.1 1230.8L1266.6 1251.8L1267.0 1252.4L1267.5 1239.2L1268.0 1246.8L1268.4 1238.3L1268.9 1249.8L1269.4 1232.8L1269.8 1255.0L1270.3 1233.1L1270.8 1234.8L1271.2 1240.6L1271.7 1250.5L1272.2 1240.7L1272.6 1239.4L1273.1 1255.1L1273.6 1243.7L1274.0 1247.8L1274.5 1245.8L1275.0 1242.5L1275.4 1233.0L1275.9 1244.1L1276.4 1238.4L1276.8 1243.9L1277.3 1248.6L1277.8 1253.4L1278.2 1248.4L1278.7 1230.1L1279.2 1238.4L1279.6 1244.3L1280.1 1252.3L1280.6 1253.2L1281.0 1231.6L1281.5 1257.4L1282.0 1250.5L1282.4 1245.2L1282.9 1240.4L1283.4 1230.0L1283.8 1251.3L1284.3 1248.6L1284.8 1252.0L1285.2 1244.9L1285.7 1238.9L1286.2 1248.3L1286.6 1234.0L1287.1 1236.9L1287.6 1245.1L1288.0 1249.0L1288.5 1252.2L1289.0 1241.5L1289.4 1239.2L1289.9 1236.9L1290.4 1241.4L1290.8 1262.3L1291.3 1245.0L1291.8 1254.6L1292.2 1235.1L1292.7 1240.7L1293.2 1251.8L1293.6 1236.1L1294.1 1250.3L1294.6 1247.4L1295.0 1251.8L1295.5 1234.5L1296.0 1259.3L1296.4 1225.1L1296.9 1231.7L1297.3 1233.0L1297.8 1238.9L1298.3 1237.8L1298.7 1258.2L1299.2 1241.4L1299.7 1237.9L1300.1 1248.8L1300.6 1245.0L1301.1 1248.6L1301.5 1250.8L1302.0 1248.9L1302.5 1251.8L1302.9 1233.5L1303.4 1242.1L1303.9 1240.3L1304.3 1249.9L1304.8 1249.1L1305.3 1252.7L1305.7 1253.6L1306.2 1251.7L1306.7 1235.8L1307.1 1252.5L1307.6 1229.8L1308.1 1249.4L1308.5 1245.9L1309.0 1237.2L1309.5 1247.8L1309.9 1234.7L1310.4 1251.5L1310.9 1257.6L1311.3 1234.9L1311.8 1235.0L1312.3 1237.2L1312.7 1246.8L1313.2 1236.7L1313.7 1245.4L1314.1 1236.4L1314.6 1249.8L1315.1 1249.9L1315.5 1244.4L1316.0 1233.8L1316.5 1242.8L1316.9 1254.4L1317.4 1231.3L1317.9 1227.6L1318.3 1239.5L1318.8 1234.6L1319.3 1247.7L1319.7 1250.0L1320.2 1256.5L1320.7 1235.8L1321.1 1251.7L1321.6 1243.8L1322.1 1252.0L1322.5 1252.5L1323.0 1241.5L1323.5 1252.4L1323.9 1229.9L1324.4 1242.5L1324.9 1238.9L1325.3 1248.9L1325.8 1250.8L1326.3 1245.9L1326.7 1242.9L1327.2 1235.1L1327.7 1256.6L1328.1 1255.6L1328.6 1250.0L1329.1 1240.7L1329.5 1244.9L1330.0 1233.7L1330.5 1247.8L1330.9 1235.8L1331.4 1239.4L1331.9 1237.9L1332.3 1249.4L1332.8 1239.7L1333.3 1258.6L1333.7 1245.8L1334.2 1252.1L1334.7 1252.7L1335.1 1237.6L1335.6 1244.2L1336.1 1253.5L1336.5 1251.9L1337.0 1240.6L1337.5 1246.6L1337.9 1233.0L1338.4 1242.3L1338.9 1243.3L1339.3 1243.5L1339.8 1242.2L1340.3 1238.1L1340.7 1234.2L1341.2 1233.8L1341.7 1245.1L1342.1 1229.5L1342.6 1243.0L1343.1 1254.3L1343.5 1255.6L1344.0 1241.8L1344.5 1228.6L1344.9 1240.3L1345.4 1252.8L1345.9 1255.3L1346.3 1248.8L1346.8 1238.7L1347.3 1252.5L1347.7 1230.0L1348.2 1253.6L1348.7 1241.7L1349.1 1246.9L1349.6 1246.0L1350.1 1249.3L1350.5 1238.0L1351.0 1253.2L1351.5 1247.5L1351.9 1255.6L1352.4 1237.3L1352.9 1237.1L1353.3 1245.2L1353.8 1236.0L1354.3 1245.9L1354.7 1248.7L1355.2 1238.1L1355.7 1237.0L1356.1 1231.5L1356.6 1230.5L1357.1 1235.5L1357.5 1253.4L1358.0 1252.0L1358.5 1249.8L1358.9 1239.1L1359.4 1249.4L1359.9 1239.3L1360.3 1243.6L1360.8 1248.0L1361.3 1225.3L1361.7 1243.9L1362.2 1249.3L1362.7 1226.9L1363.1 1248.8L1363.6 1230.3L1364.1 1233.7L1364.5 1226.1L1365.0 1230.1L1365.5 1220.6L1365.9 1240.3L1366.4 1236.7L1366.9 1221.5L1367.3 1239.6L1367.8 1226.4L1368.3 1229.0L1368.7 1239.6L1369.2 1238.1L1369.6 1228.5L1370.1 1230.6L1370.6 1239.0L1371.0 1227.1L1371.5 1244.6L1372.0 1228.1L1372.4 1236.9L1372.9 1239.5L1373.4 1247.5L1373.8 1240.7L1374.3 1237.0L1374.8 1231.6L1375.2 1229.6L1375.7 1230.0L1376.2 1246.9L1376.6 1254.2L1377.1 1236.6L1377.6 1233.4L1378.0 1245.5L1378.5 1243.0L1379.0 1237.5L1379.4 1228.5L1379.9 1230.9L1380.4 1219.7L1380.8 1238.6L1381.3 1244.6L1381.8 1225.0L1382.2 1234.4L1382.7 1240.6L1383.2 1234.3L1383.6 1232.5L1384.1 1232.4L1384.6 1238.0L1385.0 1238.3L1385.5 1237.7L1386.0 1233.3L1386.4 1239.2L1386.9 1233.8L1387.4 1228.1L1387.8 1215.2L1388.3 1216.6L1388.8 1235.0L1389.2 1220.1L1389.7 1217.5L1390.2 1212.1L1390.6 1206.0L1391.1 1207.6L1391.6 1212.9L1392.0 1215.3L1392.5 1212.8L1393.0 1207.4L1393.4 1218.4L1393.9 1216.2L1394.4 1216.1L1394.8 1224.6L1395.3 1220.6L1395.8 1220.9L1396.2 1226.4L1396.7 1220.8L1397.2 1226.8L1397.6 1234.0L1398.1 1222.4L1398.6 1233.3L1399.0 1211.5L1399.5 1234.0L1400.0 1216.0L1400.4 1237.1L1400.9 1216.2L1401.4 1213.8L1401.8 1216.3L1402.3 1228.6L1402.8 1232.4L1403.2 1222.3L1403.7 1219.9L1404.2 1220.9L1404.6 1217.0L1405.1 1229.0L1405.6 1233.8L1406.0 1216.1L1406.5 1230.4L1407.0 1235.3L1407.4 1210.5L1407.9 1226.5L1408.4 1214.7L1408.8 1209.2L1409.3 1212.7L1409.8 1207.2L1410.2 1228.5L1410.7 1208.4L1411.2 1216.1L1411.6 1220.3L1412.1 1219.9L1412.6 1212.4L1413.0 1232.8L1413.5 1239.3L1414.0 1223.6L1414.4 1231.9L1414.9 1218.9L1415.4 1237.8L1415.8 1238.1L1416.3 1243.7L1416.8 1236.2L1417.2 1227.1L1417.7 1241.2L1418.2 1242.7L1418.6 1243.0L1419.1 1251.1L1419.6 1238.7L1420.0 1246.7L1420.5 1226.7L1421.0 1224.4L1421.4 1236.2L1421.9 1227.1L1422.4 1252.0L1422.8 1229.8L1423.3 1248.3L1423.8 1243.9L1424.2 1242.0L1424.7 1248.4L1425.2 1247.9L1425.6 1243.0L1426.1 1231.2L1426.6 1244.2L1427.0 1236.3L1427.5 1231.9L1428.0 1237.4L1428.4 1255.6L1428.9 1239.9L1429.4 1248.6L1429.8 1234.7L1430.3 1227.1L1430.8 1231.0L1431.2 1261.0L1431.7 1250.1L1432.2 1238.7L1432.6 1233.5L1433.1 1236.2L1433.6 1239.2L1434.0 1235.1L1434.5 1253.6L1435.0 1230.7L1435.4 1243.4L1435.9 1239.0L1436.4 1244.0L1436.8 1243.4L1437.3 1232.4L1437.8 1238.7L1438.2 1238.4L1438.7 1232.3L1439.2 1229.9L1439.6 1245.6L1440.1 1231.3L1440.5 1254.2L1441.0 1230.5L1441.5 1243.2L1441.9 1241.1L1442.4 1244.5L1442.9 1241.3L1443.3 1254.3L1443.8 1248.1L1444.3 1243.8L1444.7 1245.6L1445.2 1229.5L1445.7 1248.3L1446.1 1252.2L1446.6 1248.7L1447.1 1225.8L1447.5 1242.4L1448.0 1238.4L1448.5 1249.0L1448.9 1250.8L1449.4 1244.9L1449.9 1236.6L1450.3 1239.0L1450.8 1234.9L1451.3 1243.6L1451.7 1248.8L1452.2 1247.0L1452.7 1230.0L1453.1 1249.9L1453.6 1229.2L1454.1 1233.5L1454.5 1249.4L1455.0 1234.2L1455.5 1236.0L1455.9 1247.5L1456.4 1229.7L1456.9 1235.3L1457.3 1239.5L1457.8 1242.0L1458.3 1235.3L1458.7 1235.6L1459.2 1227.3L1459.7 1248.4L1460.1 1244.5L1460.6 1237.7L1461.1 1236.7L1461.5 1229.0L1462.0 1235.6L1462.5 1232.3L1462.9 1233.2L1463.4 1243.5L1463.9 1239.8L1464.3 1223.1L1464.8 1217.7L1465.3 1218.1L1465.7 1214.2L1466.2 1228.4L1466.7 1217.3L1467.1 1210.0L1467.6 1205.2L1468.1 1192.2L1468.5 1183.1L1469.0 1186.3L1469.5 1177.2L1469.9 1182.7L1470.4 1183.8L1470.9 1162.1L1471.3 1164.5L1471.8 1165.0L1472.3 1163.1L1472.7 1151.1L1473.2 1149.8L1473.7 1144.4L1474.1 1140.9L1474.6 1144.6L1475.1 1153.7L1475.5 1141.8L1476.0 1163.2L1476.5 1165.3L1476.9 1164.6L1477.4 1177.0L1477.9 1182.2L1478.3 1173.1L1478.8 1176.8L1479.3 1197.4L1479.7 1188.0L1480.2 1192.5L1480.7 1197.7L1481.1 1216.7L1481.6 1203.4L1482.1 1204.0L1482.5 1225.1L1483.0 1212.6L1483.5 1237.9L1483.9 1213.5L1484.4 1242.0L1484.9 1221.1L1485.3 1238.1L1485.8 1241.8L1486.3 1242.1L1486.7 1232.3L1487.2 1239.1L1487.7 1228.0L1488.1 1248.8L1488.6 1224.6L1489.1 1229.6L1489.5 1228.2L1490.0 1238.6L1490.5 1246.2L1490.9 1233.7L1491.4 1232.0L1491.9 1245.1L1492.3 1244.4L1492.8 1232.1L1493.3 1224.6L1493.7 1222.1L1494.2 1241.4L1494.7 1237.0L1495.1 1224.9L1495.6 1234.3L1496.1 1241.0L1496.5 1242.4L1497.0 1240.1L1497.5 1231.9L1497.9 1235.2L1498.4 1217.5L1498.9 1242.5L1499.3 1235.9L1499.8 1222.8L1500.3 1220.5L1500.7 1232.6L1501.2 1232.2L1501.7 1206.2L1502.1 1225.4L1502.6 1225.6L1503.1 1232.1L1503.5 1216.2L1504.0 1235.2L1504.5 1230.0L1504.9 1217.3L1505.4 1215.6L1505.9 1224.8L1506.3 1230.2L1506.8 1233.6L1507.3 1218.1L1507.7 1239.2L1508.2 1225.1L1508.7 1235.5L1509.1 1230.1L1509.6 1226.4L1510.1 1217.4L1510.5 1237.4L1511.0 1229.9L1511.5 1212.7L1511.9 1223.8L1512.4 1218.4L1512.8 1225.0L1513.3 1223.0L1513.8 1217.2L1514.2 1216.6L1514.7 1240.9L1515.2 1235.9L1515.6 1227.9L1516.1 1243.8L1516.6 1237.9L1517.0 1243.7L1517.5 1236.8L1518.0 1225.3L1518.4 1238.6L1518.9 1235.8L1519.4 1236.1L1519.8 1233.6L1520.3 1231.6L1520.8 1247.1L1521.2 1242.8L1521.7 1234.0L1522.2 1231.0L1522.6 1233.9L1523.1 1225.1L1523.6 1233.1L1524.0 1245.1L1524.5 1225.8L1525.0 1231.1L1525.4 1224.3L1525.9 1236.9L1526.4 1243.4L1526.8 1229.0L1527.3 1232.5L1527.8 1247.1L1528.2 1234.1L1528.7 1226.9L1529.2 1237.8L1529.6 1239.7L1530.1 1230.5L1530.6 1219.2L1531.0 1235.3L1531.5 1225.8L1532.0 1234.2L1532.4 1230.3L1532.9 1245.2L1533.4 1247.1L1533.8 1249.4L1534.3 1232.3L1534.8 1239.9L1535.2 1243.2L1535.7 1227.6L1536.2 1233.6L1536.6 1230.2L1537.1 1237.5L1537.6 1225.4L1538.0 1227.7L1538.5 1246.1L1539.0 1242.3L1539.4 1241.5L1539.9 1238.6L1540.4 1245.9L1540.8 1238.6L1541.3 1248.3L1541.8 1245.9L1542.2 1241.7L1542.7 1247.5L1543.2 1239.3L1543.6 1233.5L1544.1 1246.9L1544.6 1228.8L1545.0 1242.5L1545.5 1234.6L1546.0 1240.0L1546.4 1252.4L1546.9 1232.6L1547.4 1243.9L1547.8 1228.4L1548.3 1233.4L1548.8 1231.3L1549.2 1234.1L1549.7 1246.3L1550.2 1233.8L1550.6 1248.1L1551.1 1244.9L1551.6 1234.5L1552.0 1244.5L1552.5 1245.1L1553.0 1246.8L1553.4 1234.4L1553.9 1239.9L1554.4 1239.0L1554.8 1223.6L1555.3 1245.2L1555.8 1247.0L1556.2 1229.4L1556.7 1235.7L1557.2 1230.5L1557.6 1234.6L1558.1 1237.0L1558.6 1239.1L1559.0 1239.6L1559.5 1225.2L1560.0 1233.0L1560.4 1248.0L1560.9 1244.5L1561.4 1239.3L1561.8 1243.0L1562.3 1226.5L1562.8 1236.9L1563.2 1247.9L1563.7 1236.6L1564.2 1242.2L1564.6 1226.5L1565.1 1238.5L1565.6 1242.5L1566.0 1231.7L1566.5 1237.3L1567.0 1229.9L1567.4 1236.6L1567.9 1225.0L1568.4 1225.2L1568.8 1225.6L1569.3 1221.4L1569.8 1217.7L1570.2 1230.0L1570.7 1218.9L1571.2 1231.4L1571.6 1241.8L1572.1 1221.5L1572.6 1218.0L1573.0 1228.7L1573.5 1240.1L1574.0 1239.9L1574.4 1226.1L1574.9 1231.4L1575.4 1246.9L1575.8 1222.5L1576.3 1236.4L1576.8 1225.7L1577.2 1249.7L1577.7 1237.9L1578.2 1231.0L1578.6 1237.2L1579.1 1241.2L1579.6 1230.5L1580.0 1238.8L1580.5 1248.1L1581.0 1231.2L1581.4 1224.8L1581.9 1245.4L1582.4 1244.1L1582.8 1241.0L1583.3 1238.9L1583.7 1231.8L1584.2 1223.1L1584.7 1249.9L1585.1 1246.1L1585.6 1228.8L1586.1 1228.1L1586.5 1245.5L1587.0 1240.4L1587.5 1229.8L1587.9 1227.1L1588.4 1241.7L1588.9 1239.4L1589.3 1236.6L1589.8 1235.0L1590.3 1233.6L1590.7 1217.7L1591.2 1229.6L1591.7 1237.4L1592.1 1226.1L1592.6 1223.9L1593.1 1236.2L1593.5 1233.0L1594.0 1219.6L1594.5 1228.9L1594.9 1223.7L1595.4 1230.2L1595.9 1221.6L1596.3 1213.1L1596.8 1216.3L1597.3 1230.1L1597.7 1224.5L1598.2 1219.9L1598.7 1233.2L1599.1 1225.0L1599.6 1223.5L1600.1 1221.2L1600.5 1234.1L1601.0 1230.9L1601.5 1215.2L1601.9 1216.7L1602.4 1231.6L1602.9 1240.6L1603.3 1242.0L1603.8 1241.0L1604.3 1232.6L1604.7 1234.3L1605.2 1228.0L1605.7 1226.8L1606.1 1224.6L1606.6 1248.6L1607.1 1235.6L1607.5 1231.2L1608.0 1250.9L1608.5 1241.3L1608.9 1235.0L1609.4 1250.2L1609.9 1235.8L1610.3 1226.1L1610.8 1223.8L1611.3 1246.2L1611.7 1247.4L1612.2 1243.9L1612.7 1238.4L1613.1 1228.0L1613.6 1248.2L1614.1 1245.8L1614.5 1232.8L1615.0 1231.1L1615.5 1249.8L1615.9 1231.0L1616.4 1234.2L1616.9 1247.8L1617.3 1247.3L1617.8 1252.1L1618.3 1247.5L1618.7 1235.7L1619.2 1228.4L1619.7 1242.4L1620.1 1254.2L1620.6 1238.5L1621.1 1249.1L1621.5 1239.7L1622.0 1231.9L1622.5 1241.4L1622.9 1240.3L1623.4 1245.8L1623.9 1254.8L1624.3 1251.0L1624.8 1236.9L1625.3 1239.7L1625.7 1247.8L1626.2 1235.7L1626.7 1240.2L1627.1 1252.6L1627.6 1244.9L1628.1 1240.0L1628.5 1237.2L1629.0 1239.6L1629.5 1244.9L1629.9 1241.0L1630.4 1244.8L1630.9 1253.8L1631.3 1242.5L1631.8 1240.9L1632.3 1234.9L1632.7 1236.4L1633.2 1236.3L1633.7 1234.0L1634.1 1253.3L1634.6 1241.8L1635.1 1242.1L1635.5 1245.9L1636.0 1255.4L1636.5 1248.2L1636.9 1246.1L1637.4 1238.5L1637.9 1244.4L1638.3 1238.1L1638.8 1243.1L1639.3 1240.0L1639.7 1243.1L1640.2 1247.8L1640.7 1257.8L1641.1 1241.1L1641.6 1234.3L1642.1 1238.0L1642.5 1250.9L1643.0 1247.9L1643.5 1253.8L1643.9 1250.3L1644.4 1259.2L1644.9 1256.7L1645.3 1237.2L1645.8 1246.8L1646.3 1238.1L1646.7 1243.9L1647.2 1252.6L1647.7 1252.2L1648.1 1256.2L1648.6 1238.6L1649.1 1249.4L1649.5 1248.4L1650.0 1236.8L1650.5 1232.2L1650.9 1233.1L1651.4 1244.5L1651.9 1250.5L1652.3 1244.0L1652.8 1246.4L1653.3 1237.3L1653.7 1257.2L1654.2 1252.8L1654.7 1242.8L1655.1 1245.1L1655.6 1249.9L1656.0 1240.0L1656.5 1242.0L1657.0 1240.2L1657.4 1255.9L1657.9 1249.8L1658.4 1254.5L1658.8 1235.6L1659.3 1246.5L1659.8 1250.8L1660.2 1243.9L1660.7 1244.8L1661.2 1254.8L1661.6 1254.9L1662.1 1245.0L1662.6 1251.6L1663.0 1261.6L1663.5 1235.4L1664.0 1248.1L1664.4 1247.4L1664.9 1252.6L1665.4 1237.2L1665.8 1251.0L1666.3 1236.5L1666.8 1256.0L1667.2 1247.1L1667.7 1238.2L1668.2 1235.7L1668.6 1241.2L1669.1 1250.6L1669.6 1254.3L1670.0 1253.7L1670.5 1245.6L1671.0 1237.4L1671.4 1252.4L1671.9 1238.3L1672.4 1236.9L1672.8 1248.7L1673.3 1248.0L1673.8 1239.4L1674.2 1239.0L1674.7 1246.5L1675.2 1243.3L1675.6 1249.2L1676.1 1248.8L1676.6 1247.2L1677.0 1236.6L1677.5 1251.4L1678.0 1241.0L1678.4 1252.7L1678.9 1257.6L1679.4 1249.4L1679.8 1251.5L1680.3 1243.1L1680.8 1262.9L1681.2 1249.3L1681.7 1233.3L1682.2 1236.8L1682.6 1247.3L1683.1 1249.6L1683.6 1248.5L1684.0 1239.8L1684.5 1239.6L1685.0 1256.3L1685.4 1233.9L1685.9 1238.7L1686.4 1237.7L1686.8 1239.2L1687.3 1246.6L1687.8 1237.3L1688.2 1238.8L1688.7 1249.8L1689.2 1241.4L1689.6 1255.1L1690.1 1245.3L1690.6 1245.5L1691.0 1259.3L1691.5 1252.6L1692.0 1256.1L1692.4 1239.5L1692.9 1237.5L1693.4 1246.8L1693.8 1235.3L1694.3 1256.7L1694.8 1254.1L1695.2 1247.2L1695.7 1253.9L1696.2 1238.0L1696.6 1250.1L1697.1 1241.7L1697.6 1257.3L1698.0 1240.2L1698.5 1247.6L1699.0 1245.4L1699.4 1233.3L1699.9 1255.8L1700.4 1252.6L1700.8 1248.9L1701.3 1245.0L1701.8 1235.6L1702.2 1242.2L1702.7 1244.1L1703.2 1235.9L1703.6 1247.6L1704.1 1257.1L1704.6 1247.4L1705.0 1239.0L1705.5 1230.8L1706.0 1233.8L1706.4 1250.2L1706.9 1241.5L1707.4 1246.2L1707.8 1249.2L1708.3 1250.2L1708.8 1251.0L1709.2 1246.3L1709.7 1234.8L1710.2 1247.7L1710.6 1254.1L1711.1 1228.3L1711.6 1251.1L1712.0 1237.0L1712.5 1254.7L1713.0 1249.6L1713.4 1247.0L1713.9 1236.9L1714.4 1245.0L1714.8 1233.3L1715.3 1239.4L1715.8 1235.1L1716.2 1245.6L1716.7 1246.5L1717.2 1250.1L1717.6 1238.3L1718.1 1244.0L1718.6 1247.4L1719.0 1230.0L1719.5 1226.6L1720.0 1240.7L1720.4 1250.9L1720.9 1244.0L1721.4 1237.2L1721.8 1231.3L1722.3 1244.1L1722.8 1233.2L1723.2 1245.6L1723.7 1221.1L1724.2 1240.2L1724.6 1226.6L1725.1 1231.2L1725.6 1228.8L1726.0 1223.0L1726.5 1244.1L1727.0 1241.8L1727.4 1241.8L1727.9 1236.3L1728.3 1225.6L1728.8 1229.0L1729.3 1238.5L1729.7 1219.5L1730.2 1234.8L1730.7 1246.9L1731.1 1237.4L1731.6 1238.6L1732.1 1234.8L1732.5 1237.3L1733.0 1235.0L1733.5 1235.0L1733.9 1237.5L1734.4 1235.6L1734.9 1251.0L1735.3 1232.4L1735.8 1237.1L1736.3 1231.6L1736.7 1240.0L1737.2 1230.6L1737.7 1247.2L1738.1 1245.6L1738.6 1244.8L1739.1 1248.9L1739.5 1242.3L1740.0 1232.7L1740.5 1240.3L1740.9 1234.9L1741.4 1238.9L1741.9 1231.5L1742.3 1249.5L1742.8 1241.3L1743.3 1245.4L1743.7 1246.3L1744.2 1236.6L1744.7 1243.9L1745.1 1230.5L1745.6 1252.2L1746.1 1237.2L1746.5 1247.7L1747.0 1228.7L1747.5 1231.0L1747.9 1242.7L1748.4 1245.6L1748.9 1222.5L1749.3 1235.8L1749.8 1228.5L1750.3 1225.4L1750.7 1222.6L1751.2 1232.5L1751.7 1241.2L1752.1 1238.5L1752.6 1233.4L1753.1 1250.7L1753.5 1243.9L1754.0 1247.7L1754.5 1227.9L1754.9 1238.9L1755.4 1247.3L1755.9 1238.6L1756.3 1239.2L1756.8 1248.4L1757.3 1243.0L1757.7 1233.7L1758.2 1250.9L1758.7 1232.9L1759.1 1235.4L1759.6 1233.5L1760.1 1234.5L1760.5 1251.6L1761.0 1251.1L1761.5 1247.0L1761.9 1254.4L1762.4 1241.4L1762.9 1236.5L1763.3 1252.4L1763.8 1247.3L1764.3 1253.7L1764.7 1231.7L1765.2 1230.9L1765.7 1241.0L1766.1 1234.7L1766.6 1249.9L1767.1 1238.2L1767.5 1232.9L1768.0 1228.2L1768.5 1247.7L1768.9 1247.9L1769.4 1227.3L1769.9 1228.7L1770.3 1232.7L1770.8 1224.1L1771.3 1213.9L1771.7 1213.5L1772.2 1231.1L1772.7 1209.1L1773.1 1202.2L1773.6 1213.9L1774.1 1193.6L1774.5 1185.0L1775.0 1181.4L1775.5 1180.1L1775.9 1170.9L1776.4 1168.8L1776.9 1157.4L1777.3 1154.0L1777.8 1163.6L1778.3 1144.1L1778.7 1162.7L1779.2 1162.1L1779.7 1160.3L1780.1 1162.1L1780.6 1162.5L1781.1 1175.2L1781.5 1164.8L1782.0 1187.3L1782.5 1189.2L1782.9 1178.2L1783.4 1203.6L1783.9 1200.7L1784.3 1211.9L1784.8 1198.9L1785.3 1218.9L1785.7 1210.9L1786.2 1221.8L1786.7 1217.0L1787.1 1233.1L1787.6 1230.8L1788.1 1240.8L1788.5 1232.9L1789.0 1240.4L1789.5 1230.4L1789.9 1244.7L1790.4 1242.5L1790.9 1228.9L1791.3 1232.5L1791.8 1245.0L1792.3 1250.6L1792.7 1241.8L1793.2 1232.0L1793.7 1249.0L1794.1 1238.4L1794.6 1253.7L1795.1 1246.3L1795.5 1247.1L1796.0 1241.9L1796.5 1250.8L1796.9 1234.7L1797.4 1251.5L1797.9 1236.6L1798.3 1245.3L1798.8 1236.9L1799.2 1236.3L1799.7 1246.4L1800.2 1238.9L1800.6 1248.0L1801.1 1237.7L1801.6 1234.5L1802.0 1233.7L1802.5 1252.9L1803.0 1239.0L1803.4 1248.1L1803.9 1249.9L1804.4 1233.8L1804.8 1247.5L1805.3 1243.6L1805.8 1231.6L1806.2 1233.2L1806.7 1231.0L1807.2 1235.3L1807.6 1245.7L1808.1 1246.8L1808.6 1238.2L1809.0 1230.5L1809.5 1241.2L1810.0 1235.9L1810.4 1236.3L1810.9 1239.9L1811.4 1234.9L1811.8 1227.3L1812.3 1240.3L1812.8 1244.5L1813.2 1236.9L1813.7 1237.4L1814.2 1232.1L1814.6 1241.3L1815.1 1238.5L1815.6 1231.0L1816.0 1242.3L1816.5 1247.4L1817.0 1239.2L1817.4 1232.3L1817.9 1238.6L1818.4 1231.2L1818.8 1241.8L1819.3 1243.4L1819.8 1225.5L1820.2 1234.6L1820.7 1250.9L1821.2 1245.7L1821.6 1227.3L1822.1 1244.2L1822.6 1230.8L1823.0 1241.4L1823.5 1251.7L1824.0 1242.6L1824.4 1232.4L1824.9 1231.7L1825.4 1250.6L1825.8 1229.3L1826.3 1251.0L1826.8 1235.3L1827.2 1242.8L1827.7 1230.2L1828.2 1255.8L1828.6 1249.8L1829.1 1234.5L1829.6 1252.9L1830.0 1242.0L1830.5 1248.1L1831.0 1250.7L1831.4 1242.7L1831.9 1244.2L1832.4 1248.5L1832.8 1237.0L1833.3 1250.4L1833.8 1252.3L1834.2 1254.4L1834.7 1249.2L1835.2 1241.8L1835.6 1253.8L1836.1 1250.0L1836.6 1241.8L1837.0 1234.2L1837.5 1244.6L1838.0 1238.6L1838.4 1248.2L1838.9 1231.5L1839.4 1244.4L1839.8 1244.3L1840.3 1246.3L1840.8 1246.8L1841.2 1237.5L1841.7 1253.6L1842.2 1243.1L1842.6 1244.7L1843.1 1240.7L1843.6 1237.4L1844.0 1232.7L1844.5 1254.4L1845.0 1253.7L1845.4 1234.8L1845.9 1240.9L1846.4 1252.0L1846.8 1251.4L1847.3 1234.6L1847.8 1237.6L1848.2 1244.5L1848.7 1234.8L1849.2 1238.4L1849.6 1227.7L1850.1 1231.9L1850.6 1236.2L1851.0 1227.6L1851.5 1241.2L1852.0 1233.4L1852.4 1228.2L1852.9 1234.2L1853.4 1228.8L1853.8 1225.2L1854.3 1223.7L1854.8 1232.2L1855.2 1224.1L1855.7 1229.5L1856.2 1247.9L1856.6 1228.7L1857.1 1236.5L1857.6 1241.2L1858.0 1234.6L1858.5 1243.8L1859.0 1235.7L1859.4 1233.4L1859.9 1242.4L1860.4 1234.4L1860.8 1239.7L1861.3 1246.0L1861.8 1241.4L1862.2 1230.8L1862.7 1237.4L1863.2 1232.1L1863.6 1233.9L1864.1 1226.1L1864.6 1226.0L1865.0 1214.7L1865.5 1215.6L1866.0 1209.0L1866.4 1215.9L1866.9 1207.5L1867.4 1217.3L1867.8 1205.1L1868.3 1207.9L1868.8 1219.9L1869.2 1220.4L1869.7 1205.9L1870.2 1210.4L1870.6 1198.8L1871.1 1199.3L1871.5 1200.2L1872.0 1202.8L1872.5 1212.2L1872.9 1201.3L1873.4 1212.6L1873.9 1208.6L1874.3 1216.5L1874.8 1204.9L1875.3 1197.5L1875.7 1209.3L1876.2 1201.5L1876.7 1205.0L1877.1 1212.6L1877.6 1205.6L1878.1 1219.7L1878.5 1205.2L1879.0 1208.7L1879.5 1226.7L1879.9 1215.9L1880.4 1216.2L1880.9 1226.9L1881.3 1227.7L1881.8 1216.0L1882.3 1219.3L1882.7 1234.3L1883.2 1216.4L1883.7 1233.1L1884.1 1226.0L1884.6 1225.9L1885.1 1232.2L1885.5 1227.3L1886.0 1241.4L1886.5 1241.3L1886.9 1226.7L1887.4 1231.4L1887.9 1237.6L1888.3 1235.9L1888.8 1244.9L1889.3 1247.3L1889.7 1245.1L1890.2 1249.6L1890.7 1245.8L1891.1 1240.4L1891.6 1240.3L1892.1 1247.3L1892.5 1253.6L1893.0 1250.0L1893.5 1254.0L1893.9 1235.4L1894.4 1244.5L1894.9 1256.8L1895.3 1231.5L1895.8 1237.7L1896.3 1243.0L1896.7 1234.3L1897.2 1237.0L1897.7 1245.5L1898.1 1249.7L1898.6 1240.4L1899.1 1237.2L1899.5 1235.9L1900.0 1236.7L1900.5 1254.8L1900.9 1251.3L1901.4 1241.6L1901.9 1242.3L1902.3 1244.6L1902.8 1259.7L1903.3 1250.3L1903.7 1245.3L1904.2 1261.4L1904.7 1249.3L1905.1 1250.7L1905.6 1249.3L1906.1 1238.9L1906.5 1248.0L1907.0 1255.3L1907.5 1251.2L1907.9 1245.3L1908.4 1247.2L1908.9 1235.1L1909.3 1253.1L1909.8 1244.2L1910.3 1249.7L1910.7 1244.0L1911.2 1249.5L1911.7 1243.0L1912.1 1238.9L1912.6 1242.7L1913.1 1241.7L1913.5 1248.4L1914.0 1241.9L1914.5 1255.7L1914.9 1252.2L1915.4 1240.1L1915.9 1241.8L1916.3 1235.8L1916.8 1252.5L1917.3 1238.3L1917.7 1244.0L1918.2 1239.4L1918.7 1260.6L1919.1 1240.4L1919.6 1251.0L1920.1 1259.7L1920.5 1258.1L1921.0 1259.3L1921.5 1257.8L1921.9 1244.0L1922.4 1251.0L1922.9 1246.1L1923.3 1236.2L1923.8 1252.8L1924.3 1257.1L1924.7 1238.8L1925.2 1254.9L1925.7 1240.6L1926.1 1238.5L1926.6 1238.8L1927.1 1240.2L1927.5 1255.8L1928.0 1237.6L1928.5 1258.7L1928.9 1259.2L1929.4 1240.5L1929.9 1247.6L1930.3 1243.7L1930.8 1244.6L1931.3 1251.9L1931.7 1263.0L1932.2 1244.9L1932.7 1241.3L1933.1 1240.1L1933.6 1259.5L1934.1 1251.7L1934.5 1250.8L1935.0 1245.1L1935.5 1249.1L1935.9 1249.2L1936.4 1248.2L1936.9 1257.6L1937.3 1237.7L1937.8 1253.3L1938.3 1252.7L1938.7 1246.5L1939.2 1254.2L1939.7 1249.5L1940.1 1250.3L1940.6 1251.3L1941.1 1255.4L1941.5 1257.0L1942.0 1245.1L1942.5 1259.2L1942.9 1250.3L1943.4 1245.7L1943.8 1252.6L1944.3 1249.5L1944.8 1259.5L1945.2 1255.4L1945.7 1259.5L1946.2 1243.9L1946.6 1251.6L1947.1 1241.3L1947.6 1241.7L1948.0 1257.4L1948.5 1236.8L1949.0 1241.2L1949.4 1257.9L1949.9 1235.7L1950.4 1239.4L1950.8 1245.9L1951.3 1242.7L1951.8 1250.5L1952.2 1241.8L1952.7 1250.5L1953.2 1264.2L1953.6 1245.0L1954.1 1241.4L1954.6 1245.2L1955.0 1255.5L1955.5 1256.1L1956.0 1255.8L1956.4 1242.2L1956.9 1259.2L1957.4 1257.5L1957.8 1240.2L1958.3 1254.4L1958.8 1250.7L1959.2 1249.9L1959.7 1248.0L1960.2 1260.0L1960.6 1250.1L1961.1 1244.0L1961.6 1254.6L1962.0 1262.6L1962.5 1249.2L1963.0 1244.0L1963.4 1251.7L1963.9 1256.5L1964.4 1244.3L1964.8 1239.5L1965.3 1240.5L1965.8 1260.0L1966.2 1250.3L1966.7 1258.0L1967.2 1247.7L1967.6 1264.1L1968.1 1240.6L1968.6 1248.7L1969.0 1262.9L1969.5 1251.5L1970.0 1248.3L1970.4 1249.6L1970.9 1247.4L1971.4 1251.3L1971.8 1239.5L1972.3 1255.5L1972.8 1265.7L1973.2 1241.7L1973.7 1251.1L1974.2 1256.7L1974.6 1262.6L1975.1 1260.8L1975.6 1258.3L1976.0 1257.1L1976.5 1246.7L1977.0 1256.0L1977.4 1255.1L1977.9 1238.3L1978.4 1249.9L1978.8 1246.0L1979.3 1248.3L1979.8 1238.6L1980.2 1246.7L1980.7 1251.3L1981.2 1254.3L1981.6 1259.7L1982.1 1243.8L1982.6 1260.5L1983.0 1241.0L1983.5 1242.2L1984.0 1255.4L1984.4 1245.2L1984.9 1238.6L1985.4 1245.9L1985.8 1239.9L1986.3 1249.5L1986.8 1253.0L1987.2 1253.6L1987.7 1264.1L1988.2 1249.5L1988.6 1260.9L1989.1 1257.8L1989.6 1258.2L1990.0 1245.0L1990.5 1250.7L1991.0 1254.9L1991.4 1262.0L1991.9 1261.2L1992.4 1258.0L1992.8 1250.5L1993.3 1256.0L1993.8 1252.4L1994.2 1242.1L1994.7 1248.8L1995.2 1252.6L1995.6 1246.6L1996.1 1260.2L1996.6 1261.3L1997.0 1261.0L1997.5 1257.6L1998.0 1246.4L1998.4 1252.7L1998.9 1262.0L1999.4 1253.9L1999.8 1254.3L2000.3 1253.7L2000.8 1249.6L2001.2 1250.9L2001.7 1263.7L2002.2 1260.8L2002.6 1250.7L2003.1 1249.6L2003.6 1254.2L2004.0 1257.9L2004.5 1242.3L2005.0 1255.0L2005.4 1262.1L2005.9 1239.1L2006.4 1260.6L2006.8 1256.1L2007.3 1260.5L2007.8 1266.9L2008.2 1252.8L2008.7 1263.8L2009.2 1258.4L2009.6 1255.8L2010.1 1239.0L2010.6 1258.7L2011.0 1258.0L2011.5 1257.4L2012.0 1245.6L2012.4 1250.2L2012.9 1254.5L2013.4 1258.4L2013.8 1241.3L2014.3 1252.2L2014.7 1257.9L2015.2 1247.3L2015.7 1251.9L2016.1 1243.3L2016.6 1246.4L2017.1 1251.8L2017.5 1246.1L2018.0 1255.1L2018.5 1243.2L2018.9 1251.1L2019.4 1242.1L2019.9 1252.7L2020.3 1261.1L2020.8 1242.3L2021.3 1254.5L2021.7 1255.3L2022.2 1246.3L2022.7 1259.7L2023.1 1254.9L2023.6 1248.0L2024.1 1238.7L2024.5 1260.2L2025.0 1247.3L2025.5 1248.3L2025.9 1257.9L2026.4 1258.3L2026.9 1250.1L2027.3 1239.2L2027.8 1250.2L2028.3 1243.0L2028.7 1248.0L2029.2 1255.0L2029.7 1248.4L2030.1 1255.1L2030.6 1249.6L2031.1 1244.2L2031.5 1254.3L2032.0 1248.6L2032.5 1257.9L2032.9 1242.7L2033.4 1249.9L2033.9 1239.8L2034.3 1243.4L2034.8 1255.3L2035.3 1247.7L2035.7 1238.8L2036.2 1251.9L2036.7 1254.4L2037.1 1260.2L2037.6 1254.7L2038.1 1241.7L2038.5 1253.2L2039.0 1245.7L2039.5 1258.3L2039.9 1239.4L2040.4 1256.0L2040.9 1258.1L2041.3 1255.4L2041.8 1243.8L2042.3 1257.2L2042.7 1251.8L2043.2 1254.2L2043.7 1240.6L2044.1 1255.6L2044.6 1265.0L2045.1 1242.7L2045.5 1257.7L2046.0 1259.5L2046.5 1263.3L2046.9 1252.8L2047.4 1244.7L2047.9 1251.0L2048.3 1259.0L2048.8 1260.7L2049.3 1258.2L2049.7 1250.9L2050.2 1254.5"/>
<path transform="translate(211.7 321.8) scale(34.60 30.60)" d="M0.5 1C0.44 0.85 0.33 0.76 0.22 0.68C0.08 0.58 0 0.5 0 0.34C0 0.14 0.11 0 0.25 0C0.37 0 0.46 0.08 0.5 0.18C0.54 0.08 0.63 0 0.75 0C0.89 0 1 0.14 1 0.34C1 0.5 0.92 0.58 0.78 0.68C0.67 0.76 0.56 0.85 0.5 1Z" fill="#ff0000"/>
<path transform="translate(410.7 279.5) scale(34.60 30.60)" d="M0.5 1C0.44 0.85 0.33 0.76 0.22 0.68C0.08 0.58 0 0.5 0 0.34C0 0.14 0.11 0 0.25 0C0.37 0 0.46 0.08 0.5 0.18C0.54 0.08 0.63 0 0.75 0C0.89 0 1 0.14 1 0.34C1 0.5 0.92 0.58 0.78 0.68C0.67 0.76 0.56 0.85 0.5 1Z" fill="#ff0000"/>
<path transform="translate(685.3 150.4) scale(34.60 30.60)" d="M0.5 1C0.44 0.85 0.33 0.76 0.22 0.68C0.08 0.58 0 0.5 0 0.34C0 0.14 0.11 0 0.25 0C0.37 0 0.46 0.08 0.5 0.18C0.54 0.08 0.63 0 0.75 0C0.89 0 1 0.14 1 0.34C1 0.5 0.92 0.58 0.78 0.68C0.67 0.76 0.56 0.85 0.5 1Z" fill="#ff0000"/>
<path transform="translate(1423.1 166.3) scale(34.80 31.00)" d="M0.5 1C0.44 0.85 0.33 0.76 0.22 0.68C0.08 0.58 0 0.5 0 0.34C0 0.14 0.11 0 0.25 0C0.37 0 0.46 0.08 0.5 0.18C0.54 0.08 0.63 0 0.75 0C0.89 0 1 0.14 1 0.34C1 0.5 0.92 0.58 0.78 0.68C0.67 0.76 0.56 0.85 0.5 1Z" fill="#ff0000"/>
<polygon points="584.8,271.9 572.4,291.0 549.6,289.8 539.2,269.5 551.6,250.4 574.4,251.6" fill="#a0a0a0"/>
<polygon points="630.4,271.9 618.0,291.0 595.2,289.8 584.8,269.5 597.2,250.4 620.0,251.6" fill="#a0a0a0"/>
<polygon points="662.8,316.7 650.4,335.8 627.6,334.6 617.2,314.3 629.6,295.2 652.4,296.4" fill="#a0a0a0"/>
<polygon points="1782.3,192.6 1769.9,211.7 1747.1,210.5 1736.7,190.2 1749.1,171.1 1771.9,172.3" fill="#a0a0a0"/>
<circle cx="649.5" cy="257.7" r="19.0" fill="#ff9900"/>
<circle cx="986.0" cy="275.7" r="19.0" fill="#ff9900"/>
<circle cx="1456.0" cy="286.0" r="19.0" fill="#ff9900"/>
<circle cx="1862.0" cy="371.5" r="19.0" fill="#ff9900"/>
<circle cx="1436.3" cy="75.7" r="19.0" fill="#ff9900"/>
<rect x="757.4" y="315.0" width="34.3" height="35.0" fill="#00ff00"/>
<rect x="819.0" y="174.2" width="34.8" height="34.8" fill="#00ff00"/>
<rect x="922.2" y="297.0" width="34.7" height="34.3" fill="#00ff00"/>
<rect x="1440.0" y="318.7" width="35.0" height="34.3" fill="#00ff00"/>
<rect x="1742.0" y="64.7" width="34.9" height="34.3" fill="#00ff00"/>
<text x="1482" y="95.7" class="lg">MgO</text>
<text x="1533" y="205.3" class="lg">C</text>
<text x="1802" y="98.9" class="lg">Al<tspan dy="28.7" font-size="49">2</tspan><tspan dy="-28.7">O</tspan><tspan dy="28.7" font-size="49">3</tspan></text>
<text x="1812.6" y="216.5" class="lg">SiO<tspan dy="27.4" font-size="49">2</tspan></text>
<text x="1884" y="407.2" class="va">VA1</text>
<text x="1877" y="713.6" class="va">VA2</text>
<text x="1877" y="1214.2" class="va">VA3</text>
<text x="184.9" y="1499.3" text-anchor="middle" class="tl">10</text>
<text x="418.1" y="1499.3" text-anchor="middle" class="tl">20</text>
<text x="651.3" y="1499.3" text-anchor="middle" class="tl">30</text>
<text x="884.6" y="1499.3" text-anchor="middle" class="tl">40</text>
<text x="1117.8" y="1499.3" text-anchor="middle" class="tl">50</text>
<text x="1351.0" y="1499.3" text-anchor="middle" class="tl">60</text>
<text x="1584.2" y="1499.3" text-anchor="middle" class="tl">70</text>
<text x="1817.5" y="1499.3" text-anchor="middle" class="tl">80</text>
<text x="2050.7" y="1499.3" text-anchor="middle" class="tl">90</text>
<text x="1117" y="1638" text-anchor="middle" class="b" font-size="88" letter-spacing="2" fill="#000">2θ(°)</text>
<text transform="translate(91.4 721.4) rotate(-90)" text-anchor="middle" class="b" font-size="90.7" fill="#000">Intensity (a.u.)</text>
</svg></body></html>
